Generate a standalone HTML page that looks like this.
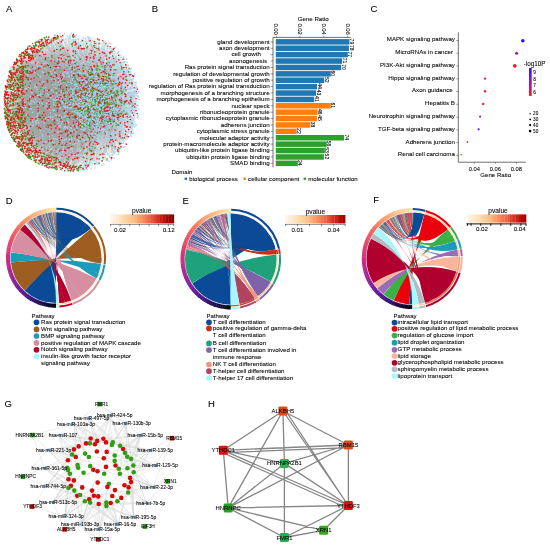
<!DOCTYPE html>
<html><head><meta charset="utf-8"><title>Figure</title>
<style>html,body{margin:0;padding:0;background:#fff}svg{display:block}text{font-family:'Liberation Sans', sans-serif;stroke:#000;stroke-width:0.07px}</style></head>
<body>
<svg width="550" height="548" viewBox="0 0 550 548">
<rect width="550" height="548" fill="#fff"/>
<defs><radialGradient id="ag" cx="0.55" cy="0.5" r="0.5"><stop offset="0" stop-color="#dadcde"/><stop offset="0.8" stop-color="#e0e2e4"/><stop offset="1" stop-color="#e4e6e8" stop-opacity="0"/></radialGradient><filter id="ab" x="-10%" y="-10%" width="120%" height="120%"><feGaussianBlur stdDeviation="0.35"/></filter></defs>
<ellipse cx="71.5" cy="102" rx="66.4" ry="67.9" fill="url(#ag)"/>
<path d="M91.7 104.6L121.9 127.2M92 101.4L122.9 114.6M100.1 100.4L24.1 52.8M73 75.3L17.1 144.2M119.6 105.4L63.3 168.7M98.3 90.5L37.9 61.1M90.5 96.6L19.8 132M84.5 101.2L56.4 55.4M80.8 90.8L65.2 52.6M101.5 97.2L18.3 67.6M113.7 102.7L13.1 72.5M87.2 116.5L24 75.4M111.8 71.6L49.1 63.7M89.4 80.1L93.1 56.5M80.4 110.7L9.5 129.1M115.7 106L45.7 154.7M107.4 104.9L119.2 58.1M101.9 90.1L32.6 138.5M99.7 104.6L46.3 160.2M94.9 99.2L31.5 137M89.3 83.4L52.1 62.4M113.3 84.6L86.9 51.3M90.1 101.6L111.8 119M97 105.5L83.4 169.9M104.9 105.4L62.5 168.3M90.6 103L124.7 99.6M89.5 98.6L32.2 142.9M96.5 100.4L27.1 93.9M92.1 97.2L134.7 93.2M91.6 88.5L9.4 113M99 121.4L109.8 49.9M103.9 78.6L5.4 117.2M105.4 99.8L27 124.1M106.9 94.5L45.7 165.2M75.1 78.4L13.7 109.7M96.7 92.8L124.6 67.4M95 83.2L25.7 64.9M107.8 95.7L57.6 169.1M114.5 84.7L13.6 87.7M96.5 99.6L38.3 55.5M107.7 92.4L93.4 58.8M94.9 108.8L10.4 101.7M114.4 118.9L24.6 123.2M69.5 111.9L17.5 90.8M108.9 99.6L58.3 163.3M84.2 94L12.9 80.2M108.1 108.3L38 156.6M74.7 89.7L17.3 122.6M79.4 97.5L18.4 118.8M64.3 102.3L119.7 53.7M94 114.6L96 62.5M105.1 107.7L45.5 158.4M100.9 70.9L10.3 73.3M120.2 75.1L21.7 118.9M102.3 109.7L46.4 143M86.3 116.9L4.3 109M86.1 113.8L133.9 129.3M103.3 64.3L42.2 154.1M94.1 104.8L44.4 152.7M76.8 89.3L27 128.3M79.5 80.5L33.9 54.7M83.7 101.4L115.4 79.7M105.9 109.5L70.8 170.8M98.4 108.7L18.7 67.2M100.3 108.8L44.3 156.4M87 95.3L112.4 83.8M100.8 85.4L98.1 55.7M75.2 97.2L36.1 156.9M90 80.2L23 151M114.3 107.2L60.3 162.5M108.3 83.9L43.9 161M102.8 109.8L23.5 108.1M90.5 109.4L22.9 141.2M99.7 112.7L39.5 159.5M97.7 98.7L46.1 161M95.1 79L109.7 64.9M77.7 131.4L10 71.1M109 74.4L65.2 38.6M105.1 110.2L103.8 46.1M103 82.7L46.9 45.8M95.4 101.2L30.4 140.1M77.9 91.4L48.4 51.2M118.2 98.5L16.5 101M92.4 94L70.9 146M92.9 118.9L13.7 120.2M86 77.7L43.8 66.6M101 106L52.5 156.5M99.6 98.4L16.5 85.5M91 113.2L28 111.5M101.8 92.6L110.4 85.2M71.7 104.1L25.2 117.5M102.8 128.4L12.6 102.7M101.6 96L7.4 98.4M92.3 89L29.8 105.7M110.1 98.3L57 145.9M88.7 107.4L132.1 102.7M98.5 92.4L56.5 37.3M91.9 110.2L22.5 147.4M100.7 99.8L56.9 167.7M95 108.2L90.5 151M121 90.7L26.1 52M110.3 92L129.5 121M74.3 104.6L61.9 144.5M101.1 95L43.7 144.6M92.6 62.5L13.7 88M88.8 102.8L23.2 116.7M109.2 97.7L53.3 166.3M103.1 103.2L17.8 104.8M83.5 105L34.8 138.7M104.7 102L110.7 142.5M77.2 79.2L38.2 158.7M64.6 108.8L101.4 70.6M115 102.1L15.6 111.7M108 98L101.1 43.2M104.7 96.3L20.2 76.8M79.1 102.4L26.8 67.5M88.2 89.2L43.8 156.8M98.8 101.2L26.1 75.4M97.9 115.4L38.9 146.7M78.4 76.7L76.1 150.4M114.7 93L9.2 82.8M80.3 72.3L14.2 137.1M101.2 77.6L90.1 167.8M85.9 120.3L8.9 121.3M78.3 107.6L103.5 144.9M103.1 132.2L83.4 169.1M116.6 81.9L136.8 101M91 105.3L70.5 59.2M88.5 87.1L24.7 154.4M92.7 109.9L120.1 150.8M98.2 109.8L94.8 52.9M109 102.5L41.2 41.5M97.6 96.1L86 169.7M103.8 93.2L112.7 70.8M90.4 130.4L66.9 163M90.8 107.5L4.8 91M96.5 112.7L121.1 86.9M94.9 111.8L113.6 81.1M101.9 77.9L79.7 44.2M89.6 108.1L17.6 60.4M95.2 88.2L37.5 162.6M74.6 98.2L46.3 159.7M85.1 78.8L48.3 62.2M100.9 88.9L28.2 147.4M98.1 107.3L10 103.4M110.5 97.3L30.1 63.9M106.8 106.8L107.3 44.7M105.5 100.7L9.5 102.4M104.5 87.4L9.5 94.7M100.5 104.8L6.5 98.9M106.5 98.8L91.3 149M101.7 120.2L112.5 119.6M82 108L110.6 127.7M90.5 85.4L30.7 154M72.5 111L40.3 138.7M93.8 89.3L40.2 47.8M72.6 113L93.7 139M77.4 92.1L121.3 133.8M84.4 109.2L40.9 149.6M106.7 107.5L117 92.2M116.8 120.2L29.2 106.7M106.5 92.2L24.7 56.9M107.2 117.3L26.3 133.1M98.7 106.3L6.5 116.9M95.4 118.9L125.9 116.7M95.2 94.4L114.6 142.2M77.6 92.4L17.7 135.1M87.3 86.1L20 119.1M97.7 83.9L8.9 126.6M89.8 100.4L16.4 116.1M113.4 108.4L29.1 98.9M82.3 97.7L114.3 152.3M116.1 97.5L94.9 166.8M62.5 99.7L103.6 157.5M99.3 96L24.5 71.8M91.3 121.6L8.4 120M93.8 113.4L8.2 81.2M96.4 91.7L37.5 61.9M106.5 86.1L104.9 71M113.3 97.2L29.1 65.7M84.1 92.3L28.1 118.8M94.8 93.9L70.2 161M112.2 96.3L55.5 141.5M102.2 99.6L21 125.4M100.5 93.8L5.2 86.6M91.2 102.9L48 161M100.2 115.4L116.1 153.6M95.3 105.4L18.2 92.4M86.7 103.9L9.6 89.4M86.4 86.8L66.6 53.5M98.2 95.8L31.2 129.6M116.1 106.1L5.9 109.6M100.5 114.9L31.2 51.2M100.1 108L16.3 59.2M107 80.2L68.8 48M95.9 104.1L23.3 72.5M92.6 88.1L13.8 127M84.9 96.5L117.5 91.5M96.7 96.4L35 143.8M81.4 83.4L124.5 94.8M105.7 81L15.2 125.9M84.9 93.2L21.2 95.6M96.9 100.4L42.3 39.1M98.7 98.7L30.9 55.6M94.6 93.2L29.6 151.6M106.6 73.2L45.7 38.1M97.6 100.2L93.7 46.6M103.3 81.6L72.8 166.4M98.2 108.9L35.9 157.7M80.6 128.3L106.4 53.7M108.2 100.6L22.8 66.8M86.2 95.9L125.3 137.4M95.3 98.6L8.6 122.4M83 98.4L67.1 169M93.1 106.8L27.5 102.5M91.5 94L51.2 41.7M86.5 89.2L15.9 143M97.2 96.1L22.5 116.1M96.5 112.4L73.2 40M87.7 88.4L7.4 85.1M74.2 106.4L109.9 141.8M102.2 91.7L37.6 148.6M99.3 104.3L26.6 154M91 105.4L65.7 57.5M100.9 96.6L12.3 70M91 93.3L20.6 141.2M100.1 78.7L34.7 60.7M106.1 111.8L22.8 129.7M86.8 102.5L117.5 57.9M87.2 73.8L37.2 58.8M87.9 114.9L22.9 132M88.2 90.8L14.6 128.4M81.4 71.3L10.6 87.6M59.8 100.2L19 109.4M109.6 92.3L17 103.9M76.5 96.6L20 94.8M103.5 95.1L22.6 142M122 124.1L19.6 138.9M77.3 107.6L41.9 154.7M109.8 92.1L20.3 57M110.5 114.3L35.1 60.1M86.4 94.5L35.7 150.3M105 76.3L56.1 157M112.4 115.4L29 50.4M94.7 111.7L35.7 158.7M81.4 99.8L43.5 57.4M118 86.9L25.7 66.2M93.5 96.3L40.7 163.7M97.3 120.4L27.2 65.5M77.4 83.7L121.3 62M99.6 90.7L11.9 90.1M70.1 108.1L67.2 150.1M104.7 109.6L15.3 125.4M78.8 98.2L134.5 104.7M78.6 101.3L99.6 57.1M66.1 114.1L4.9 90.3M79.8 85.5L38.5 162.9M80.1 97L130.3 115M86.7 89.6L34.8 143.9M73 94.4L18.7 130.9M100 88.4L25.7 134.3M92.9 113.3L35.8 48.6M89.5 107.9L18.4 101.8M115.2 103.2L30.4 89.7M94.5 99.4L21.3 89.5M81.3 86.4L52.5 46.6M91.2 89.8L12.1 118.4M101.6 102.9L19.3 89.4M98.8 81.7L32.1 155.8M78.1 105.9L124.8 121.5M101.3 99.6L12.4 71.1M92.9 98.7L23.2 100.9M81.8 100.1L6.5 88.9M96.3 98.1L120.7 150.2M117.3 111.8L55.6 161.6M89.2 73.1L122.2 132.4M91.3 84L69.8 169.6M94.6 96.1L5.8 87.3M87.1 117.5L28.9 46.5M83.5 110.6L19.1 85.4M82.8 112.2L26 128.3M102.1 67.5L26.2 81.3M127.6 111.1L95.2 56.1M66.8 75.9L30.9 71.4M70.5 109.8L21.4 84.6M98.7 88.1L41 157.1M105.9 73.1L31.1 47.1M109 79L115.5 74.9M109.2 106.4L90.3 161.7M103.6 94.1L47.7 52.2M97.7 107.6L85.4 49.1M115.1 110.3L77.6 159.2M116.6 81.7L15.5 110.5M98.2 105.9L15.5 79.1M82.2 107L25.7 140.8M96.8 90.6L40 149.4M98.4 98.4L108.4 59.9M85.8 93.9L11.6 132.8M97.6 74.1L70.4 145M97.5 105.8L36.6 53.5M99 95.5L35.2 129.9M104.7 95.5L28.5 48.4M88.7 86.6L24 81M101.8 100.5L126.9 79.3M89.8 114.6L111.6 134M94.7 104.7L95.2 145.1M107.2 113.3L9.3 72.6M103.2 94L115.7 51.8M104 108.9L9.1 92.9M101.6 84.7L101.6 140.5M114.3 105.2L111.8 154.8M93.6 111.3L28.8 149M83.3 123.6L54 39.8M90.6 90.2L60.6 150M98.7 109.8L136.7 101.2M103.8 104.2L128.5 124M85.3 132.7L20.5 55.5M119.6 98.3L92.4 152.1M102.8 93.2L102 138.7M97.6 77.7L77.3 168M84.6 98.3L18.9 97.2M87.4 93.6L20.1 74.4M117.3 106.1L23.4 117.3M68.9 101.9L22.8 145.2M94 97.3L19.4 120.9M109.9 112.2L105.3 63.1M91.9 85.6L131.6 126.9M109.6 93.7L17.1 91.2M128.7 102.4L55.1 167.7M96.3 95.1L7.8 76.5M81.2 88L58.5 58.7M109.1 82.9L7.2 120.7M89.1 101.9L101.2 65.8M75.7 88.5L27.8 135.6M82.1 95.9L79.9 51.5M95.7 109.7L29.7 52.2M124.3 90.1L16.5 135.3M90.2 97.1L7.2 119.7M117.1 93.7L28.7 53.5M115.2 80.1L16 91.4M92.6 114.1L36 67.4M81.2 96.2L60 151.1M91 92.7L124.4 86.7M93.3 112.5L98.6 139.4M102.4 106L33 160M71.2 90.9L18 76.2M101.2 117.5L16.4 84.5M84 100.2L47.5 163.8M93.3 97L32.2 50.5M84.4 98.6L54.1 162.6M97.6 102.1L31.2 118.3M84.3 107.1L108.8 133.3M115.6 92.6L30.8 146.1M76.1 81.1L11.4 95.1M94.1 76.1L84.6 42.2M100.8 94.5L132.5 103.7M81.9 90.2L23.8 78.3M100.5 72.2L31.9 140.2M74.9 103.4L20.1 140.9M85 118.6L18.8 102.2M99.4 108.1L4.9 104.2M105.1 92.5L107.1 43.2M98.9 111.1L113.8 104.9M81 92L79.6 46.1M110.7 97.8L50.9 53.1M84.1 111.6L10.5 114.4M81.4 107.7L121.1 54.3M81 99.2L121.5 100.8M71.5 93.5L23.2 52.1M110.7 85.8L135.7 98M88.3 101.6L7.7 118M102.6 114.7L30 158M92.5 95.1L24 64M106.1 98.3L20.2 70.5M100 112.4L65.7 161M51.4 89.3L33 126.6M107.1 116.3L72.8 168.1M102.9 81.9L110.4 118.4M96.5 86.6L43.1 140M94.4 103.9L26.9 76.1M82.8 102L4.6 94.1M118.2 87.2L38.7 146.4M63.2 98.9L18 142.8M85.4 122.7L84.2 54.8M100.7 108.9L13 106.6M85.1 106.7L23 149.8M93 107.4L7.3 84.6M93.4 92.5L27.2 53.4M107.1 77.9L24.8 147.5M103.6 95.7L24.5 100.5M88.4 100L67.1 167.8M84.4 91.5L20.3 98M106.2 108.9L63.7 164.2M80.7 110.6L52.1 151.4M102 102.2L45.8 156.8M107.9 108.6L6.5 121M91.5 106.6L13.8 74.8M113.9 85.8L101 66.2M94.5 101.1L44.9 57M78.7 108L72.1 166.5M84 112.7L10.9 69.1M102.5 99.9L29.9 158.4M88.1 115.2L30.3 55.6M94.6 111.9L46.9 137.1M106.4 78.6L7.2 97.2M112.6 112.8L27.2 134.9M93.9 103.5L12.3 133.3M87.4 78.1L33.8 61.9M114 104.7L6.8 118.2M95.3 94.1L88.2 55.4M62.1 88.1L25.2 88.6M106.4 102.5L50.8 167.6M89.8 79.3L43.9 161.2M106.1 93.3L35.9 47.4M83 118.7L74.5 55.6M86.2 82.8L77.9 38.1M103.1 105.1L50.2 166M101.6 117.1L9.7 127.4M96.7 98.8L71.6 57.8M87.5 62.4L114.4 137.7M87.3 101.4L136.5 105.5M83.8 83.6L43.4 61.1M95.2 105.1L36.1 152.4M111.8 73.5L13 68.1M100.2 87.8L20.1 107.9M95.3 101.8L27 54.6M87.2 70.9L17.4 104M101 107.2L124.3 131.8M102.3 110L108 125.6M87.1 101.1L134.5 103.1M109 80L37 155.8M84.6 103.6L21.2 88M100.6 107.4L6.5 106.7M104.9 103.9L135.5 90.1M118.3 71.7L24.8 57.3M113.2 105.2L55 157.3M109.2 93.7L56.1 151.3M97.3 96L7.1 81.1M88.3 87.4L22.9 130.8M83 92.8L20.9 108.3M94.9 103.8L71 157M86.2 94.9L114 139.3M90.5 95.2L33.7 51.9M95.3 91.6L63.7 57.8M101.3 86.6L24.1 67.2M103.9 101.4L50.6 160.4M70.7 110.2L111.3 59.8M117.8 85L21.6 72.4M84.7 76L31.1 136.5M94.3 94.2L117.6 136.1M97.1 92L49.4 57.6M99.9 111.3L32.2 79.5M101.2 98.8L93.8 155M90.1 117.2L19.8 110.2M97.1 97.3L24.3 55.7M87.5 99.2L20.1 143.6M91 94.7L6 101.1M85.6 109.2L32.1 136.2M112.1 98.6L54.5 35.1M90.1 88.9L15.3 118.5M62.9 92.3L126.3 114.2M98.5 71.8L31.8 57M88.1 106L118.5 52.6M90.4 87.9L67.9 46.5M87 88.9L35.2 126.9M89 107.8L21.1 108M95.4 107.5L65.7 163.8M81.5 102.1L56.6 146.6M105.1 102.5L23.7 77.5M79.2 122.7L112.5 125M61.3 79.4L25.4 68.3M108.6 104.2L63.7 150.4M102.7 99.1L13 77.3M100.4 114.8L43.1 63.1M91.6 64.8L127.3 133M103.4 89.6L55.8 160.3M76.2 75.3L31.8 148M78.8 109L30.1 147.6M94.4 112.5L55.3 37.3M93.1 86.5L61.5 163.8M115.1 110.8L13.9 111M85.3 83.3L20.4 72.7M96.9 75.6L16.8 127.8M101.4 95.5L20.8 121.4M69.5 127.8L13.2 64.4M98 101.4L27.8 85.8M106.5 93.4L40.5 39.3M96.7 88.5L13.8 102.4M82 117.4L42 162.3M111.5 111.2L20.1 91.5M110.6 104.2L7.6 92.9M93.9 111.8L23.2 92.5M98.5 114.5L42.3 153.2M92.6 109.4L107.6 71.9M87.8 82L14 70M101.7 124.1L53.3 40.4M107.4 115.2L17.7 57.6M85.6 97.7L71.8 164.3M84.2 122.4L13 121.9M103.5 115.8L11.9 68.5M85.8 110.1L43.5 141.7M121.4 92.5L64.9 148.4M94.5 102.9L14.7 116.8M93.8 99.4L39.1 54.5M76 92L114.7 57.3M85.8 104.7L17.7 144.3M96.3 98L115.1 79.8M85.3 89.9L53.9 159.8M101 70.2L16.7 81.1M84.2 94.6L132 102.4M104.4 85.6L118.7 100.4M80.3 82.4L15.5 76.7M80.2 85.3L7.2 92.5M87.2 91.4L12.2 112.3M80.3 96L13.5 113.1M98.7 89.2L27.3 57.6M107.9 73.7L121.1 116.1M106.8 77.1L61.1 169.9M80.4 116.4L29.5 115.1M59.9 125L20 119.3M101.5 77.1L13.8 83M96 110.5L18.9 144.5M90.9 96.1L12.7 74M96.3 122.6L7 90.9M74.6 108.7L41.4 134.1M83.4 102.4L56.8 153.3M80.8 79L29.6 134.9M107.4 130.4L29.7 146.2M92.6 102.4L30.6 141.6M67 98.6L127.5 111.3M80.9 101.4L24.4 130.5M105.8 89.1L9 97.3M84.8 79.3L18.5 107.6M101.8 104.2L21.7 53.4M95.3 81.2L13.2 82.6M113.8 104.7L63.3 166.9M133.9 99.5L38.9 161.4M105.5 85.2L33.5 123.3M86.2 122.6L102 62.7M96.3 102.1L33.1 141.8M77.8 99.2L28.5 64.2M91 96.5L14.2 112.1M90.4 107.3L56 161.4M100.6 81.5L120.7 80.2M98.2 94.9L20.1 92.6M110.8 105.6L25.2 61.5M90.1 88.3L32.3 58.1M96.6 103.8L15.7 137.7M111.4 87L35.9 153.5M88 113.1L42 46.7M108.5 117L38 129.8M81.4 110.7L11.8 109.9M93.1 84.3L120 145.4M116.2 118.5L123.2 80.9M92 109.6L6.2 103.4M107.5 106.3L25.2 68.6M101.1 101.8L21.4 126.4M104.9 118.6L21.2 61.6M110.3 101.3L14 89.9M87.4 108.1L95.5 142.8M105.9 93.8L110.1 61.8M98.4 102.7L112.7 140.1M88.7 96.5L100.5 151.4M82.6 97.5L15.3 140.9M96.7 124.3L104.5 74.3M109.1 92.8L17.1 75.7M97.8 119.5L39.4 159.6M84.3 96.8L121.1 131.7M96.8 115.4L61 59.3M95.5 115.6L127.3 117.1M86.5 75.7L29.3 62.7M125.8 100.1L16.3 139.3M93 78.5L24.1 150.9M97.2 109.4L133.2 100.9M79.9 99.9L123.6 67.3M89.3 91.5L107.2 48.8M112.3 109.3L7.4 82.6M109.5 71.1L69.5 37.9M100.6 81.6L36.7 53.6M64.2 91.8L45.8 162M96.3 113.1L47.5 45.1M77.3 112.3L44.1 39.7M101.1 86.2L9.6 87.8M74.5 84.1L125.3 103.6M101.3 98.6L20.8 131.1M83.7 101.1L27.9 144.3M93.5 103.4L17.3 79.8M97.3 91.8L132.5 118.6M99.2 107.5L40.2 139.5M108.7 86.6L27.7 137M109.9 93.8L95.2 162.5M103.3 111.6L12 129.8M91.4 102.8L107.8 58.4M73.7 118.9L49.4 63M85 88.1L32.7 148.8M86.5 88.7L42.1 41.6M82.6 98.1L131.2 124.8M88.3 82.8L10.3 70.1M91.8 104.3L107.3 72.3M80.5 89.1L24 137.6M90.8 119.6L23.9 108.6M81 79.1L21.7 149.5M90 78.7L27.3 146.7M100.5 92.6L95.5 147.1M105.3 101.6L56.2 159.4M98.7 108.8L71.1 168.9M69.8 120L19.2 127.3M97 86.9L19.3 68.2M84.6 78.9L15.8 112.5M93.6 120.3L25.1 53.9M104.5 94.2L17 67.6M97.2 92.1L18 93.2M70.7 117L42.8 147.1M99.1 86.7L33.4 48.7M81.4 73.5L27.2 149.4M69.6 97.7L25 76.7M85.7 93.4L86.7 39M106.3 113.8L7 101.8M112.2 85.3L32.5 48M108.8 112.9L33.7 69.1M111.1 105.3L64.7 149.3M95.9 103.7L133 92M82.2 113.6L24.7 49.6M90.1 92.8L4.5 108.8M97.9 92.4L9 92.6M86.7 94.2L87.7 164.8M100.8 83L20.6 63.8M90.8 100.2L62.5 44.9M82.4 107.1L81 166.6M118.5 97.4L38.8 163.2M108.4 104.4L20.5 125.9M83.6 101.3L16.1 140.5M93.6 82.4L53.1 163.6M84.5 64.7L133.9 80.5M91.4 77.6L52.7 158.9M91.8 79.9L27.9 143.8M106.1 97.4L58.3 161M99.8 84.5L71.4 166M55.9 105.1L86.5 48.9M98 91.9L6.7 106.7M95 100.7L55.1 36.4M108.8 96.3L23.7 145.5M98.8 92.1L49 164.4M119.4 99.4L30.1 111.8M107.3 87.7L35.3 144.9M76.5 99.8L24.1 139.9M101.1 104.2L20.8 71.1M91.3 84.5L15.4 73.8M79.3 109.4L75.2 161.2M89.8 84.3L27.2 135.2M80.7 82.1L19.3 55.7M96.8 128L15.8 85.3M103.9 93.1L20.4 79.3M103.1 111.3L42.8 46.2M72.3 89.7L29 61.3M96.6 93L10.4 110.2M116.5 99L19 125.8M98.7 111.3L29.6 142.9M109.8 77.5L28.5 140.1M105.6 112.2L76.4 60M100.7 100.9L25.9 68.7M82.2 101.7L31.8 47.2M92.5 74.9L103.4 48.6M114.3 101.8L12.4 130.1M108.3 126.1L11.6 76.2M88.3 107.4L17.9 89.4M116.7 62.3L64.3 150.3M92.7 99.4L33.2 145.8M112.8 83.2L122.4 142.2M87.9 114.8L6.4 112.5M76.5 94.4L120.1 81.6M112 87.7L111.9 128.1M88.4 125.5L44.8 151.4M101.2 110.5L49.1 43.5M95.2 88.2L52.6 157.2M84.2 84.4L21.9 66.2M93.4 102.5L64 167.2M114.5 94.2L15.2 62.2M90.6 110.6L14.2 123.1M120 114.9L30.6 58M98.8 123.3L47.9 57.7M103.4 98.5L104.1 153.1M78.7 88.1L64.3 162.1M81 110.7L78.7 145.3M120.3 100.4L20.7 76.8M94.9 110.4L108.9 134.2M98 87.8L15.5 63.7M97.5 110.6L20.2 92.2M113.2 104L75.5 144.7M89 100.4L61 58.4M106 108L44.6 165.7M106.2 103.1L123.6 79.6M103.3 102L11.7 76.5M120 92L46.9 155.6M96.3 103.3L15.6 72.3M91.4 106L42.2 137.6M109.8 96.5L12.7 116.1M94 81.9L17.1 118.1M109.4 116.5L67.7 37.3M76.1 118.7L49.3 156.4M102.9 102.5L12.4 133.4M94.9 80.8L22.3 137.6M126.6 100.5L24.8 119.7M54.7 100L84.8 165.2M110.3 147L81.4 169.1M89.2 110L10.8 84.5M107.8 118.8L11.1 97.4M76 90.2L47.5 154.1M99.2 103.7L14.3 69.2M103.9 101.3L10.2 101.9M109.6 85.6L118.3 88.7M107.4 93.3L39.1 39.9M92.4 108.4L108.3 62.2M70.2 93.4L39.6 55.1M102.2 104.5L17.2 68.6M121.8 78.2L16.4 104.7M94.7 107.5L5.6 115.7M94 79.8L41.8 45M109.7 98.9L56.6 44.2M108.9 127.7L77.1 155.3M103.5 95.7L29.4 141.3M101.4 104.6L37.5 162.1M83.7 105.6L13.7 102.5M82.5 114L56.2 169.6M91.5 91.1L29 55.3M85.5 65.5L16.3 63.9M102.7 82.1L112.6 60.1M95.7 100.1L64.1 53.1M96.1 98.5L9.9 78.1M93.1 118.4L115.4 107.5M126.6 84.3L26.7 151M82.1 105.4L82.8 169.9M110.3 107.9L66.5 164.9M93.4 86.2L96.5 164.8M91.1 96.4L18 81.9M98 121L119.5 135M102.4 117L83.7 55M111 108.6L102.1 139M89.6 94.9L74.2 150.8M80.8 105.4L130.7 113.9M97 108.6L50.6 46.7M102.2 92.9L7.2 84.9M98.3 120.1L57.5 35.6M98.1 87.2L17.4 75.6M98.5 100.2L110.5 157.8M105.4 87.9L18 113.6M72.9 93.9L18.1 120.9M97 109.2L57 40.8M85.2 108.2L124.8 78M106.3 106.8L63.9 144.5M123.3 94.6L11.9 127.1M114.7 107L30.8 119.3M90.5 101.6L118.2 117.9M95.8 91L6.7 113.7M105.2 117.6L25.5 151.4M101.4 96.9L41.5 48.9M86.5 91.5L58.7 41.5M100.9 104.2L121.6 142.7M89.8 106.3L33.7 147.4M90.4 105L18 103.8M73.2 80.7L41.5 160.4M99.3 88.7L21.9 143.9M102.2 104L21.5 134.2M111.6 83.8L15.1 66.1M87.9 87.4L109.4 145.1M82.5 118.6L37.6 52.2M94.3 78.5L133.1 121.6M81.3 93.8L31.9 47.3M95 104L45.2 166.3M94.5 89.4L19.6 139.6M105.7 94.8L114.8 67.6M112.1 85.5L26.7 54.8M71.8 111.4L84.8 152.3M73.6 122.8L118.8 150.2M112 101.8L9.8 72.8M71.2 94.4L41.6 140.6M94.2 74.6L21.8 129.6M102.9 94.3L26.4 153.4M80.3 93.6L113.7 156.3M111.7 98L98.3 163.6M74.2 91L28.2 154.3M95.7 100.7L124.8 61.7M109.9 93.7L29.1 84.9M79.1 80.8L7.7 98.4M81.3 105.5L106.9 125.7M83.9 115.4L75.4 150.7M87 97.2L110.7 74.5M77.2 87.4L57.3 42.3M91.5 122.6L134.4 124M89.8 99.9L19.1 57.3M77 102.6L39.3 156.8M95.3 106.7L16.8 138.2M99.8 105.8L53.6 164.5M101 111.6L63.1 170.3M84.8 65.6L24.3 147.6M90.3 85.9L29.3 45.8M107.3 81L10.3 92.7M85 102.5L39.3 48.2M101.9 95.7L8.9 101M110.4 92.4L56.9 160.4M95.9 95.1L12.2 123.9M104.5 90.6L124.7 76.2M83.4 99.7L7.5 96.8M86.2 107.4L41 152.2M105.6 114.8L54.7 160.8M100.6 105.5L42 155.1M121.6 81.2L110.6 80.6M107.4 91.7L28.6 135.6M95.4 80.5L113.2 112.4M96.9 99.9L40.5 68.2M99.3 105L39.8 40.8M71.9 125.8L18 142.5M136.7 91.3L92.7 144.6M102 107.9L123.5 122.6M93.6 94.9L21.4 61M108 86L6.2 107.3M80.2 111.3L20.1 114.3M78.4 107.9L64.5 49.4M126.4 89.9L33.5 67.7M87.7 105.2L87.8 40.7M112.2 62.1L45.7 159.6M93.6 115.8L29.5 48.5M99.8 95.5L73.5 56.1M96.2 81.1L25.7 73.7M100.1 95.7L111.1 132.5M114.9 115.2L19.9 75.6M91.5 93.3L63.2 54.8M89.1 89.3L18 104.4M70 105L5.9 111.8M86.8 88.4L24.7 57.1M116.7 111.2L123.8 113.7M74.7 102L34.4 159.1M97.8 104.5L105.9 135.1M83.2 98L27 66.8M100.1 125.8L132 90.6M84.1 86.3L30 117.7M115.2 85.9L69.9 53.8M71.5 103.5L112.5 80.1M88.3 82.9L58.7 166.3M84.7 98.4L14.3 108M109.2 121.1L4.6 110.5M96.9 104.4L22.1 94.6M90.1 86.7L33.7 58.7M107.6 83.3L22.7 98.8M96.3 132.9L49.8 167.5M105 81.5L132.7 71M86 79.5L10.5 105.4M109.2 88L117.8 105.9M105.6 120.2L45.6 44.6M83.6 96.9L21.2 136.9M117.3 108L119.3 142.7M94.1 105.3L6.1 93.6M92.5 81.7L36.5 42M99 104.2L85.9 57.5M78 97.7L23.2 132.1M99.5 98.4L44.2 160.9M86.1 105.6L81.7 161.2M102.2 85.7L123 74.6M97.1 102.5L31.1 147.3M85.1 103.2L116 82.9M101.3 107.2L11.7 136.4M113.1 115.5L104.1 152.1M109.4 103.5L10.6 73.3M88.3 85.9L127.1 138.8M104.2 98.2L53.3 161.9M106.7 97.5L11.3 84.3M89.8 85.2L18 120M71.4 98.7L14.8 124.2M108.8 112.2L11.6 69.3M114.8 103.8L110.1 135.9M111.2 103.7L36.4 152.7M81.3 113.2L18.2 74.8M109.8 119.8L110.8 137.5M94.5 97L33.7 138.7M83.2 123.9L109.9 57.5M113.3 94.4L28.4 82.7M80.2 96.2L25.1 141.4M96.8 108.3L19.5 100.7M90.7 90.9L61.6 163.9M88.5 76.3L71.9 168.6M82.4 97.1L26.3 133.7M74.1 100.3L13 129.9M81.2 114.8L84.1 149M99.1 79.5L31.3 55.3M94.3 102.6L24 111.7M98.1 89.2L14.9 70.5M93.1 112.9L122.9 61.5M104.4 87.7L55 167.4M117.5 86L23.5 130M90.4 102.6L23 121.8M86.8 92.4L16 144.3M79.8 113.9L8.4 81.4M114.3 100.5L58.8 148M112.5 75.5L8.6 101.8M106.2 100.6L26.7 67.9M101.5 104.3L26.9 130.2M123.4 123.4L31.6 51.6M92.4 100.5L89.6 55.6M97.4 83.4L120.2 119.7M97.5 116L102.6 53.4M77.3 113.2L48.3 167.2M105.5 104.7L18 116.2M58.4 94.3L10.9 117.4M100.7 91.2L39.4 142.8M82.4 86.9L26.6 141.3M83.7 95.7L28.4 51.6M106.9 94.7L11.2 85.5M97.5 120.8L97.1 55.7M94.7 94.9L12.8 83.6M97.6 105.6L54.7 55.5M90.7 92.5L97.8 152M88.6 113.1L8.3 124.4M87.9 116.3L24.6 58.8M86.7 94L29.5 57.5M85.7 108.7L97.4 47.6M109 109.1L22 76.4M105.8 119.9L135.6 108.5M72.2 107L8.9 88.7M103.1 124.6L80.1 168M100.6 103.3L28 65.3M102.9 78.4L20.8 107.6M107.5 113.8L83.5 48.9M105.7 128.7L14 68M90.6 85.7L24.4 143.5M116.5 101.6L108.4 64.8M98 109.6L42.6 56.7M87.6 96.8L17.8 111.8M97 89.6L32.8 154.1M103.7 103.8L20.8 107.8M87 93.7L15.2 108.2M110.9 114L12.2 82.9M80.1 69.5L8.3 118.3M103.6 88.4L54.3 164.3M80.7 103.7L136.6 109M96.1 101.5L20.7 77.6M99.6 120.2L17.2 74.1M87.5 87.9L125.5 126M92.3 91L66.8 57.5M108.9 75.7L41.6 162.8M107.9 105.8L32.9 155.5M100 77.8L46.9 164.2M110.6 110.6L118 100.7M116.3 103L37.4 145.4M81 96.9L13.2 124.3M105.3 89.6L21.3 81.8M86.3 93.6L100.8 67.9M76.8 117.7L128.8 106.9M78.1 79.5L105.7 139.7M90.1 77.6L15.5 91.1M108.9 99.9L5.4 99.3M89.9 88.6L52.3 155.9M97.3 92L132.2 130.3M115.6 101.3L56.3 165.4M89.3 101.4L50.7 167.2M84.7 107.3L10.4 89.3M95.4 87.5L33.3 47.7M95.8 87.6L23.4 112.8M102.7 92.2L34.4 124.1M67.8 107.9L4.6 101.8M100.6 95.1L13.3 74.8M105.3 108.5L61.6 170.1M102.2 102.6L113.4 151.8M86.4 102.9L30.6 55.9M120.6 116L5 99.2M113.4 105.8L62.7 53.2M86.6 98.2L35.6 158.7M92.1 116.4L20.4 57.2M106.6 108.2L61.8 50.7M71.6 112.4L23.4 97.7M80.8 79L128.5 133.8M99.5 107L90.1 153.7M93.7 92.3L115 136.3M83.3 82L19.9 141M87.9 77.9L24.6 135.8M86.7 97.2L131.8 88.2M109.5 97.3L75 163.7M88.3 68L107.4 67.2M98.4 83.6L29.7 138.8M105.8 82L48.5 167.2M106.6 115.1L32.7 55.8M91.7 107.7L29 136.7M94.7 98.3L78 150.4M100.9 98.9L23.2 74.1M95.3 108.7L23.7 152.6M100.1 93.6L130.8 110.1M102.3 79.3L89.2 58.7M85.1 95.5L14.9 104.3M71.2 80.9L25.4 81M106.3 92.5L34.8 142.7M83.3 82.8L80.7 48.7M73.7 103.2L26.2 60.2M100.3 93.8L24.3 117M109.1 97.7L39.7 66.7M102.9 96.6L16 128.3M67.5 115L8.2 101.7M82 98.7L22 100.3M60.7 70.8L24.6 153.2M107.8 102.7L49.8 37.1M104 83.3L122.5 106.1M93.7 116.1L12.4 110.5M90 101.4L89.4 46.3M108.1 109.7L132.2 96.8M120.6 105.6L60.6 167.9M107.7 73.5L8.1 103.7M96.3 80L14 110.2M109.4 89.3L124 111.9M75.2 91.2L32.1 62.6M84.3 86L111.2 88M83.6 122L23.7 63.1M98 88.9L9.5 113.9M67.4 81.3L117.4 87.3M82.2 96.7L24.1 59.8M99.6 67.9L42.8 151M107.9 119.3L4.9 110.4M91.4 104.6L34.4 152.2M111.9 114.2L111.4 153.4M98.9 89.8L89.2 56.6M121.1 98.2L122.7 138.8M97.7 79.8L121 97.2M109.7 72.7L20.4 84.5M85.5 93.7L20.9 109.2M102.4 91.8L50.5 61.1M98.9 76.2L24.4 68.2M98.3 103.2L32.4 44.1M95.1 92.3L113.6 126.9M81.3 75.4L13.8 130.1M96.1 120.9L83.4 46.8M92.9 91.6L37.6 151.3M97.6 109.2L24.1 119.3M108.2 92.7L103.4 63.8M94.7 104.1L76.7 56M58.8 114.4L23.6 146.6M104.8 90.1L21.5 93.3M89 88.6L59 154.8M66.9 103.7L120.4 77.1M101.9 96.4L29.8 50.3M60.9 118.6L19.9 145.7M95.2 83.4L24.6 77.2M97.3 110.4L22.5 103.4M86.7 88.8L23.4 102.3M84.6 104.2L10.5 100.8M95 109.3L7.8 124.8M86.8 94.6L61 163.4M102.3 91.9L19.3 122.5M91.2 97.2L10.8 84.8M116 86.3L5.6 86.4M91.6 98.3L36.4 65.9M86.1 101.2L13.6 129.3M101.1 81.6L26.7 138.5M107.8 130.7L14.6 90M104.5 104.9L28.4 52.2M110.4 81.3L56.3 148.3M91.9 87.5L34.7 153.7M73.6 87.4L21.8 150.5M121.6 99.7L18.7 109.1M91.5 106.2L13 82.4M91.5 98.2L82.2 155.8M105.1 98L76.6 43.2M75.2 105.4L86.7 156.7M77.8 85.9L28.9 156.9M82.8 115.1L100.1 157.6M111.1 112.5L73.6 168.3M91.6 124.8L58.8 163M89.4 82.3L30.1 151.8M97.3 96.3L56.3 142.1M103.4 91.9L68.6 169.7M82.5 91.3L18 112.7M78.9 122.2L21.2 81M91.7 104.1L36.6 73.1M119.2 85.8L15 79M101.1 87.6L47.6 60.5M85.4 88.2L94.6 159.2M105.1 100.7L29.7 47.5M96.4 83.4L43.8 147.8M106.5 94.9L108.4 71.2M65.3 89.2L12.9 66.2M100.8 96.4L63.2 52M89.7 85.7L135.1 120.2M77.5 113.6L90.5 55M92.2 97.2L128.5 133.6M89 85.7L134.7 79.6M112.6 108L37.9 75.1M107.4 91.6L90.9 55.9M124 103.4L52.1 158.1M86.2 83.2L13.1 139.7M91.1 100.2L125.2 144.2M106.4 80.3L14 79.7M104.5 110.3L116.1 151.4M86 102.9L17.3 126.2M107 88.1L118.1 98.7M106.5 99.2L18.7 120.5M92.2 76.3L17.1 73.6M76.4 85.3L31.7 143.1M101.5 97.1L21.9 72.6M78.4 96.3L35.9 53M82.1 90L30.8 81.6M82.9 104.1L10.1 107M83.8 103.6L107.4 125.4M92.7 85.2L7.1 100.6M121.3 100.5L59.5 155.4M93 102L96.6 59.6M94.4 118.1L21 112M97.4 121.1L99.9 65.9M63.6 77L27.7 113.7M114.6 105.8L23.9 58M118.5 79L118.4 136.7M86.3 102.7L66 57M96.6 109.8L47.2 150.9M98.2 90.4L38.9 162M106.1 94.5L112.4 136.9M81.8 85L8.5 107.2M74.4 79.1L69.8 159.6M91.4 120.4L43.8 152.5M99.3 105.3L49.1 164.2M95.8 84.8L21.4 141M106.2 90.2L71.2 170M75.6 94.9L42.2 151.7M82.2 113.5L25.5 94M100.2 108.6L31.5 90.6M91.6 84.6L43.4 154.1M84 94.4L34.2 156.9M100.8 75.8L116.3 61.6M98 100.6L43.7 154.3M83.2 90.9L34.7 140.8M94 123.2L20.7 90.2M93.3 103.7L8.4 89.6M94.2 103.5L127 117.9M90.1 104.8L42.8 39.1M81.9 84.2L99.3 162.1M101.2 103.2L14.5 115.9M91 70.7L132.6 118.9M106.3 99.3L5.4 98.2M88 122.4L118.6 141M98.6 85.2L6.8 85.6M101.7 109.3L23.3 140M75.8 111.3L23.4 69M89.2 95.1L31.1 150.2M111.4 110L90 38.6M92 104.6L53.5 52.7M90.8 104.3L10.6 117.7M88.9 107.7L69.7 36.5M82.9 113.9L7.9 108.4M112.5 82.5L75.9 165.4M118 103.8L18.8 83M81 106.9L40.5 39.9M86.3 81.6L48.1 38.6M96.8 98.6L21 63.9M96 90.5L122 64.9M83.1 106.9L17.9 84.3M71.8 99.9L22.7 125.5M62.5 92L8.1 123M84.2 115.5L23.4 152.5M92.6 94.8L30.1 151.5M120.1 111.4L21.6 82.3M88.7 114.5L10.5 70.7M103.5 106.4L46.2 167M94.3 102.4L52.9 159.6M78.7 91.4L20.1 73.9M80.7 100.6L20 96.6M113.5 80.4L25.9 105.4M92.2 119.1L104 129.9M87.7 107.6L120.9 145M80.1 122.2L38.5 146.1M74.4 85.1L24.1 108.7M100.6 95.6L48 36.4M104.6 94.6L34.5 147.3M123.8 85.3L68.9 165.8M108.4 99.6L70 153.8M86.7 93.3L45.8 64.6M99.4 95.6L44.8 140.3M135 119.4L11.2 118.3M124.2 92.4L63 157.3M115.9 95.5L100.7 56.8M71.4 88.9L31.5 50.7M88.5 94.7L28.2 119.7M80.2 107.2L11.4 74.6M104.1 73.8L90.7 140.3M95.5 80.4L48.2 154.1M96.3 103L109.1 132.8M59.7 112.2L28.4 155.6M78.5 109.6L18.7 57.2M85 87.8L120.6 141M89 87L11.5 96.6M75.5 101.4L29.9 124.2M79 101.7L127.1 100.2M90.6 106.1L68 53.5M77 52.2L7.5 87.4M73.9 128.9L35.8 149.5M74.6 76.1L114.5 102.4M108.5 101.1L7.4 114.9M103.3 87.4L34.6 148.9M85.2 95.4L119.1 103.2M83.4 122.3L119.5 113.5M76.7 83L21 63.8M82.7 104.6L129.5 68.9M93.2 77.9L9.9 83.3M91.9 127.1L121.2 108.3M92.2 102L123.9 64.6M108.5 98.4L20.9 76.3M96.7 91.6L24.5 52.5M99.1 92.8L24.9 131.7M61.6 79.3L132 71.5M113.8 108.7L36.6 143M107.9 103.1L19.3 80.5M88.1 109.5L52.5 38.6M85.8 121.5L24.2 78.1M90.3 95.9L28.5 157.2M90.6 77.4L88 161.5M103.3 81.9L7.7 106.4M110.5 118.9L113.8 82.5M93.6 113.5L33.6 153.8M109.4 88.8L17.3 69.2M94.7 98.3L83.3 57.8M102 104L100.6 134.1M93.6 98.1L17 145.8M94.4 107.7L16.6 137.1M119.6 101L30.3 103.9M97.9 125.8L89 164M100.2 93.8L29.9 84.8M87.4 114.4L30.8 58.5M91.5 101.4L40.5 46.8M100.7 108.6L31.8 59.2M93.9 115L76.7 154M113.8 111.7L65.4 166.1M84.7 86L72.2 54.4M87.3 96.3L62.8 168.3M109.4 85.6L48.7 162.2M100.7 99L35.8 75.1M96.4 88.5L22.1 92.5M107.3 93.7L24.3 109.2M97 82L27.6 49M116.6 94L7.1 105.6M96.8 89L19.4 105.6M89.4 77.9L133.4 101.6M93.3 117.3L121.4 82M93.1 100.3L23.1 91.8M106.8 107.2L57.6 167.3M79 98L65.8 166.9M105.4 96L31 151.2M95.4 96.7L50.6 164.7M69.6 120.3L15.2 103.8M74.8 84.3L5.2 113.4M94.6 85.4L57.8 167.4M87.9 105.7L79.8 150.7M58.6 101L25 65.9M115.2 116.3L29.3 61.7M85.1 99.4L8 121.4M107 86L103.6 147.7M88.9 99.2L21.7 115M111.7 93L31.7 46.2M105.2 109.8L19.4 115.6M108.1 114L48.4 162.7M122.3 87L118.9 124.4M85.5 101.1L109.4 75.7M61 96.7L29.2 115.8M79.9 102.3L90.7 148.3M97 97.8L122.9 137.7M68.7 111.7L31.9 44.2M99.4 100.7L15.6 75.7M89.3 96.6L24.1 119.1M104.6 80.6L71.6 169.7M72.7 72.1L101.5 66.9M100.7 76.7L128.2 100.4M101.7 104.1L20 97.6M96.8 98.1L67.8 150.9M99.2 93.3L117.1 66.6M93.9 97.1L24 59.9M88.6 97.3L6.2 86.9M94.9 121.2L29.2 156.4M86.6 93.3L103.5 60M79.4 104.8L41.1 65.2M85 92.4L61.8 60.3M83.7 97.5L94.8 51.9M87.6 90.2L8.3 118.2M96.4 82.8L44 158.1M120.3 102L43.5 149M91.9 91L22.6 63M102.2 103.5L13.3 104.4M107.7 90.8L61 155.6M108.9 92.2L28 144.2M80.3 97.1L74.9 57.8M114.8 101.9L39.5 55.6M108.9 101.2L36.7 75.5M115 117.9L102.7 155.5M118.2 86.1L87 59.9M71.9 103.4L8.6 75.4M64.8 86.6L103.6 69.6M87.7 94.2L18 90.8M118.3 110L122 80.1M112.7 107.9L32.6 147.1M84.9 100.6L10.3 73.7M76.1 99.9L33.1 153.2M110.4 81.5L14.2 78.1M86.9 84.4L11 78.6M105 84.5L58 48.2M82.7 109L33.9 139M110.9 87.6L33.3 54.2M84.7 83.6L64.6 166M73.9 92.2L70 154.9M91.6 102L49.9 50.5M69.3 90.5L26.2 144.8M84.9 98.2L22 87.5M123.1 78.1L10.5 116.7M108.7 104.9L75.5 50.4M90.1 127.7L11 89.4M82.6 88L111.8 70.1M117.5 99.2L46.7 64.7M119.7 110.8L9.8 126.4M91.9 94.5L68.3 55.9M97.1 63.9L88.2 36.4M91.6 82L91.7 46.1M91 90.9L27.9 68.5M99.3 99.7L30.9 140.1M77 94.2L12 128.4M80.4 95.6L18.7 56.5M101.5 95.2L127.8 118.8M101.1 106L17.2 67.3M82.1 107.1L47.3 37.1M83.5 94.4L128.9 116.9M75.4 120.4L18.5 131.6M91.3 117L14.1 76.9M75.6 90.7L31.6 121.5M100.6 102.7L44.2 164.8M107.1 113.5L71 165.6M88.8 85.7L41.6 56.1M105.4 104.7L29.9 145.3M114.1 109.8L35 140.2M85.1 97.2L24.2 114.3M117 75.8L115.6 109M121.1 94L32.1 64.3M88.5 101.3L64.6 146.9M106.7 85.6L56 157.7M90.9 122.2L9.3 88.8M108.2 105.2L91.1 58.1M99.4 108.2L78 160.6M100.3 99.1L27.5 102.9M64.6 103.2L12.5 107.6M120.9 105.2L43 143.7M106.7 125.9L29.3 143.3M86.8 95.2L17.7 72.4M97.7 98.3L23.1 90.7M86.5 84.7L33.9 54.1M86 99.4L22.2 96.6M89.5 116.9L16.1 64.4M123.7 79.3L37.8 157.6M84.2 75.6L21.7 117M100.4 79.8L101.8 70.6M109.5 99.2L32.4 57.1M96.1 104.9L48.3 53.5M81.4 88.6L16.4 99.3M82 101.2L118 142.1M114.8 88.5L44.4 138.5M108.5 106.9L103 66M94.9 74.4L101.2 64.5M87 111.4L24.5 118M103.7 88.4L48.7 159.5M82.6 112.6L137.5 107M91.1 113.9L83.1 144.5M97.1 105.2L29.5 97.3M92.9 113.4L18.8 128.7M107 108.2L119.6 132.7M87.2 118L120.6 69.9M98.4 105.6L87.6 60.8M85.8 103.3L111.3 59.9M94.2 75.9L11.5 95.2M76.1 94.3L26.6 51.7M117 67.4L49.3 43M96.1 101.3L104.3 155.9M101.7 98.3L27.2 147.2M119.4 92.6L6.1 106.4M91 106.3L17.8 96.8M73.2 87.2L30.6 53.5M96.5 118L10.7 72.2M88.2 118.6L16.7 93.3M88 111L71.3 58.1M84.9 97.4L68.7 149.4M98.2 125.4L36.4 162.7M111.7 90.5L17 114.3M88 125.6L128.6 130.7M103.3 90.7L113.6 50.2M117.4 108.6L22.9 59.2M114.1 84.4L126.2 87.2M93.2 78.7L8.7 120.7M93.3 123L52.1 44.2M78.1 96.9L124.1 104.5M103.7 96.3L114.6 125.3M96.5 95L90.6 39.1M93.7 128.1L17.4 128.2M92.4 92.3L42.7 153.5M95.1 130.7L93.1 159.7M88.4 112.5L8.9 102.9M103 106.3L29.7 84.1M95.9 112.7L22.9 61.2M113 97.1L21.6 132.4M109.7 84.6L6.7 119.5M76.4 84.8L51.2 62.5M84.8 99.4L28.1 135.6M78.2 93.9L61.8 150.6M97.5 103.8L111.2 79.5M77 119.7L138 92.7M93.4 102.6L9.1 119.7M75.6 101.3L67.8 170.6M99.4 102.2L103 71.4M103.4 74.4L52 163.5M98.5 100L83.2 167.6M95.1 94L15.8 90.4M90.6 89.7L86.7 165.8M81.4 83.4L132 126.9M97.9 82.6L10.8 105M84.7 95.8L80.9 143.4M68.9 94.6L85.4 156.2M80.2 89.4L12.5 98.4M106.5 87.4L52.3 60.3M94.4 109.3L25.6 116.9M93.7 85.5L112.6 80.5M72.4 74.2L34.7 146.6M84.6 104.1L62.7 36.6M114.2 86.9L20.5 146.7M90.6 104.8L111.9 147M86.7 103.2L51.4 140.4M106.5 79.5L58.3 149.7M92.6 91.1L39.1 54.3M105.1 101.4L53.9 37.7M125.6 114.3L95 43.8M99.1 106.7L6.6 109.4M108.4 124L56.6 168.6M98.9 104L27.2 62M72.6 91.6L20.3 76.5M98.3 108L11.1 73.1M112.9 102.9L134.4 105.7M104.8 90.6L32.5 46.4M85.8 85.4L29.6 104.7M82.2 94.1L18.7 141.1M94.5 70.9L97.2 63.6M73.6 95.9L36 133.1M112.3 93.7L45.9 140M83 92.3L39.2 47.6M75.3 88.8L4.9 99.2M89.2 77.9L69.9 156.9M97.1 79.5L124.7 136.1M113.1 99.5L118.9 126.3M82.1 75.3L6.7 118.7M119 78.8L49.5 166.4M77.2 107.9L9.1 77.4M77.9 106.4L13.6 137.9M97.3 92L5.1 115.3M110 110.5L11 75.9M80.3 104.2L10.6 106.3M108.1 96.9L72.9 38.4M93.9 85.3L89.5 158.2M103.5 98.9L21.5 151M99.1 94L126.4 83.4M111.6 71.9L33.2 53.8M81.6 79.9L6.2 97.3M63.8 83.8L11.7 83.9M88.4 99.4L41.2 150.5M77.8 118.2L124.5 61.6M91.6 84.2L19.8 105.6M112.8 102.9L28.3 128.6M107.2 97.5L124.7 86.5M87.1 94.6L10.7 107.7M111 89.4L28.6 88.1M90.5 99.2L47.5 160M96.9 97L23.6 74.3M93.3 98.9L24.8 111.8M81.5 119.2L86.5 48.5M70 98.1L47.4 162.2M63.9 107.4L25.5 133.5M112.2 111.3L103.8 160.1M103.2 100.2L116.2 101.1M92.6 120.9L42.6 39.7M85.7 121.5L22.9 87.1M96.4 94.1L80.3 146.6M95.9 119.2L105.6 139.3M122.2 110L6 113.7M103.8 96.8L18.1 100.2M83.9 95.9L112.3 88.2M87.9 98.6L13.2 129.3M79.1 69.2L15.3 62.6M98.9 86.8L44 46.3M112.5 90.2L22.9 62.3M87.4 92.8L12.5 67.6M85.5 94.3L16.8 68.9M81.8 102.2L32 157.5M114.7 99L38.6 163.4M92.8 86.8L97 63M106.8 90.7L23.7 141.5M93.7 102.4L59.5 42.4M74.6 113.5L66.7 167.1M85.8 96.6L113.5 103M121.3 91.7L13.4 88M105 82.3L44 40.6M113 114.1L26.6 136M110.1 103.8L61.4 51.6M78.3 84.9L11.2 81.8M80.2 95.6L65.4 151.4M80.3 109.8L10.4 69.7M82.3 109.1L11.6 128.9M85.2 114.1L15.8 121.4M89 83.5L39.6 70.3M86.7 85.5L118.7 81.9M100.5 90.4L134.1 104.2M81.5 102.8L37.8 137.6M88.5 80.9L37.6 154.9M73 120.6L104.8 137.8M101.7 110.4L6.7 82M101.3 99L32.3 137.7M108.4 96.1L111 146.2M115.1 79.9L8.1 77M92.9 96.1L85.3 52.9M116.1 98.4L33.6 65.4M83.7 118.9L39.6 138.9M108.7 97.7L38.1 145.1M69.9 102.9L27.9 128.4M95.7 77.7L130.4 68.5M82.4 95.5L4.9 115.2M106.1 97.5L121.8 107.1M99.1 79L28.1 105.3M105.8 78.8L13.2 77.5M80.2 98.5L66.2 40.6M83.6 117.4L21.3 86.6M116 89.7L28 144.9M111 101.4L131.7 128.2M54.3 78.2L59.6 40.8M89.3 101.1L115.7 58.1M98.1 113L35.1 144.7M59.8 107.6L135.8 92.2M104.8 118L17.3 99.8M88.9 116.6L22.9 64.4M105.5 97.8L20.7 91.5M66 123.2L13.9 72.5M84.1 104L13.6 139.7M117.9 96.5L40 62M97.4 71.6L9.2 120.4M106.1 83.1L4.8 89.5M84.4 111.3L8 111.3M94.2 85.7L71.3 50M119.5 102.9L18.7 72.3M68 89.5L27.4 131.8M93.5 97L22.6 132.8M98.3 92L53.5 147.9M101 99.4L6.8 114.3M92 110.2L35 150.8M97.3 101.2L64.2 56.9M113.5 103.7L59.6 170M105.3 104.3L123.9 67.8M83.8 84.9L40.6 55M75.2 112.8L28.8 131.1M87.2 109.5L51.6 159.6M100.6 111.7L5.2 103.5M86.7 98.7L50.5 58.1M96.3 109L21.5 61M99.4 111.8L115.7 131.2M103.4 121.6L18.5 120M71.7 95.9L69.7 53M94.9 115.5L7 122.4M73.9 90.5L13.6 125.5M121.2 95.1L11.7 111.8M103.4 79.5L70.5 157.4M78.4 93.4L21.4 54.8M105.2 84.9L67.9 43.5M98.8 95.7L47 166.4M102.4 112.4L30.8 111.4M85.2 96.2L20.2 138.2M105.9 116.1L51.9 142.1M100.3 96.8L73.7 47.2M100.7 93.4L126.6 64.8M103.1 86.7L101.9 58.5M94.9 101.3L38.2 145.4M90 85.1L31.8 137.7M64.3 114.7L19.5 100.2M61.4 114L133.7 78.6M80.8 112L47.5 65.8M86.6 77.6L73.9 168.1M114.8 113.6L17 133.5M74.8 81.9L52.3 140.8M84.9 81L92.2 41.1M78 80.9L74 167.4M84.5 126.7L24.3 118.3M85.9 123.9L10.7 73.2M111.1 83.6L117 115.2M91.2 92.7L41.4 146M106 75.6L18.8 120.8M124.5 95.3L129.5 134.1M101.2 99.8L91.8 161.4M92 90.8L129.7 101.3M118.2 95.4L101.7 41M93.2 92.9L9.6 76M88.1 99.9L121.6 138.7M102 127.6L6.8 91.9M83.6 86.2L93.1 153.1M104.3 82.5L5.4 118.2M114.6 113.5L57.7 154.7M100.1 99.7L74.3 54.8M92.9 102.7L13.3 114.7M121.7 60.1L114.9 114.4M91.8 91.9L112.1 116.7M108.3 97.7L34.2 75.7M88.6 108.7L83.5 42.4M101.1 111.1L94.9 148.6M63.2 69.7L14.4 80.8M98.1 93.1L46.2 159.7M92 84.9L20.1 66.9M94.2 66.3L10.1 79.6M104.3 91.5L12.5 67.7M112 82.9L22.3 124.2M70.9 112L7.1 116.1M94 101.9L33 65M99.8 82.4L115.2 128.5M102.6 99L109.9 146.8M81 111.5L104 41.3M107.8 95.2L75.3 52.7M87.5 112L125.1 141.3M86.6 82.7L26.3 138.4M75.8 105.2L107.9 124.6M102.9 94.9L31.7 129.7M108.7 99.1L111 116.4M88.8 124.1L69.4 154.7M77.3 108.2L22.9 148.7M75.5 107.3L119.3 119.9M86.5 94L6.4 107.6M98.4 94.6L118.6 134.7M82.2 94.3L109.3 67.3M103.1 101.2L20.8 64.9M86.2 105.4L11.4 74M101.3 108.1L117 71.2M96.5 91.9L42.6 156.3M92.5 106L23.1 77.8M90.9 100.5L69.1 163.1M80.9 99L22.3 123.9M58.7 90.2L14.9 142M100.1 92.6L64.7 153.9M84.5 100.3L6.5 83.7M101.1 97L37.1 156.3M99.9 94.6L36.6 66.6M86.3 109.1L80.5 47.8M106.1 103.1L23.7 123.4M92.6 95.1L53.9 59.9M72.8 110.7L14 112.7M85.8 105.6L47.5 36.9M87.6 110.6L33.9 51M102.2 112.6L42.9 47.6M84.2 93.2L126.2 76.1M102.6 83L112.6 152.8M83 83.5L16.7 65M117.3 96.9L104 49.6M70.7 119.5L46.1 53.8M91 98L99.6 50.3M72.1 103L22.6 136.6M84.2 112.1L33.3 126.6M119.6 100L31.8 117.6M95.4 98.3L119.3 117M78.3 100.8L22.9 92M104.1 104L32.4 160.2M98.7 88.2L96 42.8M112.1 100.7L32.1 57.9M73.4 108.9L38.4 147.5M86.8 99.5L101.6 49.6M108.2 98.9L109.4 143.8M88.5 83.3L6.1 115.5M116.3 94.5L95.8 159M80.4 112L14.9 139.3M81.5 103.5L109.9 157M81.6 121.6L42.9 164.1M91.6 77L100.4 135.2M90.4 95.3L8.3 82.3M102.9 80.7L22.9 99.6M113.8 105.6L33.8 59.7M67 106.1L20.5 118.8M95 132.5L38.2 157.5M95.5 122.2L112.6 80.5M108.8 100.3L7.6 82.1M114.6 96.5L19 138.8M95.1 86.7L15.9 110.7M105.6 106.8L23.9 57.2M102.8 90.4L9.4 111.5M85.6 88.1L14.4 80.3M77 89.1L62.6 168.5M117.2 100L12.4 109.6M101.2 100.7L133.7 118.6M61.1 96.3L28.5 130.6M74.6 107L58.9 34.5M94.9 82.4L15.3 104.2M68.3 112.6L19.9 78M108.4 108.1L74.4 164.6M94.4 118.6L4.3 99.6M103.5 84.6L35.6 149.4M97.2 102.5L17.8 93M93.2 85.7L107.1 149.4M89.3 90.4L115.5 155.4M66.9 89.3L84.9 162.4M85.5 89.6L75.3 42M101.7 131.1L10.7 129.3M106.9 97.5L41.9 164.3M96.7 119L16.5 97M94.2 112.8L31.4 137.7M83.9 109.8L25.6 132M107 71.7L10.1 88.3M92.8 89.1L31.8 125.2M96.3 89.8L75.2 48.5M86.6 100.5L15.3 80.1M88.1 105.5L14.8 63.9M100.3 92.6L26.5 68.4M87.8 74.6L13.6 133.3M102.3 90.3L104.8 43.1M103.6 108.5L53.4 147.7M110.9 100.1L83 149.9M89.6 92.1L108.7 62.6M106.6 110.3L7.4 107.6M90.3 69.4L11.3 101.9M85.3 92.6L30.3 90.6M104.9 107.1L15.3 109.4M108.4 86.3L120.6 146.5M110.7 90.6L21 85.2M102.9 110.6L89.4 38.1M63.9 94.4L7.5 111.6M115.6 101.3L27.6 48.3M72.8 95.1L47.9 37M78.8 87.1L113.4 79.6M110.5 102.6L27.9 133.8M90.6 117.5L57.6 167.2M94.6 109L12.2 77.8M107.9 109.8L4.3 109.8M118.1 104.8L112.5 127.6M73 109L50 42.1M111.5 104.2L60 36.4M75.7 124L62.1 164M102.8 93.5L25.9 69.5M82 103.8L21.3 57.5M101.5 98.1L136 84.5M89.2 128L29.4 139.2M90.4 88.4L54.9 168.2M84.8 93.1L31.7 44.1M111.4 99L11.7 107.6M83.1 87L19.1 109.4M99.6 106.1L6.5 83M94.4 99L34.3 48M74.9 83.4L22.8 98.4M84.2 93.3L64.2 42.2M89.2 86.6L42.6 141.7M108.4 107.7L36 157.7M64.5 115.7L21.8 85.8M72.2 91L21.3 98M98.6 106.3L36 156.9M89.2 95.2L16.1 119.7M74.1 107.8L112.8 142.1M93 119.5L50.3 155.4M102.2 104.7L121.3 118.8M77.1 106L120.5 93.9M102.8 102.6L42.7 151.9M103.3 104L26.5 73.9M99 99.9L12.1 95.8M95.4 97.2L23.8 132.8M89 85.5L21.6 95.1M78 94.9L17.8 108.1M85.9 82.9L52.9 154.6M118.6 94.2L56 146.7M83.2 104.9L42.1 158.1M110.3 109.4L87.8 148.4M109.3 101.5L22.4 133.1M91.9 95.6L18.1 116.3M85.5 101.4L10.4 89.3M104 103.3L78.3 49.6M104.8 89.6L11.3 76.3M83.2 107.1L40.8 157.3M113.9 89.5L113.6 58.2M105.5 101.9L30.2 126.6M118.7 108.7L55.2 154.6M100 92.8L78.4 167.8M104.8 68L10.6 118.2M127.9 88.1L117.8 71.3M79.9 74L38.5 153.2M100.1 106.6L17.8 117M80.3 103.7L43.4 162.3M89.8 89.9L54.4 160.2M98.2 89.2L35.6 79M95.9 119.4L17.9 120.9M83.2 95.9L16.2 70M98 73.8L95.5 37.8M125.1 105.7L82 41M109.1 108L14.5 71.6M91.6 121.4L53.2 161.6M104.2 119.5L77.2 43.8M115 96.2L23.3 70.5M92.5 108.8L99.4 39.3M89 83.8L23 81.4M94.8 85.2L11.9 136.6M67.2 98.8L19.8 71.8M86.9 92.4L13 66.9M82.9 96.8L35 64.9M90.6 92L37.4 49.9M98.2 112.3L22.1 58.4M88.3 103.9L8 78.6M84.2 107.4L31.6 137.8M115.5 94.4L32.8 131.5M103.4 110L114.8 136.7M103.2 113.6L11.2 85.3M91.1 101.5L5.8 93.9M123.5 93.7L9.3 111.7M81.1 113.5L19.2 124.4M105.9 107.8L14.5 78.4M88.4 86.1L80.8 143.5M76.8 89.6L17.2 140.8M101.7 73L5.5 106.6M93.3 82.1L127.4 65.7M94.5 104.2L118.6 141M104.2 116.1L24.4 113.2M97 88.9L30.4 138.8M91.4 106.6L41.9 151.8M82.9 109.5L51.4 59.6M123.8 89.2L40.8 159.5M92.9 95.5L22.8 82.7M101.2 74.1L34.9 158.6M118.3 98.4L6.6 121.1M80 80.7L9.1 114M104.8 94.4L22.8 125.4M80.6 110.7L4.9 91M100 91.4L76 169.7M78.3 89L15 115.5M109.1 109.5L42.5 42.7M100.3 111.1L19.6 92.2M109.1 95.7L41.8 143M60.1 96.2L19.1 70.4M93 118.6L51.7 152.9M100.9 98.2L117.2 128.6M93.3 94.9L89.5 167.8M79.2 105L118.6 132.1M94.9 75L52.3 60.1M81.9 106.4L20.2 66.7M94.2 105.7L26.4 58.6M81.9 87.6L119.3 122.5M98.4 115.2L41.1 40.7M113 87.7L19.4 146.4M93.4 88.8L130.7 132.3M96.9 95.8L36.2 153.8M95.4 117.8L14.2 74.8M89.9 86.6L5.8 115.1M94.8 112.9L112.8 100M90.5 92.5L27.4 141.2M120 110.6L54 39.9M79.4 96.7L15.5 120.8M111 96L112.9 149.2M73.2 82.2L11.4 128M77.6 116.2L30 104.8M96.2 84.6L28 136M104.9 65.7L99.8 148.3M95.6 98L62.3 168.8M91.4 94.7L29.4 122.2M107.8 107.4L11 119.5M89.5 97.8L102.7 52.2M107.6 111.3L64 166.9M99.6 107.4L38.3 47.1M99.9 84.7L39.6 158.5M92.9 93.2L106.4 145.6M101.1 111.7L66.3 51.5M108.4 102.8L16.6 83M96.8 79.6L130 84.5M97.5 91.3L21.6 79.6M96.8 86.5L12.6 87.4M92.9 111L32.2 57.3M120.6 108.2L120.3 69M78.5 76.3L42.8 68.8M115.4 101.1L35.3 134M71.7 107L104 137.6M100.6 118.8L34.6 43.7M88.8 101.6L123.1 109.7M92.4 100.5L26.7 129.4M108.1 81.7L11.8 97.6M66.9 77.2L13.5 132M81.8 108.8L74.5 166.5M78.9 73.6L20.8 88.3M87.1 74.4L27.3 86.5M59.5 93.9L119.3 115.2M96.7 122.9L17.2 64.7M101.6 96.8L62 163.6M112.8 106L22.1 87.7M75.8 76.6L128.6 125.2M88.6 103.9L45 57M111.9 106.2L43 164.5M94.8 87.7L60.1 164.5M93.4 79.4L112.6 152.7M109.1 90.5L34.2 161.3M100.6 76.1L22.8 92.8M92.4 90.1L23 67.3M103.9 99.6L117.5 106.1M110.6 105.3L25 65.6M124.7 80L22.7 146.1M105.9 93.5L69.2 163.2M92.2 111.3L93.1 60.8M99.2 105.9L43.4 46.6M98.4 89.1L121.8 103.6M86.9 92L83.9 154.7M91.3 89.6L36.3 128.1M109.9 109.6L43.8 42.1M83.6 78.5L25 69.5M100 106.1L38.7 150M91.7 125.4L91.9 156.7M96.5 102.5L50 168.2M104.2 73.6L109.6 121.4M102.9 88.2L11.6 77.6M98.8 103.2L107.3 77.3M97.6 113.6L9.9 122.5M105 107.1L108.1 146.2M101.3 82.3L22 119.5M83 86.8L111.5 68.5M100.5 103.9L11.4 108M85.8 96.8L25.2 127.9M93.7 71.8L19.6 108.3M101.3 85.9L10.5 124.9M96.7 86.1L56.9 145.1M99.4 76L35.3 71.5M70.4 97.8L21.9 69.4M97.1 101.8L119 107.6M78.7 109.9L116.5 51M93.7 107.7L35.6 142.7M81.5 91.1L41.7 45.9M97.9 107.9L14.3 111.7M93 88.9L12.2 116.1M89.7 103.7L19.2 75.1M85 86.1L13.8 128.1M108.2 96.4L112.9 144M93.7 107.4L19.8 139.7M99.9 92.2L13.6 126.9M87.1 104.2L31.2 54.4M74.7 95.1L67.6 34.3M88.6 106.9L104.6 44M82.7 103.3L85 146.9M100.2 107.7L17 145.5M86.5 111L17.9 121.4M119.3 89.4L113.9 107.8M72.8 86.5L5.9 112.2M79 92.4L107.6 75.9M100.6 88L26.8 148.2M108.3 104.4L17.2 146.1M113.3 119.2L126.4 94.9M114.1 92.3L19.9 59.4M104.6 113.9L72.2 170.5M86.3 96.1L50.4 167.4M97.4 107L43.6 163.9M93.6 111.5L32.4 153.9M93.1 101.9L63.6 168.6M109.4 108.8L13.4 116.8M93.7 75.4L50.7 160.7M87.7 106L22.6 121.4M95.1 107.3L76.2 159.8M108.4 92.3L45.7 166.8M109.4 90.4L117.6 89.2M105.2 96.1L45.5 40.4M105.5 77L40.1 139.7M64.8 95.6L104.5 67M66 96.7L88.5 40.3M76.4 105L19.9 123M104.9 73L30.9 147.7M70.9 90L21.9 122.7M94.6 96.6L15.7 61M79.6 88.8L37.1 160.7M99.9 86.2L26.1 87.2M91.4 117L111.6 78.6M94.7 103.9L29.4 134.8M88.9 94.1L63.8 166.4M87 97.9L8.1 98.5M95.2 95.7L127.5 85.8M98.3 99L92.5 151.7M83.7 82.1L13 82.3M79.3 110L45.9 39.5M101.4 66.1L7.2 82.5M77.9 124.3L21.7 150.7M99.7 98.3L16.6 129.4M86.8 106.5L26.3 123.1M100.4 95.5L24.2 50.6M96.5 103.2L55.8 35.1M114.2 104.3L90.6 142.5M117.8 95.1L57.4 169M107.6 106.1L95.7 66.6M91.9 102L97.3 146.8M113.5 94.4L34 72M81.3 66.4L25.9 50.7M80.8 77L51.9 167.3M55.6 96.3L13.1 135.9M68.2 81.3L15.3 79.9M116.5 71.7L5.7 97.6M96.6 91.7L27.7 129.9M79.6 105.3L16.9 145.6M94.2 118.8L50.6 51.7M87.9 102.5L20.3 137.3M91.3 111L33.8 158.7M101.7 95.9L124.5 106.1M92.9 98.5L10.1 120M105.8 101.8L49.4 159.8M110.2 99.4L119.3 63.7M105 81.7L7.1 124M105.2 91.3L84.9 57.1M92.7 98.1L48.6 38.6M116.9 118.7L101.9 62.1M85.5 100.2L56.5 46.3M85.3 92.3L116.7 107.7M77.7 67.7L73 169.1M78.7 102.5L22.8 56.7M104.1 91.3L47.4 158.1M105.1 113.5L11.7 89.1M110 108.8L119 150.7M78.9 89.9L61 170.3M99.6 112.5L15.1 64.7M75.4 95.1L50.4 165.1M78.2 114L24.8 151.4M128.8 106.4L51.6 148.1M86.3 100.2L117.6 60.6M74.9 112.7L95.6 157.7M112.8 131.6L19.3 136M93.7 102.5L119.7 127.2M105.3 84.4L49.9 163M101.6 93.5L22.7 119M100 109.8L88.8 150.1M64.6 92.8L47 138.2M83.1 96.7L12.3 125.1M93.3 79.7L7 97.6M83.4 115.1L15.8 112.6M94 98.1L93.7 36.6M113.9 90.8L65.6 162.5M85 103.6L17.9 98.3M100.1 105.2L116.8 151.1M111.5 89.9L9.2 106.8M84.6 83.8L81.1 42.7M68.8 90.4L52.8 54.6M108 108.4L52.3 40.7M90.8 105.3L41.5 164.7M90.6 94L16.8 112.6M72.4 106.2L68.1 166M104.4 99.8L27.3 65.3M96.6 82.8L60.5 166M86.7 96.7L115.4 126.5M91.4 91.5L115.5 152.2M102.2 127.2L119.1 91M92.9 93.5L56.3 61.2M99 102.7L25.7 155.2M82.6 94.4L11.6 94.8M108.3 88L22.2 115M104.1 98.7L74.6 166.7M115.1 97.4L87.5 165.1M76.3 115.4L31.9 157.3M93.9 118.9L129.4 95.7M86.4 109.8L15.8 64.6M64.7 84.4L31.5 116.4M88.3 111.3L13.4 132.7M116.6 78.8L4.5 101.4M90.3 113.4L14.6 104.9M88.6 92.6L131.4 75.1M83.3 87.4L13.9 119.6M83.5 109.9L21.5 71.7M86 106L21.2 120.1M87.2 105.4L105.7 68.3M85.6 85.1L44.2 55.9M107.3 98.8L25.4 52.1M84.6 82.2L27.3 65M80.7 98.9L6.3 83.6M98.4 101.2L78.5 149.7M111 97.8L21.7 146.9M118.6 124.7L42.8 137.6M122 93.8L36.7 54.2M82.1 103.1L20.9 103.5M99.4 124.6L29.1 63.5M84.1 92.4L44.5 163.6M85.1 120.1L7.6 120.2M91.9 89.7L103.2 160.5M92.8 103.4L50.7 165.8M107.4 95.7L13.2 65.4M102.9 89.6L10.6 74.6M90.3 108.9L21 59.9M94.7 94.6L26.7 61.6M98.1 106.2L112.7 95.4M98.6 90.1L19.7 100M101 89.1L5.7 118.2M93.1 91.6L59.3 165.8M86.3 125.2L63.4 46.8M87.9 88.7L21.2 86.1M71.1 106.7L65.9 37.3M93.3 102.8L19 117.4M114.4 86.5L20.4 64.7M64.9 109.5L10.1 71.9M108.2 115.9L51.8 143.7M72.1 85.2L53.4 164.6M91.6 103.6L12.4 119.5M59.1 77.8L22.7 90.1M100.9 117.1L86.2 154.7M87.8 101.8L15.9 141.6M93.6 78.1L26.4 139.3M121.2 100.5L28 54.2M87.6 68.2L106.8 153.2M87.9 101.3L110.6 85.5M89.9 82.6L24.3 109.6M98.7 93L59.9 144.2M107.5 120L43.5 46.7M113 104.2L16.6 63M101 138.7L89 55.9M115.8 97.6L84.6 166.4M58.6 83.5L71 40.8M107.1 119.3L107.5 127.9M102.3 103.4L78 41.7M74.2 120.5L45.8 164.6M92.8 73.4L46 154.5M88.5 113.1L108.7 156.2M103.6 77.2L29.2 63.3M86.7 102.2L55.1 152.1M97.3 86.7L35.9 77.9M68.9 96.3L106.7 53.3M98.7 97.9L36.6 152.4M112.8 99.9L43.1 157.6M99.6 118L12.9 105.2M126.8 86.2L51.6 164.8M105.7 70.6L120.5 130.3M106.1 109.7L46.2 52.8M111.4 123.2L29.1 105.2M89.1 86.2L18.6 145.6M85.8 85.3L13.6 66.3M93.1 114.5L29.9 54.7M81.1 115.3L70.3 147.3M77.3 80.1L97.4 42.6M86.8 92.8L31.6 49.8M92.7 97.3L17.7 59.6M102.8 97.3L15.6 67.5M94.5 92.1L62.3 59.6M105.1 94.2L16.4 93.2M90.7 96L28.1 95.5M86.6 97.9L10.7 72.8M87 131.2L94.3 156.4M95.1 103.1L106.6 132.4M80.2 67.5L12.5 66M97.6 98.3L107 78.1M97.4 101.3L34.5 146.2M109.6 109.2L7.4 87M105.2 97.3L34.9 42.5M88.8 96L48.3 48.5M76.9 113.9L22.3 108.4M96.8 88.5L4.6 99.6M109.3 97.3L62.5 162.4M105.7 110.9L77.9 44.5M90.8 117L84.2 148.8M80.1 107.3L30.1 74.7M93.9 90.7L13.2 103.3M98.4 106.3L25.9 134.3M107.5 90.5L122.3 122.8M103.2 100.9L29.9 135M91.5 108.5L25 142.8M109.1 86.8L14 131M88.2 100.2L19.4 57.5M81.3 83.9L40.8 57.4M91.9 96L34.6 140.9M81.8 100.9L100 62.2M89.6 88.5L28.5 63.9M69 100.3L26.8 132.7M106.5 88.4L122.1 92.3M92.6 104.6L89.4 48.3M91.8 73.5L117.8 140.3M105.2 87.3L7.6 89.1M77.5 60.7L6 84.1M100.9 107.4L106.6 141.6M79.2 83L96.3 60.9M78.5 91.5L28.6 71.3M96.4 117.2L47 46.8M104.6 95.4L99.1 48.4M110.5 98.1L86.8 152.7M109.2 96.4L18.4 63.9M68.3 105.6L23.8 136.8M93.7 102L118.9 116.3M114.1 69.2L59 166.6M109.8 116.3L15.9 110.6M106.3 108.1L117.5 107M117.2 108.8L74.7 167.9M102 111.3L36.1 75.4M102.9 100.4L111.9 71.5M112.6 103.5L24.7 66M101.3 86.9L130.6 106.8M59.8 110.7L13.9 120M79.5 88.8L48.5 159.4M110.8 88.8L41.2 66.4M94.4 115.2L18.6 132M89.3 107.8L13.9 139.1M96.5 97.3L33.1 158.4M94.3 100.9L25.2 147.4M88 85.9L50.3 55.1M101.4 115.8L115.3 115.8M89.9 100.4L31.8 133.3M95.1 76.7L45.1 163.5M95.7 105.6L19.8 116.9M116.5 103.5L67.3 144.1M99.4 92.6L38.4 146.6M116.8 85.2L29.4 109.6M95.7 105.1L65.3 170.6M87.8 122.5L5.6 119.2M92.7 81.9L6.7 103.7M114.9 101.9L89.4 141.7M85 93L30.4 45.9M88.5 78.3L123.3 86.1M92.4 94.4L34.2 153.7M110 111.1L39.8 164.4M83.8 118.8L38.3 135.7M95 71.8L22.6 132.4M102.1 121.1L91.6 37.1M87.1 80.3L41.3 152.7M86.3 92L5.1 94.8M82.9 80.6L13.6 84.3M100.5 109.2L13.2 68.1M85.9 86.4L123.9 108.6M105.7 79L5.3 117.6M103.2 102.6L89.1 149M76.2 90.9L53.1 150.3M118 99.9L35.4 155M101.8 107.3L53.6 166.5M115.6 114.4L13.5 139.6M91 111.4L68.6 154M110 87.2L45.2 44.5M84.6 108.6L42.5 163.9M109.7 69.6L24.2 60.3M104.7 124.8L18.1 67.2M80.1 95.8L15.9 111.3M92.7 105.1L23.5 102.3M99.1 95.1L131.8 95.4M107.2 94.3L46.5 43M90 74.4L28.5 65.8M86.9 114.2L75.2 41.5M99.6 104L15.7 89.3M101.2 103.8L23 108M95.7 103.4L15.2 65.6M93.5 91.3L47.6 165M112.8 76.9L30 134.6M93.8 85.7L76.8 51.1M89.5 98.9L25 62.7M76.5 106.8L41.2 159.5M67.7 98.7L22.3 123.5M89.5 94L14.1 98.4M103.5 130.9L80.2 153.3M116.5 102.6L17.3 61.9M112 101.9L6.7 116.6M80 104.3L57 168.4M120.6 87.3L4.3 104.7M94.8 116.8L48.9 37.9M101.8 95.8L11.8 125.6M67.4 82.2L27.4 47.7M95 107.3L33.8 148.2M102 100L116.5 56.3M103.8 115.9L20 86M103.1 85.8L132.9 79.3M84.2 83.6L12.8 82M99.9 100.9L29.1 123.7M105.2 94.6L25.6 104.9M116.9 97.1L51.4 165.8M121.2 81.4L60.6 169.9M93.7 94L33.7 151.8M114.9 104L56.4 153M94.4 86.9L118.4 100.9M87.8 99.4L18 145.3M89.2 57.9L95.1 54.5M91.8 92.5L57.4 166.7M82.3 86.1L36.6 50.2M88.6 62.1L18.3 68M95.5 101.9L50.4 43M97.7 89.7L28.5 48.8M70.6 89L6.4 83.5M98.8 94.7L77.9 162.6M87 92.7L43.1 163.2M84.8 95.1L22.8 82.9M86.6 103.7L113.9 71.1M93.8 86.4L58.3 143.4M111.3 98.4L59.7 154M84.6 104.7L4.6 111.2M102.4 91.2L83.4 161.1M80.8 107.5L24.8 114.3M84.6 103.2L54.3 163.2M89.2 101L62.7 148.8M125.5 96L92.5 45.2M92.8 104.5L93.9 160.7M87.4 92.9L124.3 90.9M109 95.3L24.7 122.4M62.2 93.3L17.1 145.3M94.2 94.7L13.4 134M115.2 98.6L114.7 154.5M115.2 75.2L14 84.3M108.3 111.1L24.5 153.3M103.2 77.5L14.4 116.1M111.5 126.7L22.5 112.3M106 98.6L23.3 73.2M91.8 104L111 126.3M78.2 95.6L56.1 165.9M75.7 100.2L18.9 57.8M89.6 107.8L19.4 134.7M98.2 99.9L20.3 92.2M103.4 80.7L134.1 85.6M106.1 105L5.1 96M107.8 105L26 133.1M81.6 83L31.3 126.2M97.6 95.3L12.4 94.7M77.3 89L14.3 72.6M112.7 115.6L92.7 49.7M105.1 106.4L55.7 35.8M104.8 96.5L27.2 136.6M94.5 98.7L15.1 131.3M92.8 96.3L112.1 89.7M106.3 98.4L7.3 110.5M99.3 110.1L92.6 165.8M95.1 87.3L38.2 153.8" stroke="#9c9ea1" stroke-width="0.33" stroke-opacity="0.55" fill="none"/>
<path d="M129 82.9h0M125.7 99.5h0M101.8 70.1h0M72.5 131.4h0M47.5 43.5h0M102 90.5h0M131 108.3h0M131.9 102.2h0M112.2 57.4h0M127.3 137h0M88.3 41h0M36.8 101.8h0M36.1 122.4h0M96.6 131h0M52.9 109.8h0M42.8 164h0M78 118.2h0M110.7 75.4h0M71.2 33.4h0M92.4 133.2h0M55.2 61.9h0M94.3 102.4h0M113.2 81.6h0M60.1 33.7h0M55.1 76.1h0M99 141.3h0M118.1 52.4h0M39.3 81.9h0M123.4 89.7h0M90.8 143.4h0M76 44.8h0M108.1 81.1h0M103.8 89.6h0M130.9 121.9h0M107.5 108.7h0M34.5 102.6h0M113.6 139.7h0M55.9 97.9h0M132.8 109.2h0M107.4 91.2h0M58.7 78.4h0M80.3 154.8h0M73 121.8h0M67.5 127.9h0M120 55.4h0M114 89.7h0M112 108.2h0M131.8 76.4h0M68.9 39.9h0M51.1 49.3h0M84.7 121h0M73.6 94.2h0M71.2 138.6h0M77 43h0M96.4 88.8h0M62.8 76.1h0M115.6 63.2h0M115.2 62.7h0M60.2 164.1h0M68.9 155.6h0M70.4 167.7h0M106.4 83.1h0M122.7 135.7h0M127.4 112h0M72.2 116.1h0M112 130.5h0M79.1 79.6h0M95.9 82.1h0M44.9 106.3h0M85.6 38.7h0M66.2 139.1h0M93 48.1h0M85.8 165.1h0M128.4 107.8h0M119.6 144.8h0M103.4 120.9h0M47.7 108.4h0M108.2 123.5h0M129.1 126.3h0M33.8 136.9h0M110.7 139.2h0M115.3 101.1h0M73.6 101.1h0M121.2 127h0M99.6 81.4h0M102.6 128.5h0M58 67.5h0M123.4 89.1h0M96.8 103.9h0M88.1 110.1h0M59.3 94h0M57.2 132.2h0M77.5 139.4h0M107 108.3h0M81 139.9h0M75.7 37.6h0M138.7 109.1h0M123.5 132.5h0M50.3 113.1h0M107.2 114.5h0M86 84.4h0M114.2 146.9h0M98.7 46.8h0M61.9 92.6h0M130.9 109.6h0M103.5 101.8h0M100.7 60.5h0M52.7 168.3h0M130 97.6h0M107.2 55.6h0M94.5 59.4h0M70.2 48.3h0M102.4 120.6h0M85.1 144.7h0M99.4 130.5h0M77.2 128.8h0M54.3 34.7h0M130.2 77.7h0M7.7 120.6h0M134.3 90.7h0M43.8 87.9h0M91.1 112.1h0M101.4 48.4h0M49.7 129.5h0M112.2 138.4h0M94.3 161h0M85.3 135.8h0M127.5 76.5h0M84.3 128.5h0M103.2 73h0M37.2 66.4h0M32.5 117.7h0M103.5 118h0M125.9 78.7h0M108 51.9h0M69.6 114.6h0M30.4 81.4h0M103.2 106.5h0M73.9 125.7h0M121.8 115.6h0M99.4 139.3h0M36.8 87.4h0M94.8 133.7h0M85.2 73.6h0M46.4 148.5h0M124.7 123.5h0M111.8 117.3h0M124.8 103h0M73.5 155.7h0M116.5 98.7h0M120.5 143.7h0M63.1 149.2h0M96.3 109.1h0M96.1 106.6h0M130.6 119.4h0M134.2 124.2h0M43 141.7h0M52.8 53.7h0M74.5 52.1h0M42.5 104.2h0M103.4 135.9h0M104.9 75.8h0M131.4 88.6h0M112.8 56.5h0M112.2 132.7h0M92.6 94.4h0M102.3 97h0M28.1 136.5h0M60.5 63.8h0M77.5 54.2h0M116.8 71.5h0M73.7 141.8h0M68.8 39.1h0M132.7 97h0M120.1 87.2h0M83.6 96.8h0M62.2 54.2h0M100.6 60h0M123 74h0M71.7 149.1h0M132.6 133.8h0M111.5 134h0M126.2 102.7h0M69.6 65.4h0M79.8 115.2h0M8.5 78h0M48.2 119.9h0M125 83.2h0M121.6 93.3h0M130.8 126h0M103.6 87h0M39.4 82h0M127.5 85.6h0M86.3 167.6h0M70.2 44.4h0M62.6 79.2h0M132.8 109.6h0M87.1 116.3h0M131.5 94.1h0M51.8 45.9h0M133.4 124.7h0M75.3 40.5h0M47.9 126.5h0M79.6 112.3h0M22.9 107.5h0M98.1 66.2h0M114.1 143.4h0M11.1 102.4h0M111.9 71.5h0M123.2 109.4h0M125.1 103.4h0M43.9 157.1h0M102.5 82.6h0M56.3 115.4h0M22.1 131h0M111.1 134.8h0M98.2 107.5h0M122.2 62.4h0M126.2 103.4h0M91.3 168.2h0M80.4 47.6h0M50.7 98.5h0M85.8 48.4h0M109.2 43.2h0M109.7 116.1h0M131 125.9h0M49.4 136.7h0M58.6 123.2h0M110 82.2h0M120.2 65.6h0M60 160.8h0M112.9 117.4h0M59.6 81.2h0M79.3 141h0M96.7 79.6h0M96.5 111.5h0M105 70.1h0M89.6 142h0M71 88.7h0M35.5 99.7h0M121.8 114h0M114.6 115h0M120 143.6h0M125.4 72.9h0M114.2 67.8h0M79.4 148.7h0M94.1 161h0M118.7 119.2h0M91.4 77.1h0M24.5 111.7h0M130.9 80h0M111.8 62.3h0M107 131.6h0M80.6 140.1h0M91.4 135.3h0M82.2 156.8h0M107.8 160.2h0M38.4 62.2h0M95.9 164h0M60.9 80h0M107.8 114.6h0M92.3 114h0M99.2 60.3h0M56.9 120h0M76.8 148.6h0M98.4 70.8h0M85.6 117.7h0M112.8 82.4h0M96 129.2h0M72.1 91.1h0M135.8 105h0M51.5 148.8h0M59.7 121.5h0M109.2 116.5h0M136 93.5h0M80.2 126.1h0M64.5 113h0M92.3 67.5h0M47.4 167.8h0M88.1 62.5h0M63.5 74.2h0M132.8 122.1h0M115.3 81.3h0M110.6 88.6h0M131.2 80.2h0M63.6 67h0M117.3 105.5h0M73.9 65.5h0M114.1 157.9h0M122.9 69.3h0M105.3 45.6h0M135.9 85.7h0M118.3 138h0M78.2 54.2h0M79.1 161.2h0M121.4 110.3h0M107.8 139.1h0M106 75.2h0M105.2 152.8h0M99.4 47.9h0M94.8 70.8h0M54.9 106.1h0M70.2 105.5h0M61.8 146.2h0M121.1 57.4h0M92.2 138.9h0M109 144.6h0M96.8 42.5h0M101.8 102.6h0M111.3 159.7h0M119.5 141.8h0M81.5 40.1h0M106.2 126.7h0M134.8 95.5h0M60.3 125.7h0M45.1 106.7h0M136.8 105.4h0M55.3 35.4h0M13.4 101.4h0M92.8 108.2h0M76 134.1h0M85.7 41.4h0M86.3 46.9h0M92.6 126.1h0M115 88.9h0M64.2 75.8h0M104.1 121h0M110.7 43.6h0M109.7 89.2h0M57.9 82.5h0M134.6 93.2h0M37.5 95.6h0M92 59.7h0M53.6 138.5h0M55.3 102.4h0M88.2 37.2h0M113.2 116.2h0M104.1 107.6h0M67.2 106.9h0M97.9 96.8h0M78.5 99.6h0M134.5 96.7h0M130.9 104.1h0M50.7 43.2h0M79.6 45.1h0M74.6 85h0M31 103.8h0M106.9 92.2h0M52.6 161.1h0M75.6 51.1h0M67.8 112.8h0M41.8 155.3h0M42.1 148.7h0M99.6 42.5h0M122.8 104.9h0M45.7 46.8h0M25.6 107.7h0M61.9 104h0M110.2 57.1h0M35.6 46.5h0M86.6 167.4h0M123.7 58.3h0M101.1 64.5h0M120.5 101.1h0M99.3 75.5h0M33.3 101.3h0M48.5 74.3h0M127.4 89.5h0M108 64.1h0M41.7 103h0M113.2 50.9h0M63.7 40h0M60.2 154h0M42.6 135.1h0M124.5 81.7h0M115.1 138h0M102.9 50.1h0M112.2 132.6h0M96.4 54.6h0M54.1 100.1h0M44.9 46.1h0M126.6 59.1h0M76.2 70h0M122 122.1h0M117.5 87.4h0M11.7 67.4h0M85.9 150.2h0M81.2 155.1h0M111.7 132.8h0M121.6 76.4h0M88.3 134.1h0M68.3 118.4h0M107.6 48.4h0M103.7 110.2h0M54.6 106.5h0M39.5 97.9h0M105.9 119.6h0M111.9 95.4h0M103 132.6h0M72.7 151h0M102.9 69.5h0M21.6 97.5h0M121.9 120.4h0M116.5 148.9h0M103.8 163.9h0M101.4 81.9h0M80.4 170.1h0M75.6 95.6h0M113.3 94.8h0M76.5 137h0M113.6 82h0M47.6 161h0M85 68.6h0M121 110h0M126 70.3h0M70.5 67.1h0M80.2 121.6h0M123.1 143.4h0M90.6 145.5h0M95.6 81.8h0M91.8 110.2h0M81.1 129.3h0M68.7 122.6h0M61.4 60.9h0M79.2 168h0M99.5 88.3h0M98.5 162.8h0M67.1 108h0M99.3 129h0M31.8 92.6h0M78.7 86.1h0M74.9 144h0M51.5 73.7h0M124.4 59.6h0M115.6 126.4h0M132.3 86.3h0M126 64.8h0M102.8 112.9h0M54.4 143h0M53.1 69.6h0M117.1 53.3h0M86.4 163.3h0M85.7 96.5h0M75.9 58.7h0M128.9 108.2h0M76.4 91.5h0M73.7 39.5h0M102 136.2h0M33 68.3h0M78.5 166.2h0M78.6 42.7h0M97.7 150.3h0M102.7 72.7h0M128.6 113.3h0M62.3 41h0M138.8 109h0M36.6 119.1h0M100.2 154.2h0M81.6 73.5h0M87.1 169.4h0M65.6 65.2h0M51.2 165.5h0M88.4 39h0M23.3 119.1h0M120.3 128.2h0M118.4 112.7h0M130.2 89.3h0M116.2 88.9h0M80.1 119.8h0M73.6 155.8h0M42.9 48.6h0M25.6 88.8h0M70.9 141.2h0M64.9 143h0M52.5 155.4h0M110 157.2h0M111.1 62.1h0M70.5 152.2h0M112.9 138.1h0M63.8 82.4h0M94.2 72.8h0M32.2 150.3h0M78.4 140.8h0M42.8 136.2h0M82.2 126.8h0M76.9 118h0M70.2 37.3h0M83.6 59.1h0M109 104.5h0M42.9 54.6h0M54.7 62.3h0M67.7 50.4h0M111.3 74.1h0M67.7 120.9h0M134.3 91.9h0M116.6 111.8h0M46.4 166.8h0M98.2 129.8h0M83.7 130.4h0M65.8 39.1h0M80.4 78.4h0M108.7 83.1h0M107.4 132.9h0M61.7 90.7h0M75.4 45.8h0M106.7 80.5h0M81.5 123.1h0M99.6 142.8h0M101.1 51.9h0M102.1 109.6h0M120.7 100.3h0M66.2 135.3h0M70.2 143.5h0M78.6 39.1h0M108.2 84.5h0M121.8 72.1h0M39.8 112.1h0M40.2 55.2h0M128 78h0M106.4 122.3h0M90.1 99h0M85.9 104.1h0M64.1 70.7h0M84.1 98.8h0M95.7 43.8h0M124.1 91.7h0M124.3 71.7h0M90.8 140.1h0M90.1 89.1h0M124.8 146.6h0M121.3 78.9h0M42.8 94.8h0M118.4 77.1h0M29.8 88.3h0M74.2 37.5h0M103.5 147.2h0M49.4 56h0M77.3 170.9h0M51.2 39h0M136.4 87.4h0M40.5 95h0M101.6 165.4h0M127.3 62.3h0M59.9 151.8h0M95.5 107.2h0M136.3 108h0M104 143.3h0M45 63.4h0M23.2 101.9h0M101.3 55.6h0M86.1 89.7h0M42.2 71.9h0M108.4 115.9h0M106.8 119.2h0M112.7 136.3h0M125.1 102.7h0M100.5 68.8h0M133.5 92.4h0M127 97.6h0M109.3 95.3h0M66.3 59.1h0M91.9 147.3h0M124 70.9h0M98.3 58h0M33 122h0M89.2 51.3h0M134.8 110.6h0M79.4 72.4h0M114.5 51h0M123.5 74.3h0M78.2 47.8h0M91.4 50.3h0M111.2 136.8h0M124.6 80.7h0M26.6 114.6h0M131.3 93.5h0M111.9 149.7h0M117.7 108.8h0M116 100.9h0M42.8 149.2h0M59.4 158.1h0M79.9 99.9h0M133.1 103.8h0M95.2 58.8h0M89.1 138.5h0M77.5 109.9h0M124.3 61.7h0M28.2 75h0M111.7 140.9h0M80 85.7h0M78.5 80h0M128.2 80h0M115.1 135.4h0M103.9 80.7h0M62 157.9h0M97.4 66h0M62.7 151.9h0M48.3 51.8h0M134.3 75.5h0M79.3 74.3h0M46.7 103.4h0M98.2 100.8h0M71.8 139.7h0M123.8 106h0M131 84.8h0M65.5 126.7h0M53.6 66.7h0M125.3 135.7h0M97.1 162.5h0M68 72.9h0M103.9 100.6h0M122.2 118.3h0M115.9 96.2h0M123.9 80.8h0M118.4 154.6h0M66.5 85.2h0M77.9 124.3h0M128.3 70.3h0M98 117.3h0M37 89.8h0M56.9 43.8h0M75.1 73.5h0M41.4 139.4h0M81.7 169.5h0M97.1 135.2h0M34.6 70.7h0M93.5 109.8h0M133.5 104.3h0M97.9 133.2h0M26.2 132h0M107.2 132.8h0M109 138.5h0M127.3 127.1h0M111.9 101.4h0M37.6 120.2h0M128.8 121.3h0M35.1 68h0M38.3 122.4h0M59.5 50.2h0M100.5 87.6h0M111.9 49.8h0M69.9 35.2h0M112.3 155h0M117 123.9h0M75.2 46.4h0M18.9 84.7h0M54 102.3h0M83.4 158.3h0M116.3 65.6h0M94.9 51.8h0M106.9 54h0M92.3 114.3h0M118.9 151.4h0M93.1 111.7h0M34.1 63.6h0M111.8 75.3h0M123.8 128.3h0M97.5 115.5h0M115.4 94.2h0M136.2 124.7h0M80.1 167.9h0M138.5 91.9h0M107.9 125.1h0M32.1 120.2h0M70.1 104.9h0M118.5 68.7h0M113.3 122.4h0M129.4 113.9h0M22.1 145.6h0M94.4 68.5h0M130.4 73h0M68.1 76.8h0M62.2 140.3h0M125.7 97.2h0M65.2 169.1h0M86.8 67.9h0M99.8 71.5h0M101.8 69.5h0M66.7 73.3h0M108.2 136h0M113.3 99.2h0M131.3 68.7h0M58.7 132h0M100.3 122.7h0M75.7 101.6h0M83.9 53.3h0M49.8 146.4h0M55.7 80h0M117.5 87.7h0M118.8 92h0M126.8 94.4h0M86.8 47h0M83.3 102.8h0M132.1 94.6h0M103.5 128.7h0M80.2 44.5h0M72.2 164.2h0M59.9 139.3h0M126.4 125.3h0M116.4 99.8h0M135.6 125.3h0M57.5 59.6h0M126.3 115.7h0M75.9 56.1h0M125.9 110.4h0M96.4 54.7h0M124.2 67.9h0M123.2 140h0M67.8 89h0M32.6 112.4h0M67.3 55.3h0M107.3 134.5h0M31.9 46.1h0M92 163h0M36.3 94.5h0M13.8 141h0M127.2 94h0M92.2 121h0M86.4 55.9h0M41 58.5h0M71.8 83.7h0M89.7 98.2h0M68.6 58.5h0M46.5 141.8h0M99.3 108.7h0M55.9 165.1h0M81.7 98.3h0M104.3 49.3h0M132.6 96.2h0M27.8 70.4h0M56.7 152.2h0M68.1 168.8h0M95.2 84.9h0M103.5 129.2h0M87 91.2h0M130.3 134h0M84.7 81.8h0M82.4 58.4h0M121.8 98.2h0M133.1 95.7h0M113.6 135.7h0M88 116h0M63.3 77.5h0M121 131.3h0M91.8 133h0M114.4 153.6h0M102.1 124.6h0M112.1 50.6h0M18.5 144.8h0M98.2 164.1h0M123.9 147.5h0M45.7 155.9h0M72.5 43.3h0M40.8 93.2h0M128.1 93h0M45.9 87.8h0M48.8 101.5h0M69.1 163.4h0M69.6 126.2h0M127.4 75h0M113 102.2h0M103.2 99.4h0M137.4 89h0M138.7 91.9h0M80.7 45.2h0M126.5 72.1h0M76.9 159.1h0M96.3 104.4h0M132.9 99h0M122.1 124.8h0M132.9 125.4h0M85.3 45h0M87.3 53.2h0M112.9 49.7h0M63.9 106.4h0M116.1 92h0M59.8 108.8h0M26.8 142.3h0M113.4 109.6h0M112.9 71.2h0M110.8 98.2h0M53.3 99.6h0M126.8 82.8h0M110.2 95.3h0M38.8 95.8h0M130 69.4h0M44.5 93.2h0M108.4 45h0M54.8 80.9h0M82.7 123.9h0M113.7 152.3h0M43.5 46.1h0M71.7 170.7h0M95.3 143.5h0M50.3 116.9h0M121.4 124.5h0M113 143h0M119.9 132.4h0M52.7 142.3h0M91.9 145.8h0M43.1 50.1h0M8.5 82h0M104.5 134.4h0M63.9 128.4h0M132.7 88.3h0M83.7 73.7h0M100 67h0M61.4 92.3h0M97 93.6h0M28.8 139.4h0M51.5 117.3h0M120.6 100h0M118.1 71.3h0M130.5 111.7h0M134.3 112.2h0M110.9 126h0M24 153.1h0M18 109.9h0M112.9 102h0M19.8 84.7h0M131.3 131h0M72.7 89.8h0M94.1 107.5h0M38.6 160.4h0M8.8 83.4h0M134.7 82.7h0M98.9 111.7h0M19.3 106.9h0M59.3 148.3h0M135.8 101.9h0M73.2 168.6h0M59.1 126h0M74.4 65.4h0M82.2 62.9h0M114.4 110.6h0M135.7 125.4h0M70.7 102.7h0M85.1 150.9h0M121 117.9h0M123.3 133.8h0M79.9 60.8h0M104.5 88.1h0M86.6 152.9h0M99.2 116.3h0M131.9 98.3h0M9.4 115.5h0M120.9 86.1h0M60.3 131.8h0M85.5 140.6h0M114.7 122.6h0M46.2 106h0M104.1 93h0M123.2 72.2h0M96.3 107.6h0M130.3 103h0M78.4 150.2h0M104.9 148.2h0M138.1 116.4h0M22.7 89h0M52.6 95.1h0M99.3 163.8h0M87.8 165.3h0M76 84.2h0M56.2 51.6h0M106 109.5h0M131 87.6h0M77.5 42.9h0M123.8 57h0M127 99.5h0M103.9 43.3h0M18.8 123.9h0M70.9 95h0M132.8 129.7h0M61.4 92.9h0M53.9 92h0M100.5 61.4h0M123 142.7h0M119.5 113.2h0M114.9 86.1h0M89.2 92.1h0M64.6 126.9h0M63.5 151.3h0M125.9 91.7h0M88 138.9h0M51.5 90.3h0M122.2 106.7h0M55.6 138.7h0M90.6 74h0M132.4 84.8h0M37.1 116.6h0M52 129.8h0M112.6 53.7h0M134.2 126.7h0M126.5 111.5h0M40.4 76.4h0M92.8 41.1h0M134.4 92.9h0M100.3 97.3h0M76.9 67.5h0M113.1 84.8h0M87.8 138.1h0M119.6 96.3h0M81.3 111.1h0M29.5 56.7h0M121.8 120.9h0M74.5 63h0M49.7 42.3h0M93.7 46h0M44.9 158.4h0M115.8 124h0M97.8 137.9h0M57.1 60.9h0M40.2 49.3h0M84.6 116.9h0M98.1 142.1h0M111.9 113.2h0M19.2 70.4h0M107.1 124.3h0M127.3 117h0M123 73.8h0M95.2 98.4h0M127.3 70.5h0M91.9 72.7h0M65 116h0M84.1 165.6h0M81.4 112.7h0M13.4 96.8h0M115 108.6h0M94.7 85.8h0M71.9 136.9h0M100.9 150.4h0M49.6 66.3h0M135.8 85h0M56.1 88.4h0M82.1 162.6h0M69.8 37.8h0M80.2 112.1h0M102.7 110.2h0M124.1 109.9h0M112.6 107.7h0M90.9 92.3h0M70.9 66.1h0M122.5 120.6h0M87 161.7h0M9.9 76.4h0M131.9 81.7h0M99.7 48.1h0M125.5 143.8h0M84.2 132.3h0M103.6 82.5h0M109.5 132.7h0M116.5 132h0M28.5 156.6h0M20.3 139.5h0M66.6 58h0M110.9 134.6h0M131.5 133.2h0M79.9 135.4h0M99.4 98.1h0M124.4 62.6h0M29.4 69h0M74.6 138.5h0M55.9 153.7h0M118.4 64.8h0M66 100.7h0M78.5 86.5h0M74.2 108.1h0M120.5 129.1h0M76.1 40h0M129 108.7h0M78.1 123.7h0M63.3 100.9h0M122.3 78.5h0M34.9 67.9h0M76.5 127.1h0M130.8 87.7h0M107 138.4h0M73 80.6h0M59.5 115.5h0M128.3 110.2h0M114.1 134.9h0M72.9 42.1h0M82.1 91.1h0M32.7 125.7h0M134.5 117.3h0M71 88.5h0M60.7 83.4h0M126.2 133.5h0M29.7 104h0M120.9 108.2h0M19.4 93.6h0M113.1 73.1h0M55.3 84.1h0M107.8 146.4h0M116 113.8h0M109.6 73.6h0M123.5 79.8h0M105 87.3h0M8.6 114.2h0M121.7 79.9h0M92.1 73.6h0M52.9 117h0M135 110.5h0M107.4 64.2h0M98 133.2h0M126.6 110h0M72.7 50.1h0M34.8 155.1h0M88.5 145.6h0M67.8 164h0M58.5 82.2h0M132.3 129h0M64.3 139.9h0M77.3 113h0M10.9 119.4h0M122.1 107.6h0M80.9 122.6h0M109.8 156h0M88.7 105.6h0M29.9 85.8h0M106.8 43h0M63.8 56h0M90.1 44.7h0M80.5 108.6h0M133.6 97.8h0M132.4 94.3h0M43.3 42.9h0M98.1 61.5h0M65.2 105.5h0M113.7 114.5h0M87.1 62h0M116.8 58.7h0M106.7 110.8h0M105.6 157.8h0M11.1 93.4h0M64.1 72.2h0M33.9 151.1h0M37.6 62.4h0M101.3 140.9h0M124.3 73.1h0M89.5 38.4h0M44.5 47.1h0M48.3 117.4h0M110.8 69.9h0M29.8 55h0M112.1 86h0M45.7 118.2h0M132.4 127.2h0M84.3 77.7h0M137 93.6h0M51.9 152.4h0M70.6 148.9h0M117.3 61.4h0M103.2 145.6h0M95.6 163.4h0M71.4 107.7h0M109.1 64.6h0M38.6 93.5h0M98.6 59.2h0M136.9 93.9h0M123 103.7h0M128.3 97.4h0M102.7 53.6h0M130.8 122.8h0M131.2 136.2h0M131.4 117.2h0M130.1 98.8h0M79 113.6h0M95 168h0M107.4 120.7h0M105.2 77.7h0M116.4 138.5h0M108.7 63.7h0M125.4 139.2h0M89.6 163.5h0M83.3 37.9h0M39.9 44.6h0M94.8 137.1h0M81.3 41.8h0M129.6 114.8h0M127 138.9h0M130.1 121.9h0M53.7 104.3h0M111 109.4h0M131.9 99.2h0M117.7 127.9h0M115.5 131h0M112.5 125.2h0M99 129.1h0M96.3 81.7h0M126.7 114.7h0M84.8 55.2h0M60.8 66.1h0M120.9 129.9h0M103.8 70.4h0M60.1 137.2h0M56.8 41.6h0M84.2 90h0M7.8 95.1h0M60 42h0M88.5 122.8h0M131.1 69h0M105.4 129.3h0M24.8 102.8h0M11 134.1h0M101 115.7h0M137.5 117.6h0M109.5 122.9h0M26.1 88.4h0M77.4 88.8h0M130.4 128.3h0M109.9 128.9h0M132.7 112.6h0M122.6 132.3h0M74.1 69.8h0M111.5 134.2h0M98.9 83.6h0M95.7 108.9h0M51.7 149.1h0M112.9 147h0M115.8 70.1h0M112.1 124.4h0M112.7 154.9h0M131 82h0M35.5 121.3h0M74.2 129.9h0M48.6 95h0M83 70.2h0M63.1 37h0M32 48.4h0M77.3 99.4h0M11.8 77.4h0M121.1 132.9h0M103.1 86h0M72.1 39.9h0M103.5 117.7h0M98.8 72.3h0M85.2 98.3h0M88.3 69h0M67.7 92.8h0M80.9 52.7h0M137.1 95.7h0M139.2 99.6h0M70.4 98.2h0M3.9 104.7h0M77.2 153.1h0M86.4 149h0M123.5 102.9h0M61.4 168.5h0M106.6 160.5h0M134.5 74h0M32.7 106.6h0M127.8 129.2h0M74.1 155.4h0M35.7 58.9h0M10.5 68.6h0M80.2 103.2h0M133.5 91.9h0M107.9 126.7h0M61.9 170.4h0M98.2 94.9h0M104.8 112h0M94.5 59.2h0M64.3 33.5h0M112.9 141.3h0M33.1 154.4h0M8.7 104.4h0M123.9 124.8h0M124.5 86.4h0M103.7 147.5h0M104.4 96.3h0M96.7 150.7h0M124.1 70.3h0M96.4 129.4h0M69.2 139.6h0M121.4 91.7h0M102 143.1h0M109.3 102.3h0M93.2 88.7h0M43.6 72.7h0M28.4 87.2h0M108.8 59.9h0M114.3 100.2h0M37.8 106.9h0M94.7 128.1h0M74.5 71.1h0M138 96.4h0M101.3 130.1h0M49.8 139.6h0M120.1 62.5h0M34.8 72.1h0M124.6 129.8h0M67.3 118.4h0M40.4 95.2h0M102.4 81.7h0M46.4 165.5h0M115.9 47.3h0M27.1 55.1h0M119 152.9h0M121.3 119.8h0M61.3 54.2h0M123.2 119.2h0M85 151.2h0M106.3 99.9h0M20.6 116.8h0M63.4 148.1h0M104.8 72.8h0M111.9 144.7h0M138.2 97.2h0M124.3 124.1h0M104.4 86h0M28.6 56.5h0M74.7 50.8h0M44.4 67.9h0M39.2 42h0M133.7 110.4h0M108.5 101.6h0M27.5 74.9h0M57.2 151.3h0M61.1 94.4h0M58.2 149.6h0M39.3 102.9h0M91.1 69.2h0M85.5 109h0M102.4 129h0M124.3 135.8h0M110.9 122.7h0M70.2 136.1h0M76.1 98.7h0M112.6 59.2h0M105.1 131.3h0M80.4 72.8h0M27 49.5h0M77.8 167h0M131.1 79.2h0M77.1 98.1h0M47.2 93.7h0M115.2 74.5h0M102.6 104.6h0M121.4 64.2h0M125.9 114.3h0M65.6 117.2h0M107.7 141.3h0M56.3 100h0M120.7 110.4h0M96.2 73.2h0M69 164.6h0M33.1 53.6h0M21.7 150.7h0M76.3 35.3h0M80.2 52.4h0M116.9 103.8h0M95.7 110.9h0M79.5 125.6h0M102.7 158h0M133.4 132.8h0M57.9 50.8h0M46.4 57.6h0M41.8 50.1h0M44.4 123.3h0M120.2 133.6h0M80.1 50.5h0M121.4 72.3h0M51.2 79.3h0M99.1 101.4h0M10.7 91.4h0M53 150.5h0M52.7 84.3h0M71.5 72.1h0M99.7 116.7h0M117.7 102.9h0M109.9 92.8h0M105.1 151.6h0M71.8 146.9h0M43.5 82h0M89.7 71.1h0M96.9 124.2h0M57 139.2h0M102.4 92.6h0M128.8 131.4h0M18 88.5h0M85.8 60.6h0M134.5 126.7h0M100.4 62.6h0M93.4 68.4h0M121.6 102.6h0M99.2 85.8h0M93.9 160.3h0M86 56.7h0M125 74.7h0M128.9 92.3h0M15 138.3h0M45.2 141.9h0M123.6 105.8h0M123 95.9h0M130.5 122.3h0M84.6 90.9h0M83.8 125.2h0M96.6 141.2h0M40.6 130.5h0M134.1 101.4h0M111.2 89.5h0M60.5 127.3h0M107.3 143.4h0M102.4 158.7h0M38.1 75.1h0M95.9 79.4h0M132.9 103.8h0M94 57.3h0M38.5 163.1h0M110.5 119.5h0M117 68h0M84.6 163.6h0M89.7 41.1h0M128.3 122.9h0M37.9 113.9h0M109.8 48.8h0M81.1 155.5h0M120.7 88.1h0M110 84.5h0M110.3 51.9h0M118.5 51.6h0M43.4 57.8h0M97.3 67.2h0M60.7 117.4h0M118.3 84.3h0M106.2 122.8h0M116.7 99.1h0M57.4 96.2h0M80.1 80.3h0M85.3 166.3h0M75.9 131.2h0M88.4 52.9h0M113.1 78h0M74.7 35.9h0M96.8 71.9h0M12.8 78.4h0M94.3 126h0M10.4 99.3h0M132.9 104.5h0M109.6 61.2h0M76.8 158.4h0M121.3 99.7h0M54.9 72.6h0M90.8 116.3h0M109.8 123.5h0M82.9 139.9h0M67.5 36.4h0M83.4 65h0M70.8 131.3h0M75.3 94h0M128.1 132.4h0M81.4 147.8h0M35.1 86.9h0M101.6 89.9h0M117.6 66.6h0M29.8 61.5h0M52.6 135.8h0M115 147.9h0M61.8 139h0M113 137.7h0M125.6 102.4h0M122 92h0M76.9 143.7h0M68 132.1h0M116.8 118.9h0M43.3 154.6h0M70.3 36.8h0M127.1 83.5h0M105.7 147.7h0M115.4 102.3h0M93.7 105.4h0M77.3 134.8h0M54.8 68.3h0M34.8 46.9h0M57.8 120.5h0M53.6 52.8h0M104.4 42.2h0M122.8 92.3h0M136.1 82.9h0M74.9 57.2h0M90.1 133.1h0M75 153.9h0M111.5 140.1h0M119.1 98.1h0M89.9 37.9h0M115.6 56.9h0M137.8 105.2h0M85.3 128.5h0M74.8 56.8h0M125.7 119.7h0M95.9 133.5h0M62.1 142.1h0M130.5 135.7h0M110.2 66.8h0M115.2 126.1h0M31.6 101.1h0M133.3 106.6h0M59.7 104.8h0M65.1 42.4h0M107.4 153.9h0M88.8 164.2h0M85.8 112.8h0M109.4 161.5h0M104.5 51.5h0M35.1 86.1h0M112.6 77.1h0M51.7 96.8h0M125.3 123.2h0M102.7 129.7h0M101.4 67.8h0M115.4 148.1h0M76.3 66.7h0M131.1 116.7h0M113.8 133.3h0M97.3 91h0M110.6 66.1h0M113.3 116.5h0M109.5 127.1h0M103.9 79.7h0M71.5 90.7h0M95.5 150.2h0M31.9 96.6h0M5.2 117.4h0M96.8 61h0M111.5 48.5h0M132.8 78.8h0M93.3 82.6h0M117.4 110.7h0M126.9 104.3h0M67.4 129h0M77.9 39.5h0M31.3 108.7h0M108.4 116h0M85.6 166h0M135 96.1h0M131.5 93.4h0M67.7 116.5h0M52.7 119.6h0M43.3 63.7h0M69.2 108.1h0M16.9 137.4h0M92.1 50.7h0M132 107.7h0M117.9 132.1h0M116.1 101.9h0M74.8 51.7h0M21.6 75.6h0M91 158.4h0M42.8 81.8h0M59.3 119.1h0M86.6 146.4h0M118.8 51.8h0M99.1 49.5h0M71.4 128.5h0M26.5 130.8h0M127.1 89.6h0M132.3 122.2h0M96.4 75.6h0M30.5 96.9h0M120.3 70.8h0M78 134.4h0M121.7 110.7h0M89.8 117.2h0M127.7 89.4h0M97.3 119.6h0M78.9 155.6h0M114.1 152.3h0M38.6 91.2h0M114.4 125.2h0M131.8 120.2h0M61.7 117.7h0M116.6 102.7h0M119.4 109.3h0M137.6 115.2h0M133.6 120.3h0M75.1 59.7h0M116.1 120.3h0M40.5 66.9h0M127.2 113.3h0M126.9 108.9h0M29.1 128.4h0M134.3 112.8h0M61.2 49.9h0M48.8 99.8h0M98.5 80.6h0M82.1 129.8h0M59.6 64.2h0M122.7 110.3h0M112.4 135.4h0M123.4 92.7h0M63 163.1h0M128.3 65.6h0M126.4 74h0M48.6 53h0M107.2 101h0M15.2 114.6h0M91.1 67.2h0M124.9 97.3h0M127.3 134.5h0M88.2 79.3h0M98.1 120.7h0M67.7 102.2h0M80.3 106.7h0M74.8 88.3h0M86 113h0M95.1 79.8h0M86.3 98.6h0M93.9 126.4h0M112.7 84.1h0M82.1 118.9h0M101.3 99.7h0M90.8 99.9h0M78.2 93.9h0M104.4 99.5h0M56.8 93.6h0M94.9 115.7h0M67 73.9h0M72.1 78.5h0M87.3 109h0M111.1 78.1h0M114.4 119.5h0M121.6 115.2h0M80.9 64.2h0M84 106h0M98.6 96.4h0M79.8 97.7h0M104.6 105.6h0M103.2 97.7h0M109.9 91.5h0M90.7 81h0M119.7 102.2h0M99.4 101.7h0M118 129.5h0M86.9 119.9h0M84.7 111.3h0M97.3 99.4h0M98.5 84.3h0M101.4 95.4h0M115 70.4h0M106.6 79.8h0M122.9 109h0M99.8 86.1h0M95.6 93.6h0M94.4 97.6h0M109.6 111.7h0M122.6 76.9h0M94.5 92.3h0M105.9 93.5h0M81.9 80.8h0M83.8 112.7h0M96 85.5h0M129.4 76.3h0M89.6 119.3h0M109.2 81.3h0M117.5 106.2h0M112.1 124.6h0M107.7 116.5h0M88.3 123.4h0M123.9 91.8h0M81.7 115.1h0M87.1 86.9h0M73.6 97.5h0M112.5 119.7h0M106.5 121.5h0M115.9 86.6h0M112.6 82h0M77.7 109.1h0M107.5 68.6h0M71.4 93.9h0M91.9 108.7h0M85.5 95.8h0M92.6 104.8h0M85.6 90.9h0M97.7 101h0M69.9 129.9h0M74.5 104h0M83.4 102.1h0M113.4 76h0M76.7 112.7h0M110.1 77.3h0M96.6 99.8h0M109.3 102.3h0M117 90.2h0M105.1 119.2h0M71.5 77.7h0M94.4 70.7h0M92.8 111h0M104.1 109.1h0M86.6 114.7h0M107 121.7h0M102.9 76.9h0M83.8 103.1h0M97.9 87.9h0M98.8 113.6h0M101.9 76.9h0M97.3 104.4h0M126.7 65.7h0M121.7 79.9h0M61.6 92h0M96.2 104.2h0M77 84.9h0M97.5 77.4h0M92.1 133.7h0M88.3 84h0M102.4 120.1h0M82.4 108.8h0M60.4 97.9h0M85.5 93.6h0M101.8 81.7h0M103.1 103.5h0M94.3 100h0M109.5 86.6h0M122.1 109.8h0M96 92.3h0M85.2 121.2h0M74.3 98.3h0M92.7 91.3h0M81.1 113.7h0M86.3 99.5h0M103.5 87.3h0M101.4 75h0M81.6 103.8h0M107.6 81.5h0M125.2 94.9h0M82.9 127h0M112.5 71.7h0M81.7 112.4h0M94.6 126.5h0M116.1 119.4h0M96 103h0M83.4 93.1h0M63.4 76.8h0M122.7 84.7h0M57.8 99.3h0M89.2 120.3h0M99.4 135.5h0M72.1 67.5h0M111.5 108.7h0M97.5 87.3h0M114.5 108.4h0M91.8 90.8h0M109.2 125.1h0M84 110.4h0M101.6 113.6h0M82.9 100.3h0M88.5 77.7h0M87.5 74.9h0M97.8 92.7h0M116.9 74.1h0M82.6 103.3h0M123.9 117.2h0M121.6 85.4h0M87 99.6h0M124.9 91.2h0M104.2 100.8h0M107 87.8h0M89.2 103.7h0M110.4 104.4h0M122.7 88.4h0M80.4 107.3h0M102 88.1h0M77.1 122.7h0M70.7 83.5h0M92.7 118.5h0M77.2 105.6h0M93.8 129.8h0M111.3 113.7h0M90.1 105.9h0M69.2 69.1h0M81.8 82.9h0M88.6 110.4h0M110.6 126h0M86.8 88.1h0M80 79.3h0M125.1 99.6h0M91.7 91.3h0M92.3 137.2h0M76.2 116.3h0M72.9 93.4h0M129.1 100.5h0M70.6 108.1h0M81.1 89.3h0M94.2 98.9h0M93 103.8h0M78.4 99.9h0M95.5 121.8h0M94.6 97.5h0M118.4 100.7h0M98.1 122.2h0M90.7 96.1h0M104.8 96.3h0M84.3 82.1h0M94.4 71.1h0M88.2 78.8h0M100.9 105.2h0M87.5 87.3h0M73.5 98.5h0M102.5 88.2h0M119.7 88.8h0" stroke="#a3d4f5" stroke-width="1.6" stroke-linecap="round" fill="none"/>
<path d="M127.7 85.6h0M72.7 35.9h0M83.5 70.6h0M88.5 94.8h0M97.5 93.7h0M76.8 80.2h0M41.8 40.9h0M87.5 92.7h0M24.5 94h0M71.9 98.5h0M39.3 42.9h0M39.9 97.8h0M18.8 106.3h0M8 81.8h0M24.7 132.8h0M134.3 87.7h0M67.9 148h0M17.1 83.7h0M83.6 108.8h0M110 75.2h0M41.5 44.5h0M22.3 88.7h0M20.4 118.9h0M84 132.6h0M75 91.4h0M28.8 58h0M26.7 151.3h0M7.6 86.2h0M113.8 81.3h0M11.8 137.4h0M53.2 40.8h0M107.4 121.6h0M93.5 108.2h0M55.8 37.9h0M5.2 98.3h0M27.6 70.9h0M86.6 94.9h0M71.8 154.4h0M25.3 51h0M42.6 100.4h0M8 103.3h0M33.9 45.8h0M30.9 143.2h0M25.4 51.4h0M80.1 59.2h0M22.8 76.2h0M65.4 131.4h0M12.5 78h0M121.3 83.7h0M16.8 111.8h0M137.2 113.5h0M43.9 153.4h0M19.5 145.3h0M91.6 151h0M18.7 94.2h0M122.9 115.7h0M76.7 130h0M43.4 45.6h0M17 137.6h0M99.6 91.7h0M14.8 126.8h0M92.7 87.8h0M80.5 108.1h0M97.7 39h0M69.4 117.7h0M94.6 109.7h0M11.8 74.8h0M109 89.4h0M7.4 102.9h0M64.5 102h0M11.5 122.2h0M52.4 167.1h0M100.5 70.3h0M70.9 104.6h0M18 90.7h0M115.4 135h0M23.3 99h0M27.8 145.2h0M74 75.2h0M13.9 95.8h0M58.8 63h0M95 109.3h0M33 71h0M10.6 95.9h0M12.7 78.1h0M83.3 157.3h0M24 53.2h0M98.1 78.7h0M109.6 118.7h0M60 133h0M130.8 74.7h0M37.3 52.4h0M12.5 75.5h0M73.9 36.2h0M31.1 79.1h0M86.1 57.1h0M18.2 123.3h0M97.8 120.4h0M106.3 83.2h0M41.2 158.3h0M15.6 112h0M81.8 81.9h0M11.4 92.2h0M41.3 156.2h0M99.2 109.9h0M85.8 100h0M15.2 73.1h0M18.4 70.1h0M49.5 106.7h0M129.3 74.8h0M44.5 90h0M97.6 109.2h0M22.5 85.8h0M94.7 103.7h0M20.4 119.2h0M22.7 52.7h0M19.7 60.4h0M5.9 112.3h0M21.7 140.1h0M98.7 76.4h0M20.1 97.6h0M80.2 139.6h0M93.2 105.4h0M60.5 162.4h0M63.6 48h0M74.2 142h0M82 144.4h0M13.5 124.1h0M13.4 105.3h0M36.8 45.8h0M7 103.7h0M20.7 85.1h0M87.9 114.2h0M15.9 90.7h0M29.8 143.3h0M94.6 41.8h0M35.5 62.9h0M11.5 118.4h0M98.1 48.6h0M47.6 108.6h0M11.9 94.5h0M44.6 45.9h0M65.7 97h0M43.6 43.8h0M84.8 122.7h0M42.3 85.8h0M18.6 85.1h0M109.8 52.5h0M13.8 69.5h0M103.6 71.2h0M118 151.4h0M19.5 145h0M27.9 115h0M17.2 88.1h0M54.5 121.2h0M71.1 99.6h0M91.3 154.5h0M98.9 78.3h0M73.2 106.5h0M44.8 90.2h0M27.7 100.8h0M25.2 139.2h0M83.8 88.1h0M80.2 165.7h0M32.9 137.5h0M87.2 153h0M12 72.4h0M64.3 70.4h0M6.3 93.6h0M53.3 144.9h0M17.7 103.8h0M107.7 102h0M18.9 88.9h0M24.6 125.9h0M13.9 126.9h0M103.1 80.5h0M118.4 147.7h0M20.6 126.7h0M30.1 61h0M4.6 94.8h0M125.2 114.2h0M15.3 85.6h0M39 96.5h0M10.9 77.6h0M60.8 119.9h0M23.6 52.3h0M103 81.5h0M108 96.1h0M94.1 117.5h0M91.2 53.2h0M21.9 111h0M19.7 77.9h0M88.4 77.9h0M86.4 101.4h0M104 79.1h0M66.7 105.3h0M6 88.1h0M108.1 65.3h0M31.9 49h0M95.1 54.9h0M97.4 65.9h0M120.9 146.9h0M96.5 80.5h0M83.9 95.5h0M38.7 46.9h0M21.5 112.5h0M62.2 40.1h0M25.9 133.2h0M18.5 141.6h0M19.2 138.8h0M82.6 40.6h0M27.7 157h0M109.7 89.2h0M102.8 40.7h0M75.7 93.2h0M51.1 60.9h0M60.7 74.3h0M13.7 73.1h0M15.1 139.1h0M78.5 125.6h0M119.6 110.3h0M109.2 57.9h0M62 165.2h0M21.9 72h0M118.4 114.9h0M78.6 121.9h0M15.4 72.3h0M68.3 88.4h0M74.4 107h0M51.2 41.3h0M95.7 100.1h0M84.3 132.5h0M24.1 121.9h0M7.2 114.3h0M36.1 159.9h0M88.3 71.6h0M51.1 76.5h0M36.4 51h0M68.3 163.1h0M46.8 44.9h0M76.3 87.4h0M6.3 92.3h0M25.6 67.2h0M120.9 143.5h0M125.7 131.2h0M89.1 91.5h0M32.4 57.7h0M95 141.9h0M9.8 84.8h0M115.2 116.3h0M8.4 115.3h0M15.2 122.8h0M87.9 97.1h0M21.9 79.6h0M108.2 124h0M60 141.8h0M24.3 136.2h0M108.6 74.4h0M74.9 71h0M102.8 83.9h0M115.7 140.3h0M32.6 72.7h0M115.9 83.6h0M128.7 102.7h0M62.6 91.8h0M61 36.7h0M5.2 113.2h0M21.6 93h0M51.2 125.6h0M19.2 111.3h0M87.2 58h0M85 117.5h0M15.5 131.9h0M16.7 112.4h0M33.5 50.9h0M110.2 101.9h0M13.2 116h0M40.7 46.5h0M21.5 58.9h0M98.7 90.9h0M50.3 95.8h0M45.5 59.3h0M62 54.6h0M26.8 152.3h0M25.2 121.7h0M120.1 109.1h0M90.3 92.3h0M18.2 87.8h0M92.7 74.2h0M23 80.8h0M101.3 118.2h0M10 80.5h0M18.2 116h0M39.5 51.6h0M47.2 158.3h0M131.2 101.5h0M96.5 92h0M29.9 46.1h0M102.4 154h0M89.3 125.9h0M22 131h0M29.3 86.1h0M75.3 41.7h0M13.6 93.1h0M86.5 92.9h0M111.3 67.3h0M94.2 82.6h0M61.2 150h0M99.9 91.6h0M74.9 91.5h0M53.2 167.8h0M101.7 121h0M51.2 76.5h0M99.9 100.4h0M11.4 86.1h0M125.5 87.6h0M97.9 83.2h0M90.5 93.6h0M76.9 105.2h0M16.2 95.4h0M79.6 111.4h0M62.3 168.3h0M86.8 101.4h0M103.4 62.5h0M41 48.8h0M35.3 156.1h0M35.4 149.3h0M21.9 109.3h0M14.5 125.7h0M103.2 126.7h0M66.5 162h0M101.5 63.9h0M56.1 166.1h0M92.3 89h0M26.6 77.8h0M87.3 98.5h0M90.6 135.7h0M105.4 90h0M117 92.5h0M18.1 108.9h0M86 165.2h0M20 128.3h0M101.2 72.5h0M35.8 150.8h0M84 81.2h0M69.3 168.1h0M21.8 92.6h0M82.3 48.7h0M123.2 79h0M56.1 153.8h0M16.5 136.2h0M41.6 161.7h0M45.4 54.3h0M19.8 54.7h0M87.1 80.8h0M105 72.9h0M19 95.1h0M116.2 61.7h0M45.2 120.9h0M82.3 110.3h0M32.1 142.6h0M26.8 144.9h0M91.8 50.9h0M20.3 126.3h0M46.4 43h0M12 130.3h0M81.3 48.8h0M69.3 94.6h0M29.2 138.8h0M20.4 107.9h0M100.5 83.5h0M41.5 161.9h0M69.3 147.7h0M106.9 110.9h0M99.9 103.1h0M76.2 43.9h0M100.7 148.8h0M7.6 119.6h0M39 50.7h0M82.1 78.3h0M116.5 95.9h0M128.8 129.6h0M64.6 150.2h0M59.8 82.6h0M93.1 95.6h0M22.7 76.4h0M69.9 98.6h0M45.6 57.9h0M20.7 149.4h0M94.2 65.6h0M26.4 90.7h0M94.9 43.6h0M70.8 63h0M60.9 76.8h0M40.3 160.6h0M5.2 91.4h0M74.4 169.2h0M115.2 146.7h0M5.2 94.8h0M27.7 48h0M20.5 117.4h0M104.7 67.5h0M35.7 45.6h0M83.4 81.3h0M75.8 117.1h0M15.3 95.4h0M119.8 99.5h0M110.5 107.9h0" stroke="#e41212" stroke-width="1.6" stroke-linecap="round" fill="none"/>
<path d="M16.1 108.4h0M90.9 72.5h0M92.2 100.5h0M44.9 149h0M104 53.3h0M96.8 70.3h0M115.6 95.7h0M42.2 165.1h0M101.2 92.8h0M112.3 145.4h0M35.2 42.7h0M115.3 106.2h0M79.9 87.9h0M20.4 121.7h0M16.3 72.9h0M36.6 75.4h0M96.4 48.5h0M81.6 124.4h0M15 130.8h0M106.4 83.7h0M94.3 85.7h0M67.5 169h0M45.7 98.2h0M111.1 91.6h0M102.6 81.8h0M49 155.6h0M81.1 84.2h0M38.5 128.5h0M121.6 105.5h0M11.4 118.2h0M117.1 101.4h0M110.9 93h0M29.5 54.7h0M65.2 118.3h0M99.7 98.9h0M93.9 154.1h0M85.3 104.6h0M94.7 122.8h0M8.9 116.4h0M110.7 51.2h0M104.9 108.1h0M82.8 68.1h0M84.3 107.7h0M125.9 90.1h0M39.1 41.7h0M99.5 95.5h0M99.2 93.3h0M60.1 50.8h0M71.1 132.2h0M88 110.2h0M40.9 159.9h0M98.7 76.9h0M76.4 93.5h0M98.8 93.6h0M22.8 72.4h0M35.6 162.2h0M88.9 95.3h0M118.8 77.2h0M78.3 99.6h0M87.5 102.6h0M16 137.1h0M89.4 124.6h0M78.5 117.9h0M72.3 46.1h0M20.9 150.3h0M46.3 164.1h0M87.3 103h0M12.7 138.2h0M22.9 136.6h0M83.1 105.9h0M21.2 115.3h0M10.9 70.5h0M36.2 45h0M10.7 80.7h0M71 105.7h0M121 87.3h0M98.2 102.8h0M95.7 122.9h0M18.6 69.8h0M86.7 90.5h0M109.2 62.5h0M46.1 163.5h0M76.2 99.5h0M38.9 152h0M44 156.8h0M77.1 134.8h0M105.8 118.5h0M72.5 43.5h0M8.8 109.7h0M89 137.5h0M89.7 123.1h0M83.9 157.8h0M16.4 114.3h0M56.8 169.6h0M79.9 97.5h0M25.8 49.7h0M21.7 96.3h0M117.8 119.3h0M78.9 99.5h0M84.9 111.3h0M23.5 114.2h0M13.6 82.7h0M108.1 104.8h0M97.4 102.2h0M23.6 58.1h0M32.3 48.7h0M25.8 138.6h0M127.1 100.7h0M89.6 149.3h0M48 57.5h0M97.2 109.1h0M9.4 86.8h0M114.6 119h0M28.9 89.1h0M102.2 101h0M105.7 105.8h0M81.4 91.1h0M87.3 96.6h0M18.2 112.9h0M32.5 143.2h0M99.8 111.4h0M108.7 100.7h0M27.6 109.1h0M92.5 101.5h0M40.9 50h0M108.8 94.5h0M11.4 130.6h0M96.2 98.3h0M7.4 124.1h0M7.9 122.2h0M16.3 77.1h0M98.3 97.3h0M106.8 98.1h0M98.3 127.3h0M24.6 120.5h0M22.2 90.7h0M40.8 162.2h0M125.4 77h0M22.3 137.3h0M49 160.5h0M95.6 104.6h0M66.1 96.3h0M64.2 102h0M110.8 80.4h0M87.5 107.2h0M38 42.6h0M26.9 63.1h0M37.6 157.5h0M20.5 149.1h0M6.6 98.7h0M102.7 98h0M16.6 137.9h0M104.7 71.6h0M84.8 96.3h0M8.9 88.3h0M95.1 101.2h0M77.8 108.6h0M60.3 55.1h0M49.7 125.3h0M23.1 126h0M86.3 85.2h0M29.4 54.1h0M42.9 156.4h0M83.7 126.3h0M92.1 146.7h0M35.3 56.1h0M125.1 96.7h0M25.6 117.9h0M47.9 72.6h0M98.2 96.8h0M51.4 167.7h0M110.1 94.5h0M22 61.6h0M52.3 167.3h0M93.1 112.2h0M22.2 147.9h0M118.3 91.5h0M12 79.9h0M22.5 113.7h0M119.8 148.8h0M10.7 82.2h0M71.2 90.9h0M56.7 39.1h0M93.5 90.3h0M85.5 97.5h0M49 89.9h0M8.9 126.7h0M20.6 55h0M94.9 104.6h0M12.2 117.6h0M9 125.4h0M41.4 152.8h0M96.2 90.8h0M30.4 59.2h0M42 39.5h0M108.3 121.9h0M64 132.3h0M26.8 53.1h0M22.7 86.1h0M25.4 67h0M29.3 147.8h0M86.2 85.9h0M113.6 115.2h0M104.6 132.2h0M76.9 62.1h0M17.5 88h0M90.1 93.8h0M55.4 168.9h0M54 165h0M108.9 78.4h0M80.6 84h0M100.7 102.2h0M117.8 108.6h0M89.5 90.8h0M74.3 97.7h0M95.9 82.5h0M101.4 108.9h0M35.6 43.9h0M83.3 125.1h0M12.8 103.5h0M88.6 109.4h0M17.1 60.7h0M81.7 81.4h0M30.4 157.5h0M72.3 99.4h0M35 160.6h0M105.9 101.4h0M119.6 114h0M97.4 84.1h0M62.3 81.3h0M5 112.4h0M85 153.3h0M102.2 76.5h0M25.5 54.7h0M106.5 90.4h0M20.1 117.9h0M22.1 148.1h0M105.2 76.8h0M87.7 109.2h0M74 95.4h0M21.2 118.5h0M112.4 99.5h0M111 104.6h0M8.3 84.5h0M85.7 93.6h0M11 125.6h0M32.6 43.5h0M90.7 89.9h0M52.3 164.4h0M98 80h0" stroke="#38a816" stroke-width="1.6" stroke-linecap="round" fill="none"/>
<path d="M59.9 162h0M15.8 142h0M73.2 170.9h0M63.4 166.3h0M100.4 128.7h0M35.9 118.9h0M22.8 143.2h0M28.4 55.4h0M35.3 70.9h0M80.2 95.4h0M74 60.3h0M5 105.3h0M32.7 52.9h0M75.9 91.4h0M21.6 115h0M93.4 80.1h0M109.9 91.3h0M5 95.8h0M80.8 104.6h0M22.1 109.1h0M5.1 95.1h0M104.3 116.2h0M17 145.8h0M6.8 92.3h0M6 86.4h0M43.9 112.6h0M107.5 112h0M47.4 41h0M16.3 63.6h0M39.8 42.1h0M23.2 93h0M9.6 131.4h0M15 125.6h0M65.6 131h0M38.2 41.4h0M41.1 139.9h0M23.2 74.1h0M117.4 117.7h0M7.6 98.6h0M132.1 83.8h0M47.1 167.3h0M70.8 133.5h0M5.8 116.3h0M83.6 65.2h0M131.3 132h0M82.4 76.5h0M67.6 113.5h0M99.5 59.8h0M108.9 75.5h0M116.5 105.8h0M28 155.3h0M106 118.1h0M26.4 155.6h0M78.3 123.8h0M25.6 119.2h0M104.4 109.1h0M119.7 143.2h0M19.2 146.7h0M75 45h0M31.8 90.3h0M43.9 143.2h0M56.9 98.5h0M101.5 122.3h0M18.1 84.7h0M102.7 95.1h0M54.4 37.4h0M57.6 111.8h0M60.3 165.1h0M83 99.8h0M69 86.6h0M29.3 130.6h0M37 152.3h0M39.9 55.8h0M31.4 151h0M13.6 83.3h0M36.1 148.2h0M19.9 124.9h0M29.7 57.8h0M108.3 146.1h0M98.5 79.3h0M40.6 162.7h0M76.7 136.6h0M108.1 101.4h0M8.5 129.7h0M110 53.8h0M46.4 165.8h0M50.7 95.5h0M34.3 48.4h0M11 89.5h0M103.9 105.9h0M79.9 78.8h0M49.6 160.7h0M28.3 148h0M60.1 103.1h0M15.3 80.9h0M73.1 170h0M73.1 120.8h0M65.2 166.2h0M123 59.3h0M71.5 146.5h0M86.4 59.7h0M21.5 56.5h0M77 120h0M30.2 150.1h0M82.2 82.1h0M60.7 104h0M49.4 105.7h0M32.1 51.1h0M67 104.9h0M69.3 103.3h0M32.3 118.3h0M7.7 126.3h0M28.8 143.8h0M75.2 106.5h0M119.7 144h0M78.7 153h0M69.7 99.2h0M79 124.5h0M111.3 90.7h0M77.6 94.4h0M28.1 65.7h0M18.1 138.3h0M89.2 83.2h0M59 162.4h0M28 77.7h0M123.2 117.1h0M62 156.3h0M100.8 110.8h0M77.9 169.2h0M68.1 92.6h0M120.3 116.2h0M89.1 54.4h0M93 61.7h0M91 132h0M134.7 107h0M8.2 109.4h0M27.1 52.5h0M17.6 118.4h0M5.7 104.8h0M40.7 128.5h0M92 96h0M41.7 147.5h0M56.3 159.9h0M100.6 61.7h0M67.8 164.2h0M17.8 116.1h0M11.4 78.1h0M31 153.2h0M93 94.3h0M60.7 164.1h0M20.9 67.2h0M23.4 142.3h0M90.2 142.1h0M23.1 106h0M78.8 167.6h0M18.1 80h0M63.7 93.8h0M8 79.8h0M60.7 85.9h0M95.4 105.8h0M5.3 92.1h0M84.2 76.4h0M92.8 120.6h0M55.3 162.5h0M37.4 154.2h0M39.5 161h0M80.8 87h0M121.7 111.9h0M47.6 82h0M10.1 109.8h0M104.4 87.4h0M67.4 166h0M19.1 136.9h0M4.9 102.7h0M9.6 106h0M86.9 146.9h0M19.1 112.6h0M14.4 120.1h0M27.7 48.7h0M20.2 145.5h0M58.1 101.5h0M127.3 116.8h0M14.2 114.1h0M79.4 135.3h0M19 105.5h0M90.5 57.7h0M96.9 111.6h0M80.8 118.4h0M110.8 136.6h0M25.3 154.3h0M93.1 113.1h0M118.7 55.2h0M78.4 86.1h0M21.7 55.2h0M64.5 110.6h0M53.7 37.9h0M48.4 140.9h0M17.2 138h0M96.4 101h0M10.5 117.4h0M27.5 131.6h0M61.3 41.9h0M112.9 64.9h0M29.8 99.1h0M94.4 82.8h0M102.4 119.7h0M115.2 129.8h0M110.9 139.9h0M76.5 117.2h0M83.3 70.9h0M73.1 166.5h0M125.8 96.8h0M8.1 100.3h0M17.8 65.6h0M47.9 150.5h0M21.4 145h0M62.5 48.3h0M78 74.5h0M69.1 83.9h0M113.7 58.5h0M76.3 89.6h0M35.5 95h0M14.6 79.6h0M31.1 73h0M21.3 122.8h0M103.9 147.2h0M30.3 139.9h0M13 95.1h0M14.8 121.8h0M22 118.9h0M67.3 135.9h0M124.2 137.9h0M110.6 69.9h0M38.7 152.5h0M21 82.5h0M80.5 45.7h0M100.8 123.2h0M109.5 108.5h0M105 113.8h0M77.8 157.2h0M136.3 91.6h0M58.2 107h0M6.1 106.7h0M54.8 157.5h0M4.2 99h0M4.6 100.8h0M45.3 161.9h0M8.8 94.9h0M72.9 159.8h0M120.1 136h0M90 75.3h0M92.5 109.2h0M86.2 168h0M9.3 85.6h0M49.4 102.5h0M31 153.3h0M29.3 106.9h0M102.5 97.2h0M102.6 52.5h0M19.5 126.9h0M77.2 96h0M108.5 102.5h0M80.8 107.7h0M110.7 82.4h0M58.1 80h0M80.3 97.3h0M21.1 149.9h0M14 69h0M82.9 168.6h0M66.3 143.2h0M5.7 97.6h0M36.6 51.8h0M115.5 100.3h0M96.3 73.3h0M112.6 111.2h0M88.3 165.2h0M10.9 73.5h0M72.8 87.7h0M22.2 139.4h0M62.6 77.1h0M55.2 102.1h0M42.3 159.6h0M74.9 107.1h0M75.1 116.3h0M126.4 144.2h0M76 81h0M30.6 126.3h0M89.9 143.7h0M105.2 65.8h0M57.6 109.9h0M102.1 160.9h0M93 109.3h0M13.7 77.3h0M106.1 116.2h0M106.8 107.3h0M116.3 125.6h0M54.7 124.3h0M10.7 98.3h0M83.2 87h0M68.8 156.9h0M20.1 79.4h0M114 48.4h0M75.9 91.5h0M110 52.7h0M109.1 116.2h0M27.6 72.7h0M22.7 94.2h0M10.2 86.7h0M80.2 100.8h0M23.5 61.3h0M17.2 134h0M9.6 132.2h0M80.3 127.1h0M90.9 66.9h0M50.1 160.8h0M37.3 157.3h0M96.3 89.4h0M59.9 66.7h0M58.1 42.9h0M84.2 48.5h0M28.9 58.3h0M90.2 100.5h0M101.3 107.6h0M121 88.7h0M29.1 141.1h0M58.8 57.9h0M13.5 104.9h0M53.2 38.9h0M92.5 154.5h0M102.4 99.7h0M19 56.3h0M70.9 167.9h0M105.1 83.4h0M15.1 64.4h0M10.1 71h0M110 65.8h0M11.2 120.3h0M12 80.1h0M30.8 149.5h0M31 55.4h0M95 110h0M91.4 109.1h0M95 51.8h0M24.1 112h0M42.5 52.1h0M9.7 123.6h0M12.5 122.4h0M38.7 68.2h0M70.1 114.7h0M8.4 110.4h0M76.9 121.6h0M18.7 112.3h0M66.4 87.4h0M108.4 146.6h0M22.4 136.8h0M10.5 72.8h0M27.3 71.2h0M97.2 98.9h0M25.2 66.7h0M30.3 49.1h0M22.1 135.6h0M31.9 143.7h0M81 98.5h0M38 103.3h0M94.7 163.8h0M88.6 91h0M24.3 56.4h0M104.5 111.1h0M23.6 67.2h0M15.2 130.4h0M49.3 157.8h0M100.2 154.6h0M104.7 94.5h0M72.2 67.4h0M39.1 160.4h0M74.5 100h0M48.8 157h0M110.4 121.5h0M93.9 121.4h0M90.5 78.9h0M118.6 117.4h0M23.7 76h0M90.9 95.4h0M47 155.3h0M48.9 72.9h0M121.2 113.2h0M22.2 115.5h0M91.6 138h0M93.8 111.3h0M11.9 126.1h0M90.3 75.2h0M47.4 159.5h0M6.6 94.8h0M85.6 122.3h0M44.3 93h0M70.4 165.6h0M57.5 63.4h0M7 87.4h0M89 87.1h0M84.3 99.2h0M88.3 81.7h0M48.3 164.1h0M22 70.7h0M78.7 76.1h0M90.6 159.6h0M21.7 59.9h0M62 145.2h0M107.6 110.9h0M67.9 56.6h0M12.8 100.7h0M87 47.8h0M31.8 59.8h0M34.6 152.6h0M36.7 85h0M18.4 90.9h0M125.4 134.3h0M94.8 47.2h0M79.8 86.8h0M78.5 66.3h0M9.9 110.5h0M48 134.1h0M36 152.1h0M94 99.5h0M87.5 134.8h0M20.2 87.1h0M22.6 122.4h0M13.7 64.7h0M110.9 123.7h0M72.2 69.3h0M19.4 142.2h0M14 119.1h0M44.9 159h0M29.1 152.6h0" stroke="#e41212" stroke-width="1.6" stroke-linecap="round" fill="none"/>
<path d="M7.1 94.4h0M10.7 119.5h0M94.9 84.1h0M120.8 85.9h0M51 152.2h0M76.5 115.6h0M78.5 99.2h0M110 120.6h0M21.8 110.7h0M21.3 144.6h0M106 91.1h0M19.5 82.7h0M36.9 49.3h0M17.3 146.2h0M112.8 93.4h0M89.8 103.4h0M19.4 77.8h0M115 103.5h0M34 158.2h0M95.6 108h0M30.3 83.4h0M117.1 91.4h0M87.5 120.4h0M98.3 105.1h0M39.7 51.4h0M74 106h0M86.3 80.7h0M104.6 120.8h0M57 162.8h0M97.2 113.3h0M30.2 158.6h0M21.4 109.5h0M6.4 112.8h0M24.3 130.3h0M33 106.2h0M112.4 115.1h0M107.5 93.5h0M97.8 111.3h0M87.6 91.1h0M19.7 136.7h0M113.4 101.9h0M26.3 49.7h0M16.6 58.7h0M81.6 94.4h0M32.8 132.4h0M103.8 85h0M129.9 103.9h0M81.4 147.1h0M9.1 79.2h0M102.2 66.5h0M22.1 148.4h0M86.6 43.5h0M83.2 95.5h0M87.7 97.5h0M7.6 121.7h0M9.6 131.5h0M78.6 170.7h0M11 130.7h0M16.1 125.4h0M16.7 111.9h0M107.1 98.9h0M17 79.2h0M101.6 94.8h0M106.3 112.9h0M18.6 80.8h0M6.7 107.5h0M25.2 53.4h0M22.2 85.2h0M13 77h0M112.4 51.8h0M95.2 112.6h0M49.8 98.8h0M87.9 117.9h0M33.1 57.4h0M48.7 74.4h0M69.7 106.3h0M93.7 88.6h0M16.8 93.1h0M8.3 127.7h0M22.4 66.8h0M70.8 100.4h0M99.1 75.6h0M49.6 164.5h0M58.7 86.8h0M78.2 96h0M60.6 96.7h0M18.6 147.5h0M111.1 102.6h0M89.9 128.5h0M126.7 113.4h0M108.4 112.9h0M87.5 109.9h0M10.9 124.2h0M26.8 126.1h0M74.9 67.7h0M105.2 88.5h0M112.2 120h0M121.4 113.9h0M92.1 70h0M129.1 68.3h0M75.1 99.6h0M89.2 86.2h0M55 39.7h0M107 117.6h0M112.2 84.7h0M74.1 103.4h0M38.3 156.3h0M18.1 106.6h0M45.5 66.1h0M19.7 119.6h0M79.4 97.1h0M20.6 146h0M34.8 145.5h0M21.1 101.9h0M18.4 75h0M19.6 80.7h0M6.3 89.2h0M95.3 100.3h0M29.9 134.7h0M18.1 95.8h0M100.2 97.7h0M20.1 142.9h0M86 130.6h0M76.2 158.1h0M106.4 101.7h0M107.5 85.7h0M12.9 75.6h0M82.6 100.2h0M18.5 88.1h0M97.3 95.7h0M54 66.6h0M108.4 82.9h0M14.1 108.8h0M99.2 163.2h0M22.3 80.9h0M50.2 163.8h0M56.2 90.4h0M76.7 88.9h0M16.9 97.7h0M88.8 99.3h0M25.3 119.2h0M18.6 80.9h0M19 114.3h0M69.9 56.5h0M69.9 81h0M91.2 77.9h0M6.7 114.4h0M107.5 112h0M112.4 96.9h0M77.7 86.7h0M16.3 112.4h0M77.8 69.9h0M23 103h0M17.9 62.1h0M99.2 122h0M86.7 124.5h0M89.7 96.5h0M48.5 43.8h0M87.7 46.4h0M45 157.1h0M82.1 87.3h0M85.3 107.1h0M118.6 125.3h0M113.2 88.4h0M105.7 43.8h0M106.4 113.4h0M73 146.4h0M52.3 156.7h0M57.6 116.9h0M68.9 170.2h0M104.8 88.1h0M20.2 87.1h0M112.7 56.1h0M88.3 115.7h0M77.7 82.2h0M17.4 127.9h0M28.6 138.8h0M70.1 127.4h0M66.7 158.5h0M88.8 73.6h0M79 108.6h0M8.1 87.8h0M101.5 63.9h0M12.3 133.7h0M18.3 87.1h0M81.3 102.8h0M93.5 91.8h0M22.8 67.5h0M8.5 122.6h0M94.1 135.2h0M17.4 88.9h0M102.1 92h0M68.2 170.9h0M105.7 102.8h0M111.6 108.8h0M100.1 91.6h0M117.2 101.2h0M20.4 120.4h0M68.9 166.5h0M25 118.5h0M95.1 101.7h0M110.5 83.5h0M22.4 148.6h0M87 94.7h0M56 161.2h0M26.8 70.4h0M94.6 108h0M13.2 103.6h0M35.9 162.3h0M116.3 102.9h0M108.3 82.1h0M78.9 111.6h0M93.8 84.4h0M28.1 46.8h0M52.7 163.6h0M97.2 114.6h0M23.1 114.1h0M117.7 112.8h0M67.4 101.3h0M16.1 99.4h0M99.5 88.5h0M99 98.6h0M91.5 106.1h0M73.8 123.3h0M106.9 145.9h0" stroke="#38a816" stroke-width="1.6" stroke-linecap="round" fill="none"/>
<path d="M7.7 126.6h0M29.1 150.6h0M16.2 125.6h0M131.4 111h0M97.7 105h0M75.4 42.4h0M16.3 131.2h0M14.2 67.6h0M29.8 138.2h0M109.5 93.3h0M123.4 78.2h0M12.1 109.2h0M14.9 94.1h0M125.5 82.8h0M21.4 91.2h0M38.5 68.7h0M37.5 52.2h0M5.4 118.4h0M33.3 151.1h0M38.7 46.2h0M39.1 127.4h0M36.7 151h0M104.7 98.7h0M27.8 48.7h0M77.3 108.8h0M123.9 89.3h0M35.5 160.8h0M20.3 67.4h0M8.7 75.8h0M31.6 47.5h0M64.1 95.8h0M133.7 115.3h0M58.3 36.5h0M28.3 150.2h0M7.1 115.1h0M30.9 48.9h0M34.3 160.4h0M21.3 82.4h0M55 70.1h0M11.4 76.3h0M16 113.8h0M118.8 59.9h0M75.6 111.7h0M103 117.4h0M32.4 67.3h0M28.5 106.4h0M49.8 167h0M23.5 67.8h0M104.7 102.4h0M30.8 120.7h0M17.9 96.2h0M13.6 129.6h0M117.8 114.8h0M125.8 101.5h0M38.1 50.1h0M44.8 163.3h0M43.8 117.6h0M106.7 59.3h0M112.8 104.2h0M25.8 76.2h0M51.9 55.7h0M88.5 94.1h0M80.1 76.2h0M13.6 132.6h0M48.8 90.4h0M16.6 69.3h0M29.3 158h0M51.1 141.1h0M61.3 58.2h0M81.1 165.2h0M21.5 62.9h0M12.8 95.9h0M69.4 65.5h0M87.8 166.5h0M102.4 91.4h0M20.6 56.5h0M34.4 52.2h0M108.4 91.9h0M100.7 113.3h0M23.2 102.5h0M62.2 61.2h0M123.9 67.6h0M17.2 72.2h0M108.9 110h0M26.4 151.1h0M64 61.9h0M4.3 108.7h0M6.3 106.3h0M126.4 100.7h0M51.1 42.6h0M31.7 144.1h0M36.3 152.1h0M8.5 123.7h0M6.4 87.5h0M32.4 51.7h0M59.2 143.6h0M96.9 115h0M26.2 144.2h0M100.5 118.1h0M35.8 160.3h0M50.6 124.7h0M20.6 79.2h0M14.5 63.1h0M91.3 91.1h0M16.1 83.8h0M67.1 132h0M85.6 101.6h0M7.6 94.5h0M107.8 106.7h0M110.3 119.2h0M66.3 166.1h0M28.7 139.6h0M28.5 60.5h0M19.4 110.1h0M10.9 73.6h0M78.7 98.8h0M45.9 160.5h0M120.1 62.8h0M86.9 81.1h0M30.7 156.5h0M28.3 133.8h0M112.6 107.9h0M23.4 124.5h0M34.3 137.6h0M14.6 139.3h0M100.2 69.7h0M74.2 75.2h0M105.6 112.2h0M18.5 118.8h0M47.5 164.3h0M93.3 144h0M80.3 90.3h0M74 167.6h0M43.9 163.3h0M56.6 167.1h0M50.5 67.6h0M17.5 77.6h0M89.4 112.9h0M73.5 51.8h0M51.2 129.1h0M56.8 49.5h0M136 98.8h0M51.7 158.8h0M104.6 53.4h0M64.1 111.2h0M35.1 94h0M104.9 98h0M85.6 161.4h0M37.8 52.3h0M6.1 118.2h0M24.6 118.4h0M22.4 103.5h0M27.3 149.6h0M70.9 60.6h0M13.5 139.3h0M94.8 88.1h0M48.7 162.7h0M17 59.6h0M9.5 71.8h0M64 81.3h0M17.5 132.6h0M89 138.1h0M10.8 73.9h0M126.8 136.4h0M15.5 99.8h0M78 121.3h0M28.7 57h0M40 68h0M64 101.3h0M93.1 93.5h0M104.6 99.8h0M54.4 120.2h0M31 118.6h0M48.7 65.8h0M21 63.5h0M11 99h0M25 142.5h0M19.4 90.9h0M21 73.5h0M50.8 157.1h0M36.7 143.9h0M34.1 78h0M17.7 117.4h0M7.3 122.2h0M28 54.6h0M116.4 104.9h0M74.9 116.5h0M36.2 42.1h0M26.6 155.2h0M62.1 97.6h0M84.4 78.4h0M94.5 123h0M48.2 127.2h0M118.6 106.1h0M17.8 103.6h0M137.4 89.3h0M107.8 107.7h0M110.2 46.8h0M83.5 120.4h0M20.9 61.2h0M72.3 114.4h0M114.3 121.3h0M19.7 71.2h0M5 101.2h0M68.7 60.9h0M76.3 97h0M8.4 127.5h0M127.6 121.6h0M89.9 98h0M31.8 97.3h0M104.9 69.7h0M18.2 142.8h0M33.1 146.1h0M123.9 74.4h0M41.9 39.3h0M87.2 79.4h0M45 73.7h0M77.3 107.9h0M89.1 78.4h0M78.4 48.4h0M20.2 61.6h0M100.6 97.8h0M13.8 118.4h0M104.9 126.1h0M27.9 133h0M103.1 72h0M29.1 73.7h0M34.6 47.8h0M29.5 56.4h0M22.3 99.9h0M106.5 73.7h0M32.3 151.9h0M12.9 66.7h0M24.2 143.5h0M64.7 170.7h0M88 102.3h0M109.4 108.5h0M19.4 144h0M85.4 94.9h0M18.1 129.7h0M25.2 104.1h0M96 103.7h0M21.8 139h0M125.7 94.9h0M58.4 61.3h0M10.5 119.4h0M122.4 91.9h0M75.2 154.3h0M17.6 89.7h0M91.2 98h0M21 58.2h0M99 60.4h0M75.2 117.9h0M112.6 97.4h0M89.2 86.8h0M96.9 93.9h0M64.3 123h0M58.1 90.9h0M118.5 83.9h0M85.7 88.8h0M75.2 167.1h0M100.4 86h0M122.5 82.7h0M10.5 88h0M111.4 52.3h0M25.3 146.7h0M107.6 81h0M108.6 113.7h0M22.7 78.5h0M102.2 92.7h0M42 159.7h0M22.4 105.2h0M86.4 123h0M19.1 144h0M40.6 153.1h0M21.3 134.5h0M10.3 125.4h0M56.7 66.5h0M25.2 57.7h0M48.2 125.8h0M101.6 78.7h0M130.1 127.2h0M65.1 97.2h0M63.2 165.8h0M29.1 154.7h0M9.7 122.5h0M31.1 142.3h0M69.7 166.5h0M35 49h0M53.2 94.2h0M102.3 93.3h0M110.6 79.8h0M125.7 64.9h0M25.1 54.9h0M107.1 116h0M18.1 79.7h0M99.7 86h0M13.7 100.2h0M113.4 49.3h0M82.1 100.7h0M16.9 111.5h0M100.5 57.8h0M53.8 157.6h0M4.8 112.9h0M23.1 120.7h0M8.2 112.1h0M56.2 74.9h0M7.1 117.8h0M21 76.4h0M18 108.9h0M92.1 158.8h0M44.8 166h0M66.8 89.7h0M99.2 120.5h0M75.3 110.6h0M21.9 128.8h0M103.4 94.8h0M37 126.3h0M38.2 110.9h0M31.3 137.7h0M16.6 70.9h0M14.7 73.9h0M15.6 74.9h0M76.4 166.5h0M79.2 69.2h0M119.8 134.1h0M41.6 64.2h0M86 79.5h0M99.1 102.9h0M74.2 81h0M92.3 137.6h0M42.3 119.7h0M18.4 146h0M7.2 108.8h0M85.8 133.3h0M78.8 94.1h0M44.4 159.2h0M5.2 103.4h0M98.2 75.3h0M60.1 117.6h0M119.8 136.3h0M59.5 129.2h0M13.4 112h0M27.2 127.3h0M109.8 142.2h0M17.7 88.6h0M17.8 143.7h0M65.8 155h0M6.6 94.9h0M123.1 115.7h0M89.4 145.2h0M11 105.3h0M49.4 42.9h0M48.5 160.7h0M68 114.4h0M48.8 37.1h0M109.7 66.2h0M8.9 122.2h0M78.1 103.4h0M13.3 99.6h0M121.2 98.4h0M17.1 61.8h0M55.6 162.7h0M15.6 116.6h0M25.2 66.1h0M14.7 63.6h0M26.9 128.5h0M77.3 158.4h0M106.6 63.6h0M110.8 135.7h0M107 80.5h0M16.2 63h0M20.3 87.5h0M106.3 56h0M23.4 53.5h0M112.5 139.7h0M46 40.6h0M86.7 154.1h0M91.8 68.5h0M109.5 78.6h0M23.2 138.1h0M33.9 50.8h0M16.2 63.6h0M111.7 129.7h0M35.5 157.2h0M84.2 90.2h0M76.4 122.3h0M19.2 106h0M85.9 113.2h0M26.3 125.5h0M99.1 39.9h0M17.2 97.4h0M127.3 126.7h0M98.1 73.7h0M65.4 145.1h0M22.4 63.1h0M60.7 49.2h0M23.2 66.5h0M90.1 40.8h0M115.9 112.9h0M23.9 74.4h0M34.1 147.7h0M29.4 156.2h0M73.8 131.7h0M14.7 97.7h0M93.3 77.7h0M81 167.5h0M22.5 149.6h0M96.1 119.5h0M33.1 48.3h0M65.5 150.8h0M28.2 79.6h0M119.5 82.5h0M59.2 102h0M90.7 116.1h0M15.1 63.5h0M124.8 102.6h0" stroke="#e41212" stroke-width="1.6" stroke-linecap="round" fill="none"/>
<path d="M79.6 97h0M13.6 101.8h0M80.4 102.1h0M69.4 60.6h0M104.6 100.9h0M74.5 109.8h0M12.8 113h0M17.3 103.1h0M82.8 98h0M26.1 72.2h0M123.1 91.4h0M88 113.1h0M8.7 107h0M103.1 99.2h0M74.3 75.7h0M35.9 160.8h0M7.2 105.9h0M7.7 103.9h0M13.6 89.4h0M28.7 154.2h0M29.8 148.4h0M100.2 81.8h0M96.3 104.7h0M10.1 102.3h0M67.1 117.4h0M44.7 160.9h0M96.7 114.9h0M86.9 101.8h0M87.2 111.1h0M84 75.4h0M77.6 105.9h0M74.9 77.8h0M108.6 91.4h0M75.6 167.1h0M20.7 122.5h0M79.6 99.3h0M97.6 119.6h0M23.5 68.7h0M56.4 75.7h0M94.6 97.9h0M106.1 105.2h0M92.9 119.8h0M97.7 108.2h0M39.5 115.2h0M5.1 110.9h0M93.5 109.6h0M94.2 79.7h0M129.3 117.2h0M73.8 79.2h0M74.9 84h0M57.4 37.2h0M76.4 69.9h0M101.2 95.4h0M102.2 106.3h0M47.5 124.8h0M96.4 120h0M23.6 152.4h0M71.1 93.5h0M95.6 111.6h0M25.4 84.5h0M10.1 124h0M5 96.2h0M16.9 145.2h0M83.9 101.1h0M7.8 115.8h0M61.4 105.7h0M55.1 144.3h0M12.8 90.1h0M74.2 167.1h0M58.3 37h0M9.8 77h0M107.3 103.4h0M6.7 123.5h0M100.8 95.2h0M10.8 85.1h0M113.8 108.9h0M34.2 46.8h0M91.6 108.7h0M121 102.1h0M64 91.4h0M117.1 90.4h0M124.3 101.5h0M73.7 42.1h0M88.8 108.8h0M53.1 122.6h0M54.5 51h0M78.9 109.6h0M27.2 73.1h0M121.1 91.1h0M35 154.3h0M18.3 89.2h0M31.4 159.4h0M19.6 108.4h0M41.2 46.2h0M83.9 169.8h0M117.1 114.7h0M59.8 69.7h0M15.4 121.1h0M24.6 136.4h0M75.2 57.5h0M127.2 114.3h0M83.2 95.4h0M87.6 87.5h0M102.5 81.6h0M89.4 117.6h0M96.3 111.8h0M94.9 100.9h0M8.2 119.7h0M56.6 159.7h0M20.1 97h0M28.5 156.9h0M97.9 117.6h0M114.2 92.6h0M23.7 79.7h0M110.1 101.4h0M65.9 167.3h0M39.4 93.1h0M35.5 151h0M91.8 107.4h0M84.2 99h0M34.9 153h0M33.3 135h0M10.6 81.1h0M85.1 76.4h0M60 167.6h0M60.8 163.3h0M119.6 100.9h0M78.2 76.2h0M24 114.5h0M25.2 70.8h0M46.5 36.9h0M71.4 98.4h0M99.2 158.9h0M47.7 164.9h0M10.8 135.3h0M21.5 145.9h0M15.1 138.3h0M116 111.6h0M54.7 90.9h0M37 69.8h0M5.1 115.3h0M93.2 86.2h0M90.7 110.3h0M9.2 115.6h0M82.7 92h0M12 133.5h0M96.8 83.2h0M39.1 90.5h0M14.2 80.9h0M129.6 82.9h0M44.7 37.6h0M97.8 66.8h0M31.3 153.7h0M21.3 141.2h0M21.7 76.6h0M51.3 40.1h0M60 46.2h0M69.8 84.4h0M14.3 118.2h0M100.1 101.7h0M7.8 81.3h0M66.2 167.8h0M114.4 64.8h0M40.1 39.8h0M45.1 165.5h0M84.3 93.3h0M10.4 112.5h0M89.3 75.3h0M32.7 57.6h0M86.7 158.6h0M52 151.1h0M95.1 148.1h0M12.4 105.6h0M123.3 114.9h0M91.5 101.4h0M19.4 97.5h0M13.5 98.5h0M36.4 52.7h0M92.1 79.3h0M88.5 111.2h0M20.1 77.1h0M15 114.5h0M81.8 90.8h0M73.9 75h0M82.2 90.4h0M106.3 99.2h0M107.8 72.5h0M6.7 89.5h0M89.7 103.6h0M90.1 74.2h0M47.6 163.6h0M97.1 90.6h0M51.6 156.6h0M24.3 148.6h0M113 75.4h0M96.6 108.2h0M10.3 128.9h0M27.5 155.5h0M96.7 103.6h0M77 93.7h0M88 82.1h0M67.1 124.2h0M75.7 79.9h0M104.4 87.4h0M24.2 135.1h0M66.8 124.8h0M92.7 85.9h0M102.6 98h0M31.6 58.5h0M121.9 93.4h0M84.5 96.1h0M99.6 112.6h0M77.2 107.8h0M11.1 130.9h0M98.5 143.6h0M25.8 142.5h0M98 88.1h0M22 68.5h0M97 108h0M95.5 103.2h0M113.2 115.4h0M114.6 95.9h0M13.4 97h0M22.9 137.6h0M89.1 69.5h0M11.9 135.1h0M114.1 69.7h0M72.2 105.1h0M40.5 150.7h0M21.3 64.1h0M17 121.2h0M101.2 96h0M93.1 95.1h0M18.3 93.2h0M61 94h0M37.3 146.4h0M23.4 76.7h0M79.5 166.7h0M117.1 93.1h0M116.1 104.7h0" stroke="#38a816" stroke-width="1.6" stroke-linecap="round" fill="none"/>
<path d="M97.1 113.2h0M92.3 99.4h0M31 72.8h0M91.7 73.9h0M80.5 123.6h0M26.9 143.6h0M74.6 158.6h0M109.3 98.5h0M83.1 48.8h0M54.8 132.6h0M102.7 117.3h0M126.3 126.9h0M42.6 163.6h0M10.8 126.9h0M12.6 126.8h0M62.7 35.5h0M78.7 74.6h0M60.9 169.2h0M42.2 43.3h0M102.7 96.4h0M98.2 94.2h0M73.4 122.8h0M81.9 93.6h0M70.2 170.8h0M89.7 117.2h0M28.3 132.7h0M14.7 91.3h0M29.9 60.5h0M26.7 52.5h0M115.8 69.7h0M71.4 98.1h0M61.8 133.5h0M48.2 118.5h0M10.6 123.4h0M124.8 122.8h0M24.7 146.5h0M42.3 115.3h0M104.6 103.6h0M10.4 87.1h0M54.2 80.8h0M126.8 80.4h0M12.6 133.4h0M131.9 82.9h0M71.9 44.2h0M55.9 128.1h0M5.6 86.9h0M77.1 153h0M31.6 138.1h0M24.2 58.1h0M57.4 104.2h0M82 113.4h0M32.3 96.1h0M27.2 148.9h0M76.8 66.7h0M136 110.6h0M8.7 122.2h0M113 115.6h0M15.3 63.2h0M105.4 108.2h0M84.1 89.2h0M71.2 169.2h0M107.5 93h0M16.5 114.9h0M126.2 76.3h0M72.6 83.3h0M11.8 93.1h0M91.2 82.1h0M14.3 62.3h0M9.3 76.9h0M94 58.5h0M66.4 105.8h0M19.7 72.7h0M6.9 124.6h0M94.6 94.5h0M121.9 67.7h0M97.8 75.4h0M89 86.7h0M54.2 38.4h0M81.7 85.8h0M16.9 95.5h0M45.3 39.3h0M24.9 148.4h0M62.9 89.6h0M132.4 113h0M9 130.4h0M114.1 115.2h0M5.5 85.9h0M82.7 137.5h0M128.6 136.7h0M39 117.4h0M23.2 145.3h0M23.3 71.9h0M36.8 151.6h0M14.9 133.6h0M36.3 150.8h0M60.4 87.7h0M103.5 76.5h0M84.8 103.7h0M21.9 136.2h0M97.4 73.8h0M46.3 127.3h0M67.8 135h0M94.5 125.7h0M54.8 61.7h0M18.1 87.8h0M67.6 166h0M39.1 156h0M59.6 139.5h0M22.4 82h0M7.9 103h0M22.8 125.6h0M8 109.3h0M13.4 86.3h0M22 73.3h0M12.2 113.5h0M90.2 150.8h0M70.7 170.8h0M130.2 116.5h0M90.7 81.8h0M12.4 84.5h0M70.2 141.4h0M31.7 136h0M85.5 68.3h0M80.2 81.9h0M69.2 117.2h0M79.5 82.4h0M63.7 163.5h0M55.4 66.8h0M39.8 150.5h0M90.5 100.4h0M73.5 75.2h0M83.9 148.6h0M26 136.6h0M33.4 96.6h0M93.9 97.4h0M108.7 81.7h0M98.9 77.5h0M54.6 167.6h0M74.9 127h0M6.1 117.4h0M114.1 73.5h0M4.3 96.8h0M90.6 100.3h0M29.7 150.5h0M50.9 95.9h0M118.3 78.9h0M23.4 151h0M16.2 63h0M94.1 66.7h0M7.7 115h0M23.2 69.4h0M66.5 122.5h0M31.3 58.6h0M87 56.5h0M117.9 85.8h0M88.2 108.4h0M47.2 80.2h0M17.1 83.5h0M24.7 54.7h0M29.9 71.5h0M43.3 42.9h0M84.8 68.6h0M96.9 142.6h0M89.5 83.7h0M5 93.8h0M43.8 54.5h0M100.6 113.6h0M119.4 82.3h0M109 102.8h0M85.6 85.4h0M93.8 153.6h0M133.6 76.5h0M105.5 95.3h0M117.8 149.9h0M101.6 102.7h0M78.1 135.3h0M130.3 119.5h0M6.8 121.6h0M99.9 98.8h0M51.4 140.4h0M47.3 40.1h0M23.3 104.3h0M9.9 85h0M40.3 117.4h0M38.8 141.1h0M21.8 66.5h0M39.8 81.7h0M13.6 137.3h0M73.4 34.4h0M88 117.9h0M64.3 165.4h0M74.1 126.1h0M41.4 44.5h0M17.1 71.1h0M116 130h0M105.3 134.1h0M29.2 157.6h0M23.1 127.5h0M102.7 99.2h0M123.8 71.8h0M50 107.7h0M22 110.7h0M97.1 158.7h0M78.6 109h0M119.8 131.7h0M59.8 151.1h0M86.2 123h0M65.8 59.8h0M90.4 74.9h0M15.5 127.9h0M13 74h0M17.9 136.7h0M120.4 122.9h0M5.5 118.8h0M47.2 42.5h0M113.3 141.6h0M75.6 53.7h0M14.9 141.4h0M8.3 122.5h0M47.5 160.4h0M9.6 71.4h0M6.8 106.9h0M121 76.8h0M22.4 139.7h0M114.1 116.7h0M23.8 112.7h0M10 72.8h0M61.5 138.6h0M101 98.1h0M39.9 45h0M77.2 138h0M68.9 112.5h0M57.2 158.2h0M20.9 77.6h0M102.7 52.3h0M54.1 51.1h0M32.3 140.4h0M11.1 117.6h0M33.3 58.8h0M89.6 139.6h0M18.7 125.7h0M59.8 98.6h0M10.3 105h0M18.5 117.8h0M36 151h0M72.4 167.2h0M104.4 92.4h0M121.1 100.6h0M73.4 50.9h0M35 150.2h0M76.3 106.6h0M22.6 76.5h0M92.3 69.9h0M43.6 106h0M70.9 132.8h0M11.4 134.8h0M79.2 117.1h0M27.1 49.7h0M44 66.7h0M7.2 98.1h0M68.4 62.7h0M135 103.9h0M14.3 140.9h0M49.7 163h0M22.9 101.2h0M130.7 99.8h0M26.9 55.4h0M11.7 119.3h0M103 157.6h0M119.3 84.5h0M21.8 53h0M6.4 106.6h0M121.8 66.9h0M57.2 106.4h0M78.5 47h0M99.7 101.6h0M70.4 126.2h0M21.7 117.6h0M93.8 45.8h0M27 52.5h0M23.3 143.8h0M81.9 95.6h0M73.7 106.5h0M20.4 128.4h0M98.1 101.6h0M65.1 164.1h0M75 63.5h0M71.6 82.4h0M61.6 78.9h0M7.6 92h0M19.8 125.4h0M43.1 95.6h0M26.2 61.8h0M76.9 168.9h0M18.1 130.5h0M7.2 80.9h0M79.9 95.1h0M112.7 113.4h0M43.6 84h0M59.3 136.6h0M110.7 69.7h0M83 88.7h0M32.2 56.3h0M49 107.4h0M99 43.7h0M57.1 126h0M111.7 157.6h0M59.7 161.9h0M48.9 167.9h0M73 55.7h0M28 144.1h0M121.7 103h0M39.3 150.3h0M71.5 168.2h0M13.1 125.5h0M22.5 146.2h0M7.1 110.2h0M85.9 141.6h0M66.6 129.4h0M10.6 128.3h0M98.4 107.2h0M36.8 50h0M103.2 79.2h0M111.5 158.2h0M42.1 158.3h0M26.9 53.1h0M62.4 99.8h0M51 160.9h0M14.2 135.8h0M93.7 56.7h0M126.3 67.8h0M10.4 120.4h0M97.6 133h0M27 51.9h0M64.7 95h0M131.7 103h0M97.6 101.2h0M83.6 76.2h0M48.2 39.5h0M9.1 129.4h0M27.4 134.7h0M21.2 70h0M8.4 116.2h0M78 92.3h0M48.2 98.8h0M59.1 93.1h0M80.5 104.5h0M111.3 96.3h0M31.3 145.3h0M126.1 79.5h0M8.5 95.4h0M22.3 115.5h0M16.7 59.9h0M32.6 155.9h0M56.5 75.9h0M15.7 116.3h0M57.5 35.7h0M20 109.5h0M56.3 158.1h0M18.7 124.5h0M124.8 93.7h0M17.8 60.9h0M38 108.4h0M92.9 95.4h0M67.9 130.5h0M20.7 75.9h0M11.3 74.9h0M76 93.1h0M8.3 97.8h0M54 80.3h0M125 125.2h0M124.9 101.8h0M7.8 118.9h0M21.8 60.4h0M34 156.9h0M109.4 104.8h0M67.6 50.5h0M30.9 57.5h0M47.5 64.9h0M93.2 129.3h0M86.7 89.1h0M19 123.9h0M22.7 133.2h0M28.8 154.6h0M79.9 83.8h0M8.5 124.7h0M55.2 166.7h0M53.7 77.7h0M131 97.2h0M106.2 110.9h0M14.1 118.7h0M7.8 127.7h0M23.8 56.3h0M45.6 41.8h0M60.4 96.4h0M132.7 75.7h0M16.4 63h0M97.5 144.3h0M5.6 104h0M122.8 74.6h0M86.5 117.7h0M111.6 98h0M32.7 55.2h0M5 101.8h0M113.5 121.8h0M12.1 128.8h0M85.1 93.8h0M12.2 99.5h0M75.7 51.4h0M88.4 83.4h0M120.6 137.8h0M99 50h0M23.1 88.9h0M132.9 105.5h0M22.1 151.2h0M115.2 94.3h0M42.2 45.6h0M65.6 167.3h0M23.5 85.7h0M22.4 90.5h0M10 111.7h0M130 101h0" stroke="#e41212" stroke-width="1.6" stroke-linecap="round" fill="none"/>
<path d="M25.2 132.3h0M128.6 71.9h0M13.1 74.7h0M77.9 97h0M13.3 68.8h0M39.2 164h0M84.5 98.2h0M36.7 144.8h0M23 88.2h0M65.3 80.8h0M121.4 93.5h0M12.9 99.7h0M88.2 106.9h0M80.9 110.2h0M78.2 101.5h0M15.5 137.5h0M36.6 94.5h0M20.4 132h0M70.1 137h0M106.7 119.8h0M99.7 91.7h0M84.7 81.6h0M11.9 117.1h0M11.8 120.1h0M116.1 123.2h0M14.2 87.8h0M25.8 151.7h0M23.2 83.2h0M13.6 88.9h0M107 77h0M132 123.4h0M7.6 101.6h0M11.2 135.6h0M19.4 66.5h0M121.9 112.8h0M16.6 83.2h0M105.9 102.4h0M9.8 86.3h0M10.8 101.1h0M55.6 38.7h0M88.1 136.9h0M94.3 92h0M77.2 80.2h0M10.5 117.6h0M109.2 129.7h0M87.4 84.9h0M132.3 106.4h0M93.8 118.9h0M63.8 55.5h0M21.4 85.1h0M90.8 50.2h0M99.8 53.5h0M37.2 140.5h0M83.7 93.3h0M118.3 91.3h0M5.9 118.5h0M20.2 126.5h0M44.7 154.1h0M29 53.9h0M22.9 123.1h0M28 151.7h0M102.8 99.6h0M5.8 112.1h0M55.2 168.3h0M35.3 154.1h0M27.3 91.8h0M31.7 147.1h0M91.3 129.5h0M102.7 112.1h0M72.8 117.2h0M98.3 97.8h0M107.4 103.6h0M44.2 38h0M90.9 93.4h0M104.4 100.7h0M73.4 165.6h0M7.9 126.8h0M82.8 98.2h0M91.5 92.1h0M29.5 100.8h0M84.9 112.2h0M24.8 54.7h0M9.4 85.3h0M54.6 163.5h0M21.4 56.6h0M89.7 102.3h0M98.2 105.9h0M96.9 68.9h0M13.6 121.6h0M11 94h0M89 78.4h0M20.9 114.6h0M72.2 101.4h0M40.7 45.7h0M92.7 97.8h0M55.1 168.1h0M28.9 116.6h0M81.6 107.1h0M104.1 67.6h0M10.3 79.3h0M54.5 106.7h0M91.3 150.5h0M29.3 46.1h0M10 132.3h0M90 97h0M4.9 109.4h0M55.6 159.6h0M19.2 68.5h0M104.5 99.2h0M9.5 122.5h0M89.5 82h0M85.2 98.2h0M91.4 94.8h0M99.2 93h0M21.5 53.5h0M29.1 157.9h0M4.7 108.4h0M71.8 114.6h0M45.3 115.4h0M116.6 111.9h0M88.8 116.2h0M38.2 76.7h0M12.8 86h0M26.3 151.3h0M26 65.5h0M19 103.5h0M107.5 102.1h0M45.7 39.7h0M20.9 136.8h0M72.2 77.7h0M89.9 126.1h0M30.8 156.4h0M96.7 89.9h0M53.8 160.5h0M105 79.9h0M14.8 97.4h0M105.3 99.4h0M46.1 159.8h0M45.9 157.9h0M91.4 74.1h0M124 110.9h0M38.8 105.4h0M104.6 92.5h0M22.8 66h0M20.9 118.6h0M84.6 68.3h0M21.6 124.1h0M106.4 88.1h0M19 66.1h0M88.8 126.4h0M48.6 103.3h0M52 57.4h0M107 159.1h0M95.5 112.9h0M15.9 97.3h0M96 102.7h0M91.3 104.3h0M112.8 83.7h0M10.2 113.6h0M104.5 95.9h0M25.6 66h0M101.7 116.1h0M72.5 136.4h0M5.1 100.5h0M103.4 109.8h0M106.8 79h0M25.5 135.5h0M95.8 105.3h0M101 114.1h0M33.2 155.9h0M8.8 114.9h0M92.5 96h0M8.8 127.7h0M72.6 84h0M118.8 119.9h0M92.8 91.8h0M99.5 131.8h0M6 106.4h0M107.7 46.2h0M5.1 116.7h0M77.5 170h0M19.1 127.4h0M101.6 121.1h0M94.1 114.4h0M121.8 69.1h0M57.8 38.2h0M42.6 48h0M117.8 124.9h0M73.2 37.3h0M83.3 115.3h0M80.4 103.2h0M19.8 137.8h0M55.9 148.6h0M30.6 83.3h0M33 151.3h0M103.9 154.2h0M56.6 101.8h0M91.3 90.3h0M64.9 93.6h0M122.6 137.9h0M93.7 96.1h0M93.5 102.7h0M118.4 94.9h0M101 108.5h0M94.4 102h0M38.2 163.3h0M88.9 99.2h0M124.1 104h0M86.1 99.7h0M78.5 168.9h0M13.4 89.5h0M27.9 138.1h0M51.5 83.3h0M47.5 161.2h0M40.6 88.5h0M82 106.4h0M24.9 67.1h0M102 113.2h0M42.1 119h0M89.6 111.8h0M29.4 156.8h0M112.5 84.6h0M9.2 97.8h0M19.9 139.5h0M73.6 170.9h0M112.5 126.2h0M98 85.9h0M56.9 168.8h0M9.8 101.4h0M68.2 159.2h0M15.7 104h0M58.6 159.9h0M23.6 133.5h0M22.8 83.9h0M18 68.6h0" stroke="#38a816" stroke-width="1.6" stroke-linecap="round" fill="none"/>
<path d="M120.7 95.3h0M134.2 112.7h0M110.2 115.9h0M84.1 105.2h0M116.4 89.3h0M122.2 96.3h0M111.2 114h0M89.2 78.5h0M116.3 129.7h0M105.9 131.6h0M83.1 112.8h0M101.7 113h0M94.1 136.2h0M90.7 101.6h0M116.8 82.2h0M76.1 89.1h0M101.8 98.6h0M104.4 129.6h0M89 76.9h0M120.9 137.7h0M95.3 129.6h0M93.4 99.3h0M73.5 103.8h0M78.7 88.1h0M133.5 107.6h0M126.6 78.7h0M101.3 69.4h0M81.4 101.5h0M89.1 101.8h0M101.3 84.8h0M93.4 119.7h0M81.3 73.8h0M118.4 81.9h0M60.3 82.3h0M67.3 60.6h0M87.6 98.3h0M56 99.9h0M90.6 77.8h0M88.4 95.5h0M108 94.9h0M83.4 106.6h0M99.9 98.4h0M76.9 94.8h0M104.5 98.6h0M95 92.5h0M89.1 81.2h0M68.5 90.2h0M86.1 125.6h0M97.8 118.8h0M77.8 94h0M63.6 93.2h0M86.6 95.4h0M106.4 112.5h0M75.3 83.4h0M119.4 119.2h0M109.4 89h0M91.9 109.9h0M92.9 96h0M125.9 136.5h0M63.2 102.8h0M112.8 94.2h0M96.2 91.4h0M60.9 101.1h0M114.3 72h0M74.6 81.3h0M70.7 127.6h0M87.6 94.1h0M85.4 98.3h0M98.1 100.8h0M87.1 97.5h0M89.5 114.3h0M118.6 123.5h0M67 105.6h0M80.8 99.1h0M74.3 111.3h0M89.8 62.8h0M84 140.3h0M96.1 97.8h0M83.9 100.3h0M87.4 100.6h0M97.3 107.1h0M65.8 103.2h0M86.3 122.9h0M94.4 86.1h0M54.4 110.3h0M105.1 114.5h0M87.8 99h0M108.8 97.3h0M62.8 73.5h0M125.6 98.1h0M54.3 78.8h0M94.3 87.3h0M129.6 105.6h0M78.4 114.2h0M99.4 122.6h0M53.1 90.3h0M88.5 139.4h0M103.3 131.1h0M97.7 140.7h0M93.5 85.9h0M107.7 57.9h0M94.7 78.5h0M98.2 110h0M78.8 93.8h0M102.7 125.3h0M99.9 105.8h0M99.8 92.9h0M98 112.3h0M99.1 81.7h0M82.8 85.7h0M85.2 130.1h0M110 105.5h0M120.9 104.3h0M91 138.3h0M86.6 68.3h0M72.7 104.3h0M92.3 97h0M102.8 92.5h0M70.8 104.4h0M82.9 91h0M72.9 120h0M65.3 98.7h0M85.8 67.7h0M72.3 83.2h0M111.1 79.4h0M66.6 127.6h0M77.6 119.1h0M113.8 123.5h0M114.5 108.8h0M62.4 97.2h0M97.1 78.7h0M114.9 77h0M87.8 119h0M77.8 62h0M82 95.8h0M98.3 115h0M89.1 54.6h0M88 101.9h0M90.1 103.4h0M99.9 86.2h0M96.7 126.7h0M72.3 111.2h0M96.7 99.9h0M60.2 95.5h0M69.4 126.8h0M82.9 113.1h0M91.9 85.7h0M47 56.9h0M95.7 71.5h0M123.9 89.2h0M89.7 95.1h0M77.1 78.4h0M101.9 93.7h0M98.7 88.3h0M105.2 64.3h0M93.5 100.9h0M117 101.7h0M107.3 117.6h0M124.2 95.7h0M122.9 81.9h0M97 105.2h0M79.6 116.2h0M108.4 90.4h0M78.5 112.1h0M99.9 93.4h0M76.2 86.4h0M85.9 105.3h0M72.4 105.9h0M115.7 118.4h0M78 99.8h0M82.7 120.8h0M101.1 122.8h0M89.2 99.8h0M94.8 104.1h0M105.8 105.5h0M105.9 118.9h0M93.2 115.2h0M94.8 95.2h0M95.3 108.5h0M94.2 106.5h0M77.2 123.4h0M103.1 98.4h0M83.2 96.8h0M74 99.7h0M96 115.4h0M94.2 96.3h0M100.7 120.1h0M111.5 108.9h0M103.5 96.4h0M88.9 120.7h0M86.3 118.4h0M115.2 114.4h0M53.5 110.7h0M101.3 89.3h0M102.6 103.1h0M98.5 82.3h0M96.7 104h0M79 117.2h0M110.4 95.3h0M112.2 52.2h0M85.9 104.6h0M108.3 100.8h0M100 121.5h0M81.7 123.6h0M73 87.9h0M85.6 82.1h0M91.3 92.5h0M75.9 103.5h0M65.7 106.7h0M90.5 94h0M62.7 97.3h0M108.4 89.7h0M109 89.9h0M109.1 65.8h0M97.4 123.5h0M66.3 97.1h0M105.1 94h0M98.9 97.5h0M117.5 100.6h0M101.7 112.5h0M72.8 96.6h0M93.7 107h0M113.2 77.2h0M115.6 62h0M109.2 82.3h0M131.7 111.8h0M80.8 119.5h0M105.2 112.7h0M85.9 80.5h0M108.2 109h0M54.9 114.7h0M119.1 72.6h0M138.1 98.9h0M93.5 93.3h0M55.2 102.1h0M75.3 110.2h0M81.8 144.9h0M89.7 107.8h0M96.9 73.8h0M107.5 75.7h0M76.9 125.9h0M73.5 93h0M87 113.1h0M124.8 98.8h0M91.1 80.4h0M97.1 107.9h0M114 112.6h0M75.8 87.2h0M100.7 80.4h0M80 99.3h0M91.6 98.4h0M120.2 77.8h0M69 86.3h0M109.4 93.5h0M105.4 93.7h0M75.5 81h0M123.4 112.6h0M102.6 104.6h0M94.4 124.4h0M118.9 90.8h0M112.9 104.9h0M94 91.9h0M80.7 83.1h0M83.8 84.5h0M87.3 92.4h0M101.8 102.4h0M62.3 121.8h0M107.9 96.8h0M89.1 129.4h0M135.9 91.9h0M78.7 99.4h0M104.4 86.5h0M95.4 107.3h0M94.5 103.5h0M36.7 120.5h0M79 93.9h0M94.8 84.6h0M98 124.5h0M106.4 97h0M131.8 105.6h0M107 82h0M92.6 102.1h0M84.4 97.1h0M90.1 104.3h0M122.9 90.9h0M92.6 76h0M100.3 77.9h0M77 121.3h0M102 94.7h0M69.4 104.2h0M94.1 94h0M76.9 76.4h0M81.6 106.4h0M95.2 76.5h0M95.5 121.3h0M109 108.5h0M97.1 84.9h0M95 120.2h0M46 128.1h0M111.8 75.7h0M86.1 82.2h0M86 122.5h0M92.5 108.1h0M102.2 86.1h0M119.9 93.3h0M107.8 118.3h0M102.7 84.9h0M115.8 92h0M82.8 98.8h0M112.5 110.8h0M114.5 88.3h0M73.1 93.7h0M114.6 77.6h0M83.1 95.9h0M126.8 111.4h0M81.2 81.8h0M70.5 80.3h0M104.5 117.1h0M97.1 60.9h0M73.4 73.3h0M69.4 76.9h0M76.5 50.3h0M61.6 123.8h0M70.8 99.7h0M98.6 78.1h0M78.5 105.5h0M85.2 124.2h0M110.4 116h0M99.4 109.1h0M77.2 86.6h0M102 105.4h0M94.7 72h0M88.9 83.2h0M81.5 89.3h0M82 106.1h0M117.9 134.5h0M113 108.6h0M105.7 138.6h0M137 87.4h0M92.6 119.5h0M68.7 75.4h0M87.2 81.2h0M80.4 87.6h0M108.3 60.9h0M83 92.7h0M62.3 102.8h0M112.8 86.8h0M90.5 88.7h0M115.1 60.1h0M111.3 105.7h0M81.5 100.5h0M98.5 92.6h0M110.4 82.7h0M93.6 102.8h0M60.5 108h0M92.9 117.7h0M108.5 70.4h0M99.4 88.2h0M133.1 92.8h0M96.2 87.9h0M128.9 101.7h0M96.6 103.7h0M114.2 113.6h0M93.7 94.3h0M95.2 85.5h0M107 87.3h0M65.5 71.7h0M81.5 89.3h0M118.1 108.5h0M109.3 91.1h0M86.1 86.6h0M90.3 76.4h0M97.5 86.1h0M84.7 98.5h0M90.6 95.7h0M96.1 105.1h0M98.6 81.6h0M89.6 99.9h0M110.9 137h0M105.7 124.3h0M93.5 83h0M82.3 80.2h0M104.3 96h0M85.2 116.9h0M91.9 85.8h0M65.5 107.4h0M96.8 102.4h0M107.1 115.3h0M50.3 107.3h0M115.8 103.2h0M105.8 105.4h0M98.8 120.9h0M56.4 92.7h0M96 124h0M87.5 75h0M97 83.9h0M99 106.9h0M105.7 115.9h0M83.2 91.9h0M105.1 88.8h0M117.1 79h0M74.2 84.3h0M120.2 109.5h0M98.5 99.3h0M115.1 89.3h0M108.8 99.4h0M82.4 103.6h0M83.1 114.1h0M82.2 108h0M118.3 101.6h0M78.9 86.3h0M87.9 37.1h0M73.3 92.7h0M74.7 69.9h0M105.5 81.4h0M112.3 105.5h0M100.5 105h0M101.2 105.6h0M75.2 84.2h0M104.9 81.4h0M125.4 104.5h0M78.5 101.1h0M104.6 91.1h0M128 113h0M130.2 88.3h0M108.6 101.9h0M72.4 79.2h0M77.3 79.8h0M101.9 57.9h0M74.1 91.1h0M75.3 98h0M88.3 88.4h0M138.1 105.7h0M61.2 98.4h0M99.7 87.9h0M106.7 84.8h0M74.5 100h0M64 117.2h0M98.4 119.3h0M80.6 101.5h0M121.7 112h0M95.2 91.3h0M73.4 98.9h0M90.3 87.8h0M120.3 86.1h0M65.6 93.1h0M88.5 79.7h0M90.4 98.8h0M107.5 74.2h0M117.4 109.4h0M94.3 86.4h0M111.8 76.3h0M84.2 117.7h0M93.4 63.6h0M102.5 85.1h0M54.2 87.3h0M95.9 86.8h0M122.4 129.8h0M104.6 98.8h0M119.4 103.2h0M109.1 101.2h0M107.3 91.9h0M79.6 103.6h0M95.5 94.1h0M89.8 100.6h0M135.6 88.6h0M108.7 83.9h0M123.2 86.7h0M104 114.6h0M84.8 97.8h0M73.4 78.4h0M116.4 109.3h0M96 61h0M107.2 72.5h0M115.9 114.7h0M84.1 84.8h0M101.7 113.9h0M116.8 112.5h0M45.7 90.3h0M93 113.9h0M116 132.4h0M64.8 107.4h0M131.5 103.4h0M104.5 78.6h0M95.6 121.9h0M106.5 96.8h0M46.8 96.1h0M94.9 94.7h0M108.9 112.1h0M91.6 111.5h0M67.9 88.8h0M71.7 74.8h0M100.5 109.1h0M116.9 109.9h0M106.1 94.3h0M86.1 117.6h0M111 129.8h0M97.8 126.4h0M79.4 110.6h0M75.7 110.7h0M90.5 119.5h0M86.8 94.4h0M65.6 116.5h0M75.3 112.3h0M120.3 98.3h0M110.2 105.6h0M114 90.7h0M91.9 128.9h0M77.4 104.5h0M96.3 112.2h0M110.1 113.4h0M76.6 108.3h0M77.3 114.8h0M91.5 108.6h0M79.7 95.5h0M117.9 102.8h0M78.2 103.8h0M113.1 129.5h0M104.5 95.1h0M104.9 59h0M107.7 129.1h0M90.6 77.9h0M82.1 86.7h0M77.3 118.4h0M105.3 86.8h0M105.8 116h0M89.4 86.5h0M100.2 101h0M88.5 124h0M71.5 63h0M98.6 107.5h0M83 76.4h0M93.9 102h0M74.1 91.3h0M79.8 99.6h0M73.1 89.5h0M89.2 90.5h0M62.2 101.2h0M113.7 118.4h0M101.5 96.9h0M99.6 127.9h0M73.5 92.3h0M101.4 83.9h0M57 85h0M112.1 94.9h0M86.4 99.4h0M67.7 92.2h0M114.9 117.4h0M77.5 79.7h0M86.4 103h0M103.7 68h0M85.4 72.1h0M119.7 126.8h0M76.1 51.9h0M130.1 115.2h0M91.5 101h0M94 72.6h0M110.3 101.8h0M50.4 98.1h0M94 102.1h0M105.7 96.7h0M97.3 91.9h0M70.1 96.9h0M50.7 71.8h0M94 112.8h0M84.4 94.3h0M89.1 70.7h0M83.8 107h0M85.5 117.1h0M89.2 100.1h0M107.6 126.6h0M105.6 94.6h0M76.4 104.2h0M77.8 113.6h0M118.9 97.4h0M84.1 80.3h0M102.5 132.9h0M97.2 101.9h0M123.8 88.6h0M124.6 109.4h0M84.4 123.4h0M117.9 126.8h0M73.6 106.1h0M89.1 96.8h0M72.9 100.1h0M115.9 112h0M62.2 102.7h0M98 120.8h0M86.6 108.3h0M107.7 112.5h0M103.1 107.5h0M101.7 68.4h0M121.3 79.8h0M89.2 100.8h0M119.7 109.4h0M128.3 89.3h0M73.3 125.7h0M99.1 72.8h0M102.8 87.8h0M77.4 72.4h0M62.4 94.7h0M89.9 85.4h0M79.3 73h0M86 87.2h0M113.5 105h0M93.1 67.9h0M124.2 82h0M79.4 99.2h0M58.4 91.1h0M91.7 109.4h0M128.5 70.2h0M87.7 49.2h0M103.7 74.9h0M84.3 78h0M105 88h0M100.6 70.7h0M91.7 100.1h0M128 114.8h0M85.1 64.5h0M79.6 93.6h0M79 106.2h0M95.6 113.9h0M86 103.3h0M119.6 128h0M98.5 94.2h0M94.1 119.5h0M66 111.5h0M79.5 98.3h0M71.5 82.2h0M89.3 92.2h0M112.9 96.4h0M101.7 113.7h0M103.9 106.2h0M105.2 92.9h0M122.1 80.7h0M98.4 137.1h0M112.2 105.8h0M110.4 96.7h0M108.2 79.6h0M72.2 62.6h0M100.2 85.7h0M87.2 82.3h0M71.6 76h0M93.6 111.3h0M101 106.1h0M129.4 95.4h0M99.9 105h0M116.2 112.6h0M96.8 76.3h0M93.3 112.2h0M96.8 120.5h0M130.2 107.6h0M97.1 80.1h0M128.6 80.4h0M90.3 96.1h0M80.6 91.9h0M101.5 75.5h0M98.1 85.4h0M94.8 111.1h0M80.9 115.3h0M49.7 109.8h0M79.6 78h0M88.5 126.9h0M119.1 102.3h0M103.7 97.2h0M104.5 87.3h0M85.5 113.1h0M67.1 128.9h0M78.6 103h0M132.4 117.2h0M39.2 94.8h0M97.5 113.9h0M59.5 85.1h0M112.4 68.9h0M113.9 106.6h0M65.8 96.3h0M104.3 114.3h0M94.2 95.8h0M76.2 104h0M94.4 73.6h0M115.6 78.6h0M113.7 108.7h0M105.8 101.6h0M97.7 56.9h0M116 116.2h0M93.4 52h0M79.6 73.1h0M58.9 67.6h0M111.4 107h0M65.9 139.8h0M109.2 92.2h0M105.7 118.6h0M95 146.5h0M84.8 68.4h0M82.6 116.6h0M69.2 84.3h0M76.5 96.9h0M100.1 110h0M95.9 71.7h0M68.3 71.9h0M116.7 126.2h0M83.5 111.2h0M111.5 94.3h0M93.4 142.7h0M93 77.7h0M89.9 91.2h0M89.3 119.3h0M102.4 58.4h0M129.7 88.4h0M111.2 76.5h0M88.6 91.9h0M76.2 69h0M87.9 103.7h0M106.3 134.4h0M105 87.1h0M108.3 123.6h0M82.9 106.2h0M103.2 92.1h0M62.8 65.1h0M114.3 112.6h0M116.6 110.4h0M115.3 108.6h0M68.5 82.5h0M87.5 104h0M115.6 82.3h0M84.3 79.7h0M115.1 88.1h0M96.5 118.3h0M91 78.1h0M80.7 104.3h0M92 114.9h0M79.1 120.7h0M93.2 96.9h0M94.7 98.3h0M91.9 84.3h0M110.4 76.9h0M78.5 70.8h0M70.2 82.1h0M96.4 91.3h0M80.1 66.7h0M94.1 115.6h0M122.3 66.8h0M96.7 119.1h0M71.4 99.8h0M100.1 114.9h0M103.1 87.5h0M124.9 61.5h0M129.9 116.7h0M94.1 107.1h0M29.7 109.1h0" stroke="#a3d4f5" stroke-width="1.5" stroke-linecap="round" fill="none"/>
<g id="panelB">
<rect x="275.8" y="39.1" width="73.6" height="5.5" fill="#1f77b4"/>
<text x="269.6" y="43.6" font-size="6.2" text-anchor="end">gland development</text>
<path d="M270.6 41.9h2.4" stroke="#333" stroke-width="0.5"/>
<text transform="translate(350 41.4) rotate(90)" font-size="5" text-anchor="middle" fill="#000">79</text>
<rect x="275.8" y="45.5" width="73.1" height="5.5" fill="#1f77b4"/>
<text x="269.6" y="50" font-size="6.2" text-anchor="end">axon development</text>
<path d="M270.6 48.3h2.4" stroke="#333" stroke-width="0.5"/>
<text transform="translate(349.5 47.8) rotate(90)" font-size="5" text-anchor="middle" fill="#000">78</text>
<rect x="275.8" y="51.9" width="72" height="5.5" fill="#1f77b4"/>
<text x="261" y="56.4" font-size="6.2" text-anchor="end">cell growth</text>
<path d="M270.6 54.7h2.4" stroke="#333" stroke-width="0.5"/>
<text transform="translate(348.4 54.2) rotate(90)" font-size="5" text-anchor="middle" fill="#000">77</text>
<rect x="275.8" y="58.3" width="66.3" height="5.5" fill="#1f77b4"/>
<text x="267.2" y="62.8" font-size="6.2" text-anchor="end">axonogenesis</text>
<path d="M270.6 61.1h2.4" stroke="#333" stroke-width="0.5"/>
<text transform="translate(342.7 60.6) rotate(90)" font-size="5" text-anchor="middle" fill="#000">71</text>
<rect x="275.8" y="64.7" width="65.4" height="5.5" fill="#1f77b4"/>
<text x="269.6" y="69.2" font-size="6.2" text-anchor="end">Ras protein signal transduction</text>
<path d="M270.6 67.5h2.4" stroke="#333" stroke-width="0.5"/>
<text transform="translate(341.8 67) rotate(90)" font-size="5" text-anchor="middle" fill="#000">70</text>
<rect x="275.8" y="71.1" width="55" height="5.5" fill="#1f77b4"/>
<text x="269.6" y="75.6" font-size="6.2" text-anchor="end">regulation of developmental growth</text>
<path d="M270.6 73.8h2.4" stroke="#333" stroke-width="0.5"/>
<text transform="translate(331.4 73.3) rotate(90)" font-size="5" text-anchor="middle" fill="#000">60</text>
<rect x="275.8" y="77.5" width="48.4" height="5.5" fill="#1f77b4"/>
<text x="269.6" y="82" font-size="6.2" text-anchor="end">positive regulation of growth</text>
<path d="M270.6 80.2h2.4" stroke="#333" stroke-width="0.5"/>
<text transform="translate(324.8 79.7) rotate(90)" font-size="5" text-anchor="middle" fill="#000">52</text>
<rect x="275.8" y="83.9" width="41.3" height="5.5" fill="#1f77b4"/>
<text x="269.6" y="88.4" font-size="6.2" text-anchor="end">regulation of Ras protein signal transduction</text>
<path d="M270.6 86.6h2.4" stroke="#333" stroke-width="0.5"/>
<text transform="translate(317.7 86.1) rotate(90)" font-size="5" text-anchor="middle" fill="#000">44</text>
<rect x="275.8" y="90.3" width="40.2" height="5.5" fill="#1f77b4"/>
<text x="269.6" y="94.8" font-size="6.2" text-anchor="end">morphogenesis of a branching structure</text>
<path d="M270.6 93h2.4" stroke="#333" stroke-width="0.5"/>
<text transform="translate(316.6 92.5) rotate(90)" font-size="5" text-anchor="middle" fill="#000">43</text>
<rect x="275.8" y="96.7" width="38.4" height="5.5" fill="#1f77b4"/>
<text x="269.6" y="101.2" font-size="6.2" text-anchor="end">morphogenesis of a branching epithelium</text>
<path d="M270.6 99.4h2.4" stroke="#333" stroke-width="0.5"/>
<text transform="translate(314.8 98.9) rotate(90)" font-size="5" text-anchor="middle" fill="#000">41</text>
<rect x="275.8" y="103" width="55" height="5.5" fill="#ff7f0e"/>
<text x="269.6" y="107.5" font-size="6.2" text-anchor="end">nuclear speck</text>
<path d="M270.6 105.8h2.4" stroke="#333" stroke-width="0.5"/>
<text transform="translate(331.4 105.3) rotate(90)" font-size="5" text-anchor="middle" fill="#000">61</text>
<rect x="275.8" y="109.4" width="41.9" height="5.5" fill="#ff7f0e"/>
<text x="269.6" y="113.9" font-size="6.2" text-anchor="end">ribonucleoprotein granule</text>
<path d="M270.6 112.2h2.4" stroke="#333" stroke-width="0.5"/>
<text transform="translate(318.3 111.7) rotate(90)" font-size="5" text-anchor="middle" fill="#000">46</text>
<rect x="275.8" y="115.8" width="41.1" height="5.5" fill="#ff7f0e"/>
<text x="269.6" y="120.3" font-size="6.2" text-anchor="end">cytoplasmic ribonucleoprotein granule</text>
<path d="M270.6 118.6h2.4" stroke="#333" stroke-width="0.5"/>
<text transform="translate(317.5 118.1) rotate(90)" font-size="5" text-anchor="middle" fill="#000">45</text>
<rect x="275.8" y="122.2" width="34.6" height="5.5" fill="#ff7f0e"/>
<text x="269.6" y="126.7" font-size="6.2" text-anchor="end">adherens junction</text>
<path d="M270.6 125h2.4" stroke="#333" stroke-width="0.5"/>
<text transform="translate(311 124.5) rotate(90)" font-size="5" text-anchor="middle" fill="#000">38</text>
<rect x="275.8" y="128.6" width="20.9" height="5.5" fill="#ff7f0e"/>
<text x="269.6" y="133.1" font-size="6.2" text-anchor="end">cytoplasmic stress granule</text>
<path d="M270.6 131.4h2.4" stroke="#333" stroke-width="0.5"/>
<text transform="translate(297.3 130.9) rotate(90)" font-size="5" text-anchor="middle" fill="#000">22</text>
<rect x="275.8" y="135" width="68.3" height="5.5" fill="#2ca02c"/>
<text x="269.6" y="139.5" font-size="6.2" text-anchor="end">molecular adaptor activity</text>
<path d="M270.6 137.8h2.4" stroke="#333" stroke-width="0.5"/>
<text transform="translate(344.7 137.2) rotate(90)" font-size="5" text-anchor="middle" fill="#000">74</text>
<rect x="275.8" y="141.4" width="51" height="5.5" fill="#2ca02c"/>
<text x="269.6" y="145.9" font-size="6.2" text-anchor="end">protein-macromolecule adaptor activity</text>
<path d="M270.6 144.1h2.4" stroke="#333" stroke-width="0.5"/>
<text transform="translate(327.4 143.6) rotate(90)" font-size="5" text-anchor="middle" fill="#000">56</text>
<rect x="275.8" y="147.8" width="49" height="5.5" fill="#2ca02c"/>
<text x="269.6" y="152.3" font-size="6.2" text-anchor="end">ubiquitin-like protein ligase binding</text>
<path d="M270.6 150.5h2.4" stroke="#333" stroke-width="0.5"/>
<text transform="translate(325.4 150) rotate(90)" font-size="5" text-anchor="middle" fill="#000">53</text>
<rect x="275.8" y="154.2" width="48.1" height="5.5" fill="#2ca02c"/>
<text x="269.6" y="158.7" font-size="6.2" text-anchor="end">ubiquitin protein ligase binding</text>
<path d="M270.6 156.9h2.4" stroke="#333" stroke-width="0.5"/>
<text transform="translate(324.5 156.4) rotate(90)" font-size="5" text-anchor="middle" fill="#000">52</text>
<rect x="275.8" y="160.6" width="22" height="5.5" fill="#2ca02c"/>
<text x="269.6" y="165.1" font-size="6.2" text-anchor="end">SMAD binding</text>
<path d="M270.6 163.3h2.4" stroke="#333" stroke-width="0.5"/>
<text transform="translate(298.4 162.8) rotate(90)" font-size="5" text-anchor="middle" fill="#000">24</text>
<path d="M273 167.4V37.4H350.6" stroke="#333" stroke-width="0.7" fill="none"/>
<path d="M276.5 37.4v-1.6" stroke="#333" stroke-width="0.5"/>
<text transform="translate(274.4 23.4) rotate(90)" font-size="5.8" fill="#000">0.00</text>
<path d="M299.9 37.4v-1.6" stroke="#333" stroke-width="0.5"/>
<text transform="translate(297.8 23.4) rotate(90)" font-size="5.8" fill="#000">0.02</text>
<path d="M323.6 37.4v-1.6" stroke="#333" stroke-width="0.5"/>
<text transform="translate(321.5 23.4) rotate(90)" font-size="5.8" fill="#000">0.04</text>
<path d="M347.6 37.4v-1.6" stroke="#333" stroke-width="0.5"/>
<text transform="translate(345.5 23.4) rotate(90)" font-size="5.8" fill="#000">0.06</text>
<text x="313.2" y="20.6" font-size="6.15" text-anchor="middle">Gene Ratio</text>
<text x="171.5" y="174.2" font-size="6.1">Domain</text>
<rect x="184.6" y="177.6" width="2.4" height="2.4" fill="#1f77b4"/>
<text x="189.3" y="180.9" font-size="6.1">biological process</text>
<rect x="243.4" y="177.6" width="2.4" height="2.4" fill="#ff7f0e"/>
<text x="248.1" y="180.9" font-size="6.1">cellular component</text>
<rect x="303.6" y="177.6" width="2.4" height="2.4" fill="#2ca02c"/>
<text x="308.3" y="180.9" font-size="6.1">molecular function</text>
</g>
<g id="panelC">
<defs><linearGradient id="cg" x1="0" y1="0" x2="0" y2="1"><stop offset="0" stop-color="#1a1aff"/><stop offset="0.5" stop-color="#a414b4"/><stop offset="1" stop-color="#ff1414"/></linearGradient></defs>
<text x="454.9" y="41.4" font-size="6.17" text-anchor="end">MAPK signaling pathway</text>
<path d="M456.4 40.5h1.9" stroke="#333" stroke-width="0.5"/>
<circle cx="522.8" cy="40.7" r="1.8" fill="#1414ff"/>
<text x="453.1" y="54.2" font-size="6.17" text-anchor="end">MicroRNAs in cancer</text>
<path d="M456.4 53.3h1.9" stroke="#333" stroke-width="0.5"/>
<circle cx="516.6" cy="53.3" r="1.5" fill="#ac14ac"/>
<text x="454.9" y="66.9" font-size="6.17" text-anchor="end">PI3K-Akt signaling pathway</text>
<path d="M456.4 66h1.9" stroke="#333" stroke-width="0.5"/>
<circle cx="514.8" cy="65.9" r="1.8" fill="#ff1212"/>
<text x="454.9" y="79.7" font-size="6.17" text-anchor="end">Hippo signaling pathway</text>
<path d="M456.4 78.8h1.9" stroke="#333" stroke-width="0.5"/>
<circle cx="485" cy="78.6" r="1.2" fill="#e01c8c"/>
<text x="452.7" y="92.4" font-size="6.17" text-anchor="end">Axon guidance</text>
<path d="M456.4 91.5h1.9" stroke="#333" stroke-width="0.5"/>
<circle cx="485" cy="91.2" r="1.2" fill="#ff2218"/>
<text x="454.9" y="105.2" font-size="6.17" text-anchor="end">Hepatitis B</text>
<path d="M456.4 104.3h1.9" stroke="#333" stroke-width="0.5"/>
<circle cx="483.2" cy="104" r="1.2" fill="#ff183c"/>
<text x="454.9" y="118" font-size="6.17" text-anchor="end">Neurotrophin signaling pathway</text>
<path d="M456.4 117.1h1.9" stroke="#333" stroke-width="0.5"/>
<circle cx="480.1" cy="116.7" r="1.1" fill="#a41ee0"/>
<text x="454.9" y="130.7" font-size="6.17" text-anchor="end">TGF-beta signaling pathway</text>
<path d="M456.4 129.8h1.9" stroke="#333" stroke-width="0.5"/>
<circle cx="478.6" cy="129.3" r="1.1" fill="#5420f4"/>
<text x="454.9" y="143.5" font-size="6.17" text-anchor="end">Adherens junction</text>
<path d="M456.4 142.6h1.9" stroke="#333" stroke-width="0.5"/>
<circle cx="467.5" cy="141.9" r="0.9" fill="#ff2222"/>
<text x="454.9" y="156.2" font-size="6.17" text-anchor="end">Renal cell carcinoma</text>
<path d="M456.4 155.3h1.9" stroke="#333" stroke-width="0.5"/>
<circle cx="461.3" cy="154.7" r="0.8" fill="#ff3030"/>
<path d="M458.3 32.3V162.2H525.8" stroke="#333" stroke-width="0.7" fill="none"/>
<path d="M474.3 162.2v1.7" stroke="#333" stroke-width="0.5"/>
<text x="474.3" y="170.6" font-size="5.8" text-anchor="middle">0.04</text>
<path d="M495.3 162.2v1.7" stroke="#333" stroke-width="0.5"/>
<text x="495.3" y="170.6" font-size="5.8" text-anchor="middle">0.06</text>
<path d="M516.3 162.2v1.7" stroke="#333" stroke-width="0.5"/>
<text x="516.3" y="170.6" font-size="5.8" text-anchor="middle">0.08</text>
<text x="495.7" y="176.6" font-size="6.1" text-anchor="middle">Gene Ratio</text>
<text x="523.7" y="65.9" font-size="6.3">-log10P</text>
<rect x="529" y="67.9" width="2.7" height="28" fill="url(#cg)"/>
<text x="533.2" y="73.8" font-size="4.8">9</text>
<text x="533.2" y="80.5" font-size="4.8">8</text>
<text x="533.2" y="87" font-size="4.8">7</text>
<text x="533.2" y="93.9" font-size="4.8">6</text>
<circle cx="530.1" cy="113.7" r="0.7" fill="#000"/>
<text x="533.1" y="115.4" font-size="4.7">20</text>
<circle cx="530.1" cy="119.4" r="0.9" fill="#000"/>
<text x="533.1" y="121.1" font-size="4.7">30</text>
<circle cx="530.1" cy="125.1" r="1.1" fill="#000"/>
<text x="533.1" y="126.8" font-size="4.7">40</text>
<circle cx="530.1" cy="131.1" r="1.3" fill="#000"/>
<text x="533.1" y="132.8" font-size="4.7">50</text>
</g>
<g id="panelD">
<path d="M53.5 207.8A50 50 0 0 1 56 207.7L56 211.8A45.9 45.9 0 0 0 53.7 211.9Z" fill="#fde7ad"/>
<path d="M51.3 207.9A50 50 0 0 1 53.8 207.7L54 211.8A45.9 45.9 0 0 0 51.7 212Z" fill="#fde2a8"/>
<path d="M49.1 208.2A50 50 0 0 1 51.6 207.9L52 212A45.9 45.9 0 0 0 49.7 212.2Z" fill="#fddda3"/>
<path d="M47 208.5A50 50 0 0 1 49.5 208.1L50 212.2A45.9 45.9 0 0 0 47.7 212.6Z" fill="#fdd89e"/>
<path d="M44.8 209A50 50 0 0 1 47.3 208.5L48 212.5A45.9 45.9 0 0 0 45.8 213Z" fill="#fdd398"/>
<path d="M42.7 209.5A50 50 0 0 1 45.2 208.9L46.1 212.9A45.9 45.9 0 0 0 43.8 213.4Z" fill="#fdce93"/>
<path d="M40.6 210.1A50 50 0 0 1 43.1 209.4L44.1 213.4A45.9 45.9 0 0 0 41.9 214Z" fill="#fdc98e"/>
<path d="M38.6 210.8A50 50 0 0 1 41 210L42.2 213.9A45.9 45.9 0 0 0 40 214.7Z" fill="#fdc489"/>
<path d="M36.5 211.6A50 50 0 0 1 38.9 210.7L40.3 214.6A45.9 45.9 0 0 0 38.1 215.4Z" fill="#fdbe84"/>
<path d="M34.6 212.5A50 50 0 0 1 36.9 211.5L38.4 215.3A45.9 45.9 0 0 0 36.3 216.2Z" fill="#fcb880"/>
<path d="M32.6 213.5A50 50 0 0 1 34.9 212.4L36.6 216.1A45.9 45.9 0 0 0 34.5 217.1Z" fill="#fcb27b"/>
<path d="M30.7 214.6A50 50 0 0 1 32.9 213.3L34.8 217A45.9 45.9 0 0 0 32.8 218.1Z" fill="#fcac77"/>
<path d="M28.8 215.7A50 50 0 0 1 31 214.4L33 217.9A45.9 45.9 0 0 0 31.1 219.2Z" fill="#fca672"/>
<path d="M27 216.9A50 50 0 0 1 29.1 215.5L31.3 219A45.9 45.9 0 0 0 29.4 220.3Z" fill="#fba06e"/>
<path d="M25.3 218.2A50 50 0 0 1 27.3 216.7L29.7 220.1A45.9 45.9 0 0 0 27.8 221.5Z" fill="#fb996a"/>
<path d="M23.6 219.6A50 50 0 0 1 25.6 218L28.1 221.3A45.9 45.9 0 0 0 26.3 222.7Z" fill="#fa9368"/>
<path d="M22 221.1A50 50 0 0 1 23.9 219.4L26.5 222.5A45.9 45.9 0 0 0 24.8 224.1Z" fill="#f98c66"/>
<path d="M20.4 222.6A50 50 0 0 1 22.2 220.8L25 223.9A45.9 45.9 0 0 0 23.3 225.5Z" fill="#f88564"/>
<path d="M18.9 224.2A50 50 0 0 1 20.6 222.3L23.5 225.2A45.9 45.9 0 0 0 21.9 226.9Z" fill="#f77e62"/>
<path d="M17.5 225.8A50 50 0 0 1 19.1 223.9L22.2 226.7A45.9 45.9 0 0 0 20.6 228.4Z" fill="#f67760"/>
<path d="M16.1 227.5A50 50 0 0 1 17.7 225.6L20.8 228.2A45.9 45.9 0 0 0 19.4 230Z" fill="#f5705e"/>
<path d="M14.8 229.3A50 50 0 0 1 16.3 227.3L19.6 229.8A45.9 45.9 0 0 0 18.2 231.6Z" fill="#f46a5c"/>
<path d="M13.6 231.1A50 50 0 0 1 15 229L18.4 231.4A45.9 45.9 0 0 0 17.1 233.3Z" fill="#f2645e"/>
<path d="M12.5 233A50 50 0 0 1 13.8 230.8L17.3 233A45.9 45.9 0 0 0 16.1 235Z" fill="#f15f60"/>
<path d="M11.5 234.9A50 50 0 0 1 12.7 232.7L16.2 234.8A45.9 45.9 0 0 0 15.1 236.8Z" fill="#ef5962"/>
<path d="M10.5 236.9A50 50 0 0 1 11.6 234.6L15.3 236.5A45.9 45.9 0 0 0 14.3 238.6Z" fill="#ee5464"/>
<path d="M9.7 238.9A50 50 0 0 1 10.7 236.6L14.4 238.3A45.9 45.9 0 0 0 13.5 240.4Z" fill="#ec4e66"/>
<path d="M8.9 240.9A50 50 0 0 1 9.8 238.6L13.6 240.1A45.9 45.9 0 0 0 12.8 242.3Z" fill="#ea4967"/>
<path d="M8.2 243A50 50 0 0 1 9 240.6L12.9 242A45.9 45.9 0 0 0 12.1 244.2Z" fill="#e84469"/>
<path d="M7.6 245.1A50 50 0 0 1 8.3 242.7L12.2 243.9A45.9 45.9 0 0 0 11.6 246.1Z" fill="#e6406c"/>
<path d="M7.1 247.2A50 50 0 0 1 7.7 244.8L11.7 245.8A45.9 45.9 0 0 0 11.1 248.1Z" fill="#e23e70"/>
<path d="M6.7 249.4A50 50 0 0 1 7.2 246.9L11.2 247.8A45.9 45.9 0 0 0 10.7 250Z" fill="#df3b73"/>
<path d="M6.4 251.5A50 50 0 0 1 6.8 249L10.8 249.7A45.9 45.9 0 0 0 10.5 252Z" fill="#db3876"/>
<path d="M6.2 253.7A50 50 0 0 1 6.4 251.2L10.5 251.7A45.9 45.9 0 0 0 10.2 254Z" fill="#d8367a"/>
<path d="M6 255.9A50 50 0 0 1 6.2 253.3L10.3 253.7A45.9 45.9 0 0 0 10.1 256Z" fill="#d4337d"/>
<path d="M6 258A50 50 0 0 1 6 255.5L10.1 255.7A45.9 45.9 0 0 0 10.1 258Z" fill="#d13080"/>
<path d="M6.1 260.2A50 50 0 0 1 6 257.7L10.1 257.7A45.9 45.9 0 0 0 10.2 260Z" fill="#cc2e83"/>
<path d="M6.2 262.4A50 50 0 0 1 6 259.9L10.1 259.7A45.9 45.9 0 0 0 10.3 262Z" fill="#c72d86"/>
<path d="M6.5 264.6A50 50 0 0 1 6.2 262.1L10.3 261.7A45.9 45.9 0 0 0 10.5 264Z" fill="#c12b89"/>
<path d="M6.8 266.7A50 50 0 0 1 6.4 264.2L10.5 263.7A45.9 45.9 0 0 0 10.9 266Z" fill="#bc2a8c"/>
<path d="M7.3 268.9A50 50 0 0 1 6.8 266.4L10.8 265.7A45.9 45.9 0 0 0 11.3 267.9Z" fill="#b7288f"/>
<path d="M7.8 271A50 50 0 0 1 7.2 268.5L11.2 267.6A45.9 45.9 0 0 0 11.7 269.9Z" fill="#b12792"/>
<path d="M8.4 273.1A50 50 0 0 1 7.7 270.6L11.7 269.6A45.9 45.9 0 0 0 12.3 271.8Z" fill="#ac2595"/>
<path d="M9.1 275.1A50 50 0 0 1 8.3 272.7L12.2 271.5A45.9 45.9 0 0 0 13 273.7Z" fill="#a62497"/>
<path d="M9.9 277.2A50 50 0 0 1 9 274.8L12.9 273.4A45.9 45.9 0 0 0 13.7 275.6Z" fill="#a02398"/>
<path d="M10.8 279.1A50 50 0 0 1 9.8 276.8L13.6 275.3A45.9 45.9 0 0 0 14.5 277.4Z" fill="#992298"/>
<path d="M11.8 281.1A50 50 0 0 1 10.7 278.8L14.4 277.1A45.9 45.9 0 0 0 15.4 279.2Z" fill="#932198"/>
<path d="M12.9 283A50 50 0 0 1 11.6 280.8L15.3 278.9A45.9 45.9 0 0 0 16.4 280.9Z" fill="#8d2099"/>
<path d="M14 284.9A50 50 0 0 1 12.7 282.7L16.2 280.7A45.9 45.9 0 0 0 17.5 282.6Z" fill="#862099"/>
<path d="M15.2 286.7A50 50 0 0 1 13.8 284.6L17.3 282.4A45.9 45.9 0 0 0 18.6 284.3Z" fill="#801f9a"/>
<path d="M16.5 288.4A50 50 0 0 1 15 286.4L18.4 284A45.9 45.9 0 0 0 19.8 285.9Z" fill="#791e9a"/>
<path d="M17.9 290.1A50 50 0 0 1 16.3 288.1L19.6 285.6A45.9 45.9 0 0 0 21 287.4Z" fill="#731c98"/>
<path d="M19.4 291.7A50 50 0 0 1 17.7 289.8L20.8 287.2A45.9 45.9 0 0 0 22.4 288.9Z" fill="#6c1b96"/>
<path d="M20.9 293.3A50 50 0 0 1 19.1 291.5L22.2 288.7A45.9 45.9 0 0 0 23.8 290.4Z" fill="#651a94"/>
<path d="M22.5 294.8A50 50 0 0 1 20.6 293.1L23.5 290.2A45.9 45.9 0 0 0 25.2 291.8Z" fill="#5f1892"/>
<path d="M24.1 296.2A50 50 0 0 1 22.2 294.6L25 291.5A45.9 45.9 0 0 0 26.7 293.1Z" fill="#581790"/>
<path d="M25.8 297.6A50 50 0 0 1 23.9 296L26.5 292.9A45.9 45.9 0 0 0 28.3 294.3Z" fill="#51168e"/>
<path d="M27.6 298.9A50 50 0 0 1 25.6 297.4L28.1 294.1A45.9 45.9 0 0 0 29.9 295.5Z" fill="#4b148c"/>
<path d="M29.4 300.1A50 50 0 0 1 27.3 298.7L29.7 295.3A45.9 45.9 0 0 0 31.6 296.6Z" fill="#441384"/>
<path d="M31.3 301.2A50 50 0 0 1 29.1 299.9L31.3 296.4A45.9 45.9 0 0 0 33.3 297.6Z" fill="#3e127c"/>
<path d="M33.2 302.2A50 50 0 0 1 31 301L33 297.5A45.9 45.9 0 0 0 35.1 298.6Z" fill="#381174"/>
<path d="M35.2 303.2A50 50 0 0 1 32.9 302.1L34.8 298.4A45.9 45.9 0 0 0 36.9 299.4Z" fill="#32106c"/>
<path d="M37.2 304A50 50 0 0 1 34.9 303L36.6 299.3A45.9 45.9 0 0 0 38.7 300.2Z" fill="#2c0f63"/>
<path d="M39.2 304.8A50 50 0 0 1 36.9 303.9L38.4 300.1A45.9 45.9 0 0 0 40.6 300.9Z" fill="#260d5b"/>
<path d="M41.3 305.5A50 50 0 0 1 38.9 304.7L40.3 300.8A45.9 45.9 0 0 0 42.5 301.6Z" fill="#200c52"/>
<path d="M43.4 306.1A50 50 0 0 1 41 305.4L42.2 301.5A45.9 45.9 0 0 0 44.4 302.1Z" fill="#1b0b49"/>
<path d="M45.5 306.6A50 50 0 0 1 43.1 306L44.1 302A45.9 45.9 0 0 0 46.4 302.6Z" fill="#17093e"/>
<path d="M47.7 307A50 50 0 0 1 45.2 306.5L46.1 302.5A45.9 45.9 0 0 0 48.3 303Z" fill="#130834"/>
<path d="M49.8 307.3A50 50 0 0 1 47.3 306.9L48 302.9A45.9 45.9 0 0 0 50.3 303.2Z" fill="#0f0629"/>
<path d="M52 307.5A50 50 0 0 1 49.5 307.3L50 303.2A45.9 45.9 0 0 0 52.3 303.5Z" fill="#0a041e"/>
<path d="M54.2 307.7A50 50 0 0 1 51.6 307.5L52 303.4A45.9 45.9 0 0 0 54.3 303.6Z" fill="#060314"/>
<path d="M56 307.7A50 50 0 0 1 53.8 307.7L54 303.6A45.9 45.9 0 0 0 56 303.6Z" fill="#020109"/>
<path d="M56.4 207.7A50 50 0 0 1 94.3 225.6L92.8 226.8A48 48 0 0 0 56.4 209.7Z" fill="#0b4a97"/>
<path d="M56.4 210.5A47.2 47.2 0 0 1 92.2 227.4L91.1 228.3A45.8 45.8 0 0 0 56.4 211.9Z" fill="#fef0d9"/>
<path d="M94.6 225.9A50 50 0 0 1 105.6 264.2L103.6 264A48 48 0 0 0 93 227.2Z" fill="#9d5c20"/>
<path d="M92.4 227.7A47.2 47.2 0 0 1 102.8 263.9L101.4 263.7A45.8 45.8 0 0 0 91.3 228.6Z" fill="#fef0d9"/>
<path d="M105.5 264.7A50 50 0 0 1 100.6 280.4L98.8 279.5A48 48 0 0 0 103.5 264.4Z" fill="#1c9cbb"/>
<path d="M102.7 264.3A47.2 47.2 0 0 1 98.1 279.1L96.8 278.5A45.8 45.8 0 0 0 101.4 264.1Z" fill="#fde3b8"/>
<path d="M100.4 280.8A50 50 0 0 1 73.1 304.7L72.4 302.8A48 48 0 0 0 98.6 279.9Z" fill="#d58fa0"/>
<path d="M97.9 279.5A47.2 47.2 0 0 1 72.1 302.1L71.7 300.7A45.8 45.8 0 0 0 96.6 278.8Z" fill="#fef0d9"/>
<path d="M72.7 304.8A50 50 0 0 1 59.5 307.6L59.3 305.6A48 48 0 0 0 72 302.9Z" fill="#b4002c"/>
<path d="M71.8 302.2A47.2 47.2 0 0 1 59.3 304.8L59.2 303.4A45.8 45.8 0 0 0 71.3 300.9Z" fill="#fdd38f"/>
<path d="M59.1 307.6A50 50 0 0 1 56 307.7L56 305.7A48 48 0 0 0 58.9 305.6Z" fill="#a9f6fb"/>
<path d="M58.9 304.8A47.2 47.2 0 0 1 56 304.9L56 303.5A45.8 45.8 0 0 0 58.8 303.4Z" fill="#fdc98a"/>
<path d="M56.2 212.3A45.4 45.4 0 0 1 86.4 224Q56 257.7 24.6 290.5A45.4 45.4 0 0 0 56 303.1Q56 257.7 56.2 212.3Z" fill="#0b4a97"/>
<path d="M90.9 228.7A45.4 45.4 0 0 1 101.4 257.7Q56 257.7 10.9 262.6A45.4 45.4 0 0 0 24.5 290.4Q56 257.7 90.9 228.7Z" fill="#9d5c20"/>
<path d="M101 263.8A45.4 45.4 0 0 1 98.5 273.6Q56 257.7 10.9 252.4A45.4 45.4 0 0 0 10.8 262.4Q56 257.7 101 263.8Z" fill="#1c9cbb"/>
<path d="M96.4 278.5A45.4 45.4 0 0 1 80.1 296.2Q56 257.7 20.1 229.9A45.4 45.4 0 0 0 10.9 252.2Q56 257.7 96.4 278.5Z" fill="#d58fa0"/>
<path d="M71.3 300.4A45.4 45.4 0 0 1 64.7 302.3Q56 257.7 24.9 224.6A45.4 45.4 0 0 0 20.2 229.7Q56 257.7 71.3 300.4Z" fill="#b4002c"/>
<path d="M59 303A45.4 45.4 0 0 1 56.3 303.1Q56 257.7 26.7 223A45.4 45.4 0 0 0 24.9 224.6Q56 257.7 59 303Z" fill="#a9f6fb"/>
<path d="M60.1 302.9A45.4 45.4 0 0 1 59.2 303Q56 257.7 56 212.3A45.4 45.4 0 0 0 55.5 212.3Q56 257.7 60.1 302.9Z" fill="#b4002c"/>
<path d="M72.4 300A45.4 45.4 0 0 1 71.5 300.4Q56 257.7 55.6 212.3A45.4 45.4 0 0 0 55.1 212.3Q56 257.7 72.4 300Z" fill="#d58fa0"/>
<path d="M101.1 262.7A45.4 45.4 0 0 1 101 263.6Q56 257.7 55.2 212.3A45.4 45.4 0 0 0 54.7 212.3Q56 257.7 101.1 262.7Z" fill="#9d5c20"/>
<path d="M101.2 262.2A45.4 45.4 0 0 1 101.1 263.2Q56 257.7 54.8 212.3A45.4 45.4 0 0 0 54.3 212.3Q56 257.7 101.2 262.2Z" fill="#9d5c20"/>
<path d="M72.8 299.9A45.4 45.4 0 0 1 71.9 300.2Q56 257.7 54.4 212.3A45.4 45.4 0 0 0 53.9 212.4Q56 257.7 72.8 299.9Z" fill="#d58fa0"/>
<path d="M90.1 227.8A45.4 45.4 0 0 1 90.8 228.5Q56 257.7 54 212.3A45.4 45.4 0 0 0 53.5 212.4Q56 257.7 90.1 227.8Z" fill="#0b4a97"/>
<path d="M96.9 277.4A45.4 45.4 0 0 1 96.5 278.3Q56 257.7 53.6 212.4A45.4 45.4 0 0 0 53 212.4Q56 257.7 96.9 277.4Z" fill="#1c9cbb"/>
<path d="M101.2 261.8A45.4 45.4 0 0 1 101.1 262.8Q56 257.7 53.1 212.4A45.4 45.4 0 0 0 52.6 212.4Q56 257.7 101.2 261.8Z" fill="#9d5c20"/>
<path d="M73.2 299.7A45.4 45.4 0 0 1 72.3 300.1Q56 257.7 52.7 212.4A45.4 45.4 0 0 0 52.2 212.5Q56 257.7 73.2 299.7Z" fill="#d58fa0"/>
<path d="M73.6 299.6A45.4 45.4 0 0 1 72.7 299.9Q56 257.7 52.3 212.4A45.4 45.4 0 0 0 51.8 212.5Q56 257.7 73.6 299.6Z" fill="#d58fa0"/>
<path d="M60.6 302.9A45.4 45.4 0 0 1 59.6 303Q56 257.7 51.9 212.5A45.4 45.4 0 0 0 51.4 212.5Q56 257.7 60.6 302.9Z" fill="#b4002c"/>
<path d="M89.9 227.5A45.4 45.4 0 0 1 90.5 228.2Q56 257.7 51.5 212.5A45.4 45.4 0 0 0 51 212.6Q56 257.7 89.9 227.5Z" fill="#0b4a97"/>
<path d="M73.9 299.4A45.4 45.4 0 0 1 73.1 299.8Q56 257.7 51.1 212.6A45.4 45.4 0 0 0 50.6 212.6Q56 257.7 73.9 299.4Z" fill="#d58fa0"/>
<path d="M97.1 277A45.4 45.4 0 0 1 96.6 277.9Q56 257.7 50.7 212.6A45.4 45.4 0 0 0 50.2 212.7Q56 257.7 97.1 277Z" fill="#1c9cbb"/>
<path d="M61 302.8A45.4 45.4 0 0 1 60 302.9Q56 257.7 50.3 212.7A45.4 45.4 0 0 0 49.8 212.7Q56 257.7 61 302.8Z" fill="#b4002c"/>
<path d="M101.2 261.4A45.4 45.4 0 0 1 101.2 262.4Q56 257.7 49.9 212.7A45.4 45.4 0 0 0 49.4 212.8Q56 257.7 101.2 261.4Z" fill="#9d5c20"/>
<path d="M97.3 276.7A45.4 45.4 0 0 1 96.8 277.5Q56 257.7 49.5 212.8A45.4 45.4 0 0 0 49 212.8Q56 257.7 97.3 276.7Z" fill="#1c9cbb"/>
<path d="M89.6 227.1A45.4 45.4 0 0 1 90.2 227.9Q56 257.7 49.1 212.8A45.4 45.4 0 0 0 48.6 212.9Q56 257.7 89.6 227.1Z" fill="#0b4a97"/>
<path d="M101.3 261A45.4 45.4 0 0 1 101.2 261.9Q56 257.7 48.7 212.9A45.4 45.4 0 0 0 48.2 213Q56 257.7 101.3 261Z" fill="#9d5c20"/>
<path d="M89.3 226.8A45.4 45.4 0 0 1 90 227.6Q56 257.7 48.3 213A45.4 45.4 0 0 0 47.8 213Q56 257.7 89.3 226.8Z" fill="#0b4a97"/>
<path d="M74.3 299.2A45.4 45.4 0 0 1 73.5 299.6Q56 257.7 47.9 213A45.4 45.4 0 0 0 47.4 213.1Q56 257.7 74.3 299.2Z" fill="#d58fa0"/>
<path d="M74.7 299.1A45.4 45.4 0 0 1 73.8 299.5Q56 257.7 47.5 213.1A45.4 45.4 0 0 0 47 213.2Q56 257.7 74.7 299.1Z" fill="#d58fa0"/>
<path d="M97.4 276.3A45.4 45.4 0 0 1 97 277.2Q56 257.7 47.1 213.2A45.4 45.4 0 0 0 46.6 213.3Q56 257.7 97.4 276.3Z" fill="#1c9cbb"/>
<path d="M101.3 260.5A45.4 45.4 0 0 1 101.2 261.5Q56 257.7 46.7 213.3A45.4 45.4 0 0 0 46.2 213.4Q56 257.7 101.3 260.5Z" fill="#9d5c20"/>
<path d="M89 226.5A45.4 45.4 0 0 1 89.7 227.2Q56 257.7 46.3 213.3A45.4 45.4 0 0 0 45.8 213.5Q56 257.7 89 226.5Z" fill="#0b4a97"/>
<path d="M88.7 226.2A45.4 45.4 0 0 1 89.4 226.9Q56 257.7 45.9 213.4A45.4 45.4 0 0 0 45.4 213.5Q56 257.7 88.7 226.2Z" fill="#0b4a97"/>
<path d="M97.6 275.9A45.4 45.4 0 0 1 97.2 276.8Q56 257.7 45.5 213.5A45.4 45.4 0 0 0 45 213.6Q56 257.7 97.6 275.9Z" fill="#1c9cbb"/>
<path d="M75.1 298.9A45.4 45.4 0 0 1 74.2 299.3Q56 257.7 45.1 213.6A45.4 45.4 0 0 0 44.6 213.7Q56 257.7 75.1 298.9Z" fill="#d58fa0"/>
<path d="M75.5 298.7A45.4 45.4 0 0 1 74.6 299.1Q56 257.7 44.7 213.7A45.4 45.4 0 0 0 44.2 213.8Q56 257.7 75.5 298.7Z" fill="#d58fa0"/>
<path d="M101.3 260.1A45.4 45.4 0 0 1 101.3 261.1Q56 257.7 44.3 213.8A45.4 45.4 0 0 0 43.8 214Q56 257.7 101.3 260.1Z" fill="#9d5c20"/>
<path d="M75.8 298.5A45.4 45.4 0 0 1 75 298.9Q56 257.7 43.9 213.9A45.4 45.4 0 0 0 43.5 214.1Q56 257.7 75.8 298.5Z" fill="#d58fa0"/>
<path d="M97.8 275.5A45.4 45.4 0 0 1 97.4 276.4Q56 257.7 43.6 214A45.4 45.4 0 0 0 43.1 214.2Q56 257.7 97.8 275.5Z" fill="#1c9cbb"/>
<path d="M61.4 302.8A45.4 45.4 0 0 1 60.4 302.9Q56 257.7 43.2 214.2A45.4 45.4 0 0 0 42.7 214.3Q56 257.7 61.4 302.8Z" fill="#b4002c"/>
<path d="M88.4 225.9A45.4 45.4 0 0 1 89.1 226.6Q56 257.7 42.8 214.3A45.4 45.4 0 0 0 42.3 214.4Q56 257.7 88.4 225.9Z" fill="#0b4a97"/>
<path d="M76.2 298.4A45.4 45.4 0 0 1 75.3 298.8Q56 257.7 42.4 214.4A45.4 45.4 0 0 0 41.9 214.5Q56 257.7 76.2 298.4Z" fill="#d58fa0"/>
<path d="M76.6 298.2A45.4 45.4 0 0 1 75.7 298.6Q56 257.7 42 214.5A45.4 45.4 0 0 0 41.5 214.7Q56 257.7 76.6 298.2Z" fill="#d58fa0"/>
<path d="M76.9 298A45.4 45.4 0 0 1 76.1 298.4Q56 257.7 41.6 214.6A45.4 45.4 0 0 0 41.1 214.8Q56 257.7 76.9 298Z" fill="#d58fa0"/>
<path d="M101.4 259.7A45.4 45.4 0 0 1 101.3 260.7Q56 257.7 41.2 214.8A45.4 45.4 0 0 0 40.8 214.9Q56 257.7 101.4 259.7Z" fill="#9d5c20"/>
<path d="M97.9 275.1A45.4 45.4 0 0 1 97.6 276Q56 257.7 40.8 214.9A45.4 45.4 0 0 0 40.4 215.1Q56 257.7 97.9 275.1Z" fill="#1c9cbb"/>
<path d="M88.1 225.6A45.4 45.4 0 0 1 88.8 226.3Q56 257.7 40.5 215A45.4 45.4 0 0 0 40 215.2Q56 257.7 88.1 225.6Z" fill="#0b4a97"/>
<path d="M61.8 302.7A45.4 45.4 0 0 1 60.9 302.8Q56 257.7 40.1 215.2A45.4 45.4 0 0 0 39.6 215.4Q56 257.7 61.8 302.7Z" fill="#b4002c"/>
<path d="M101.4 259.3A45.4 45.4 0 0 1 101.3 260.2Q56 257.7 39.7 215.3A45.4 45.4 0 0 0 39.2 215.5Q56 257.7 101.4 259.3Z" fill="#9d5c20"/>
<path d="M62.3 302.7A45.4 45.4 0 0 1 61.3 302.8Q56 257.7 39.3 215.5A45.4 45.4 0 0 0 38.9 215.7Q56 257.7 62.3 302.7Z" fill="#b4002c"/>
<path d="M62.7 302.6A45.4 45.4 0 0 1 61.7 302.7Q56 257.7 38.9 215.6A45.4 45.4 0 0 0 38.5 215.8Q56 257.7 62.7 302.6Z" fill="#b4002c"/>
<path d="M87.8 225.3A45.4 45.4 0 0 1 88.5 226Q56 257.7 38.6 215.8A45.4 45.4 0 0 0 38.1 216Q56 257.7 87.8 225.3Z" fill="#0b4a97"/>
<path d="M87.5 225A45.4 45.4 0 0 1 88.2 225.7Q56 257.7 38.2 215.9A45.4 45.4 0 0 0 37.7 216.1Q56 257.7 87.5 225Z" fill="#0b4a97"/>
<path d="M98.1 274.7A45.4 45.4 0 0 1 97.7 275.6Q56 257.7 37.8 216.1A45.4 45.4 0 0 0 37.4 216.3Q56 257.7 98.1 274.7Z" fill="#1c9cbb"/>
<path d="M87.2 224.7A45.4 45.4 0 0 1 87.9 225.4Q56 257.7 37.5 216.3A45.4 45.4 0 0 0 37 216.5Q56 257.7 87.2 224.7Z" fill="#0b4a97"/>
<path d="M77.3 297.8A45.4 45.4 0 0 1 76.5 298.2Q56 257.7 37.1 216.4A45.4 45.4 0 0 0 36.6 216.6Q56 257.7 77.3 297.8Z" fill="#d58fa0"/>
<path d="M86.9 224.4A45.4 45.4 0 0 1 87.6 225.1Q56 257.7 36.7 216.6A45.4 45.4 0 0 0 36.3 216.8Q56 257.7 86.9 224.4Z" fill="#0b4a97"/>
<path d="M77.7 297.6A45.4 45.4 0 0 1 76.8 298Q56 257.7 36.3 216.8A45.4 45.4 0 0 0 35.9 217Q56 257.7 77.7 297.6Z" fill="#d58fa0"/>
<path d="M98.3 274.3A45.4 45.4 0 0 1 97.9 275.2Q56 257.7 36 217A45.4 45.4 0 0 0 35.5 217.2Q56 257.7 98.3 274.3Z" fill="#1c9cbb"/>
<path d="M78 297.4A45.4 45.4 0 0 1 77.2 297.9Q56 257.7 35.6 217.1A45.4 45.4 0 0 0 35.2 217.4Q56 257.7 78 297.4Z" fill="#d58fa0"/>
<path d="M78.4 297.2A45.4 45.4 0 0 1 77.6 297.7Q56 257.7 35.3 217.3A45.4 45.4 0 0 0 34.8 217.6Q56 257.7 78.4 297.2Z" fill="#d58fa0"/>
<path d="M101.4 258.8A45.4 45.4 0 0 1 101.4 259.8Q56 257.7 34.9 217.5A45.4 45.4 0 0 0 34.4 217.7Q56 257.7 101.4 258.8Z" fill="#9d5c20"/>
<path d="M101.4 258.4A45.4 45.4 0 0 1 101.4 259.4Q56 257.7 34.5 217.7A45.4 45.4 0 0 0 34.1 217.9Q56 257.7 101.4 258.4Z" fill="#9d5c20"/>
<path d="M63.1 302.5A45.4 45.4 0 0 1 62.1 302.7Q56 257.7 34.2 217.9A45.4 45.4 0 0 0 33.7 218.1Q56 257.7 63.1 302.5Z" fill="#b4002c"/>
<path d="M86.6 224.2A45.4 45.4 0 0 1 87.3 224.8Q56 257.7 33.8 218.1A45.4 45.4 0 0 0 33.4 218.3Q56 257.7 86.6 224.2Z" fill="#0b4a97"/>
<path d="M98.4 273.9A45.4 45.4 0 0 1 98.1 274.8Q56 257.7 33.5 218.3A45.4 45.4 0 0 0 33 218.5Q56 257.7 98.4 273.9Z" fill="#1c9cbb"/>
<path d="M78.7 297A45.4 45.4 0 0 1 77.9 297.5Q56 257.7 33.1 218.5A45.4 45.4 0 0 0 32.7 218.7Q56 257.7 78.7 297Z" fill="#d58fa0"/>
<path d="M79.1 296.8A45.4 45.4 0 0 1 78.3 297.3Q56 257.7 32.8 218.7A45.4 45.4 0 0 0 32.3 219Q56 257.7 79.1 296.8Z" fill="#d58fa0"/>
<path d="M79.5 296.6A45.4 45.4 0 0 1 78.6 297.1Q56 257.7 32.4 218.9A45.4 45.4 0 0 0 32 219.2Q56 257.7 79.5 296.6Z" fill="#d58fa0"/>
<path d="M98.5 273.7A45.4 45.4 0 0 1 98.2 274.4Q56 257.7 32.1 219.1A45.4 45.4 0 0 0 31.6 219.4Q56 257.7 98.5 273.7Z" fill="#1c9cbb"/>
<path d="M86.4 224A45.4 45.4 0 0 1 87 224.5Q56 257.7 31.7 219.3A45.4 45.4 0 0 0 31.3 219.6Q56 257.7 86.4 224Z" fill="#0b4a97"/>
<path d="M101.4 258A45.4 45.4 0 0 1 101.4 259Q56 257.7 31.4 219.6A45.4 45.4 0 0 0 31 219.8Q56 257.7 101.4 258Z" fill="#9d5c20"/>
<path d="M98.5 273.7A45.4 45.4 0 0 1 98.4 274Q56 257.7 31 219.8A45.4 45.4 0 0 0 30.6 220.1Q56 257.7 98.5 273.7Z" fill="#1c9cbb"/>
<path d="M63.5 302.5A45.4 45.4 0 0 1 62.6 302.6Q56 257.7 30.7 220A45.4 45.4 0 0 0 30.3 220.3Q56 257.7 63.5 302.5Z" fill="#b4002c"/>
<path d="M86.4 224A45.4 45.4 0 0 1 86.7 224.2Q56 257.7 30.4 220.2A45.4 45.4 0 0 0 30 220.5Q56 257.7 86.4 224Z" fill="#0b4a97"/>
<path d="M63.9 302.4A45.4 45.4 0 0 1 63 302.6Q56 257.7 30 220.5A45.4 45.4 0 0 0 29.6 220.7Q56 257.7 63.9 302.4Z" fill="#b4002c"/>
<path d="M79.8 296.4A45.4 45.4 0 0 1 79 296.8Q56 257.7 29.7 220.7A45.4 45.4 0 0 0 29.3 221Q56 257.7 79.8 296.4Z" fill="#d58fa0"/>
<path d="M64.4 302.3A45.4 45.4 0 0 1 63.4 302.5Q56 257.7 29.4 220.9A45.4 45.4 0 0 0 29 221.2Q56 257.7 64.4 302.3Z" fill="#b4002c"/>
<path d="M101.4 257.8A45.4 45.4 0 0 1 101.4 258.5Q56 257.7 29 221.2A45.4 45.4 0 0 0 28.6 221.5Q56 257.7 101.4 257.8Z" fill="#9d5c20"/>
<path d="M101.4 257.8A45.4 45.4 0 0 1 101.4 258.1Q56 257.7 28.7 221.4A45.4 45.4 0 0 0 28.3 221.7Q56 257.7 101.4 257.8Z" fill="#9d5c20"/>
<path d="M64.6 302.3A45.4 45.4 0 0 1 63.8 302.4Q56 257.7 28.4 221.7A45.4 45.4 0 0 0 28 222Q56 257.7 64.6 302.3Z" fill="#b4002c"/>
<path d="M56.2 303.1A45.4 45.4 0 0 1 56 303.1Q56 257.7 28.1 221.9A45.4 45.4 0 0 0 27.7 222.2Q56 257.7 56.2 303.1Z" fill="#a9f6fb"/>
<path d="M80 296.2A45.4 45.4 0 0 1 79.4 296.6Q56 257.7 27.8 222.2A45.4 45.4 0 0 0 27.4 222.5Q56 257.7 80 296.2Z" fill="#d58fa0"/>
<path d="M64.6 302.3A45.4 45.4 0 0 1 64.2 302.3Q56 257.7 27.4 222.4A45.4 45.4 0 0 0 27 222.7Q56 257.7 64.6 302.3Z" fill="#b4002c"/>
<path d="M80 296.2A45.4 45.4 0 0 1 79.7 296.4Q56 257.7 27.1 222.7A45.4 45.4 0 0 0 26.7 223Q56 257.7 80 296.2Z" fill="#d58fa0"/>
<rect x="110.2" y="214.4" width="3.2" height="9" fill="#fff4e5"/>
<rect x="113.1" y="214.4" width="3.2" height="9" fill="#feefd8"/>
<rect x="116" y="214.4" width="3.2" height="9" fill="#fee9cb"/>
<rect x="118.9" y="214.4" width="3.2" height="9" fill="#fee3bd"/>
<rect x="121.8" y="214.4" width="3.2" height="9" fill="#fddbad"/>
<rect x="124.7" y="214.4" width="3.2" height="9" fill="#fdd49e"/>
<rect x="127.6" y="214.4" width="3.2" height="9" fill="#fdcb94"/>
<rect x="130.5" y="214.4" width="3.2" height="9" fill="#fdc18a"/>
<rect x="133.4" y="214.4" width="3.2" height="9" fill="#fdb67f"/>
<rect x="136.3" y="214.4" width="3.2" height="9" fill="#fda570"/>
<rect x="139.2" y="214.4" width="3.2" height="9" fill="#fc9461"/>
<rect x="142.2" y="214.4" width="3.2" height="9" fill="#fa8556"/>
<rect x="145.1" y="214.4" width="3.2" height="9" fill="#f5764f"/>
<rect x="148" y="214.4" width="3.2" height="9" fill="#f06849"/>
<rect x="150.9" y="214.4" width="3.2" height="9" fill="#e8563c"/>
<rect x="153.8" y="214.4" width="3.2" height="9" fill="#df422d"/>
<rect x="156.7" y="214.4" width="3.2" height="9" fill="#d62f1e"/>
<rect x="159.6" y="214.4" width="3.2" height="9" fill="#c91e13"/>
<rect x="162.5" y="214.4" width="3.2" height="9" fill="#bc0d08"/>
<rect x="165.4" y="214.4" width="3.2" height="9" fill="#ad0000"/>
<rect x="168.3" y="214.4" width="3.2" height="9" fill="#9b0000"/>
<rect x="171.2" y="214.4" width="2.9" height="9" fill="#880000"/>
<path d="M110.2 224.4H174.1M110.6 224v2.3M120.1 224v2.3M129.8 224v2.3M139.3 224v2.3M149.1 224v2.3M158.6 224v2.3M168.4 224v2.3M173.8 224v2.3" stroke="#444" stroke-width="0.6" fill="none"/>
<text x="120" y="232.1" font-size="6.2" text-anchor="middle">0.02</text>
<text x="168.7" y="232.1" font-size="6.2" text-anchor="middle">0.12</text>
<text x="141.7" y="213.4" font-size="6.6" text-anchor="middle">pvalue</text>
<text x="31.5" y="318.2" font-size="6.0">Pathway</text>
<circle cx="36.5" cy="322.3" r="2.85" fill="#0b4a97"/>
<text x="41.1" y="323.9" font-size="6.13">Ras protein signal transducrion</text>
<circle cx="36.5" cy="329.4" r="2.85" fill="#9d5c20"/>
<text x="41.1" y="331" font-size="6.13">Wnt signaling pathway</text>
<circle cx="36.5" cy="336" r="2.85" fill="#1c9cbb"/>
<text x="41.1" y="337.6" font-size="6.13">BMP signaling pathway</text>
<circle cx="36.5" cy="342.9" r="2.85" fill="#d58fa0"/>
<text x="41.1" y="344.5" font-size="6.13">positive regulation of MAPK cascade</text>
<circle cx="36.5" cy="349.8" r="2.85" fill="#b4002c"/>
<text x="41.1" y="351.4" font-size="6.13">Notch signaling pathway</text>
<circle cx="36.5" cy="356.4" r="2.85" fill="#a9f6fb"/>
<text x="41.1" y="358" font-size="6.13">insulin-like growth factor receptor</text>
<text x="41.1" y="365.1" font-size="6.13">signaling pathway</text>
</g>
<g id="panelE">
<path d="M228.3 208.9A50.3 50.3 0 0 1 230.8 208.8L230.8 212.9A46.2 46.2 0 0 0 228.5 213Z" fill="#fde7ad"/>
<path d="M226.1 209A50.3 50.3 0 0 1 228.6 208.8L228.8 212.9A46.2 46.2 0 0 0 226.5 213.1Z" fill="#fde2a8"/>
<path d="M223.9 209.3A50.3 50.3 0 0 1 226.4 209L226.8 213.1A46.2 46.2 0 0 0 224.5 213.3Z" fill="#fddda3"/>
<path d="M221.7 209.6A50.3 50.3 0 0 1 224.2 209.2L224.8 213.3A46.2 46.2 0 0 0 222.5 213.7Z" fill="#fdd89e"/>
<path d="M219.6 210.1A50.3 50.3 0 0 1 222.1 209.6L222.8 213.6A46.2 46.2 0 0 0 220.5 214.1Z" fill="#fdd398"/>
<path d="M217.4 210.6A50.3 50.3 0 0 1 219.9 210L220.8 214A46.2 46.2 0 0 0 218.5 214.6Z" fill="#fdce93"/>
<path d="M215.3 211.2A50.3 50.3 0 0 1 217.8 210.5L218.8 214.5A46.2 46.2 0 0 0 216.6 215.1Z" fill="#fdc98e"/>
<path d="M213.3 212A50.3 50.3 0 0 1 215.7 211.1L216.9 215A46.2 46.2 0 0 0 214.7 215.8Z" fill="#fdc489"/>
<path d="M211.2 212.8A50.3 50.3 0 0 1 213.6 211.8L215 215.7A46.2 46.2 0 0 0 212.8 216.5Z" fill="#fdbe84"/>
<path d="M209.2 213.7A50.3 50.3 0 0 1 211.6 212.6L213.1 216.4A46.2 46.2 0 0 0 211 217.4Z" fill="#fcb880"/>
<path d="M207.3 214.6A50.3 50.3 0 0 1 209.5 213.5L211.3 217.2A46.2 46.2 0 0 0 209.2 218.3Z" fill="#fcb27b"/>
<path d="M205.3 215.7A50.3 50.3 0 0 1 207.6 214.5L209.5 218.1A46.2 46.2 0 0 0 207.4 219.3Z" fill="#fcac77"/>
<path d="M203.5 216.9A50.3 50.3 0 0 1 205.6 215.5L207.7 219.1A46.2 46.2 0 0 0 205.7 220.3Z" fill="#fca672"/>
<path d="M201.7 218.1A50.3 50.3 0 0 1 203.8 216.7L206 220.1A46.2 46.2 0 0 0 204 221.4Z" fill="#fba06e"/>
<path d="M199.9 219.4A50.3 50.3 0 0 1 201.9 217.9L204.3 221.3A46.2 46.2 0 0 0 202.4 222.6Z" fill="#fb996a"/>
<path d="M198.2 220.8A50.3 50.3 0 0 1 200.2 219.2L202.7 222.4A46.2 46.2 0 0 0 200.9 223.9Z" fill="#fa9368"/>
<path d="M196.6 222.3A50.3 50.3 0 0 1 198.5 220.6L201.1 223.7A46.2 46.2 0 0 0 199.4 225.3Z" fill="#f98c66"/>
<path d="M195 223.8A50.3 50.3 0 0 1 196.8 222L199.6 225A46.2 46.2 0 0 0 197.9 226.7Z" fill="#f88564"/>
<path d="M193.5 225.4A50.3 50.3 0 0 1 195.2 223.5L198.1 226.4A46.2 46.2 0 0 0 196.5 228.1Z" fill="#f77e62"/>
<path d="M192 227A50.3 50.3 0 0 1 193.7 225.1L196.7 227.9A46.2 46.2 0 0 0 195.2 229.7Z" fill="#f67760"/>
<path d="M190.7 228.8A50.3 50.3 0 0 1 192.3 226.8L195.4 229.4A46.2 46.2 0 0 0 194 231.2Z" fill="#f5705e"/>
<path d="M189.4 230.5A50.3 50.3 0 0 1 190.9 228.5L194.1 231A46.2 46.2 0 0 0 192.8 232.9Z" fill="#f46a5c"/>
<path d="M188.2 232.4A50.3 50.3 0 0 1 189.6 230.2L193 232.6A46.2 46.2 0 0 0 191.7 234.5Z" fill="#f2645e"/>
<path d="M187.1 234.3A50.3 50.3 0 0 1 188.4 232.1L191.8 234.3A46.2 46.2 0 0 0 190.6 236.3Z" fill="#f15f60"/>
<path d="M186 236.2A50.3 50.3 0 0 1 187.2 234L190.8 236A46.2 46.2 0 0 0 189.7 238.1Z" fill="#ef5962"/>
<path d="M185.1 238.2A50.3 50.3 0 0 1 186.2 235.9L189.8 237.8A46.2 46.2 0 0 0 188.8 239.9Z" fill="#ee5464"/>
<path d="M184.2 240.2A50.3 50.3 0 0 1 185.2 237.8L188.9 239.6A46.2 46.2 0 0 0 188 241.7Z" fill="#ec4e66"/>
<path d="M183.4 242.2A50.3 50.3 0 0 1 184.3 239.9L188.1 241.4A46.2 46.2 0 0 0 187.3 243.6Z" fill="#ea4967"/>
<path d="M182.7 244.3A50.3 50.3 0 0 1 183.5 241.9L187.4 243.3A46.2 46.2 0 0 0 186.6 245.5Z" fill="#e84469"/>
<path d="M182.1 246.4A50.3 50.3 0 0 1 182.8 244L186.7 245.2A46.2 46.2 0 0 0 186.1 247.5Z" fill="#e6406c"/>
<path d="M181.6 248.6A50.3 50.3 0 0 1 182.2 246.1L186.2 247.1A46.2 46.2 0 0 0 185.6 249.4Z" fill="#e23e70"/>
<path d="M181.2 250.7A50.3 50.3 0 0 1 181.7 248.2L185.7 249.1A46.2 46.2 0 0 0 185.2 251.4Z" fill="#df3b73"/>
<path d="M180.9 252.9A50.3 50.3 0 0 1 181.3 250.4L185.3 251.1A46.2 46.2 0 0 0 185 253.4Z" fill="#db3876"/>
<path d="M180.7 255.1A50.3 50.3 0 0 1 180.9 252.5L185 253.1A46.2 46.2 0 0 0 184.7 255.4Z" fill="#d8367a"/>
<path d="M180.5 257.3A50.3 50.3 0 0 1 180.7 254.7L184.8 255.1A46.2 46.2 0 0 0 184.6 257.4Z" fill="#d4337d"/>
<path d="M180.5 259.5A50.3 50.3 0 0 1 180.5 256.9L184.6 257.1A46.2 46.2 0 0 0 184.6 259.4Z" fill="#d13080"/>
<path d="M180.6 261.6A50.3 50.3 0 0 1 180.5 259.1L184.6 259.1A46.2 46.2 0 0 0 184.7 261.4Z" fill="#cc2e83"/>
<path d="M180.7 263.8A50.3 50.3 0 0 1 180.5 261.3L184.6 261.1A46.2 46.2 0 0 0 184.8 263.4Z" fill="#c72d86"/>
<path d="M181 266A50.3 50.3 0 0 1 180.7 263.5L184.8 263.1A46.2 46.2 0 0 0 185 265.4Z" fill="#c12b89"/>
<path d="M181.3 268.2A50.3 50.3 0 0 1 180.9 265.7L185 265.1A46.2 46.2 0 0 0 185.4 267.4Z" fill="#bc2a8c"/>
<path d="M181.8 270.3A50.3 50.3 0 0 1 181.3 267.8L185.3 267.1A46.2 46.2 0 0 0 185.8 269.4Z" fill="#b7288f"/>
<path d="M182.3 272.5A50.3 50.3 0 0 1 181.7 270L185.7 269.1A46.2 46.2 0 0 0 186.3 271.4Z" fill="#b12792"/>
<path d="M182.9 274.6A50.3 50.3 0 0 1 182.2 272.1L186.2 271.1A46.2 46.2 0 0 0 186.8 273.3Z" fill="#ac2595"/>
<path d="M183.7 276.6A50.3 50.3 0 0 1 182.8 274.2L186.7 273A46.2 46.2 0 0 0 187.5 275.2Z" fill="#a62497"/>
<path d="M184.5 278.7A50.3 50.3 0 0 1 183.5 276.3L187.4 274.9A46.2 46.2 0 0 0 188.2 277.1Z" fill="#a02398"/>
<path d="M185.4 280.7A50.3 50.3 0 0 1 184.3 278.3L188.1 276.8A46.2 46.2 0 0 0 189.1 278.9Z" fill="#992298"/>
<path d="M186.3 282.6A50.3 50.3 0 0 1 185.2 280.4L188.9 278.6A46.2 46.2 0 0 0 190 280.7Z" fill="#932198"/>
<path d="M187.4 284.6A50.3 50.3 0 0 1 186.2 282.3L189.8 280.4A46.2 46.2 0 0 0 191 282.5Z" fill="#8d2099"/>
<path d="M188.6 286.4A50.3 50.3 0 0 1 187.2 284.3L190.8 282.2A46.2 46.2 0 0 0 192 284.2Z" fill="#862099"/>
<path d="M189.8 288.2A50.3 50.3 0 0 1 188.4 286.1L191.8 283.9A46.2 46.2 0 0 0 193.1 285.9Z" fill="#801f9a"/>
<path d="M191.1 290A50.3 50.3 0 0 1 189.6 288L193 285.6A46.2 46.2 0 0 0 194.3 287.5Z" fill="#791e9a"/>
<path d="M192.5 291.7A50.3 50.3 0 0 1 190.9 289.7L194.1 287.2A46.2 46.2 0 0 0 195.6 289Z" fill="#731c98"/>
<path d="M194 293.3A50.3 50.3 0 0 1 192.3 291.4L195.4 288.8A46.2 46.2 0 0 0 197 290.5Z" fill="#6c1b96"/>
<path d="M195.5 294.9A50.3 50.3 0 0 1 193.7 293.1L196.7 290.3A46.2 46.2 0 0 0 198.4 292Z" fill="#651a94"/>
<path d="M197.1 296.4A50.3 50.3 0 0 1 195.2 294.7L198.1 291.8A46.2 46.2 0 0 0 199.8 293.4Z" fill="#5f1892"/>
<path d="M198.7 297.9A50.3 50.3 0 0 1 196.8 296.2L199.6 293.2A46.2 46.2 0 0 0 201.4 294.7Z" fill="#581790"/>
<path d="M200.5 299.2A50.3 50.3 0 0 1 198.5 297.6L201.1 294.5A46.2 46.2 0 0 0 202.9 295.9Z" fill="#51168e"/>
<path d="M202.2 300.5A50.3 50.3 0 0 1 200.2 299L202.7 295.8A46.2 46.2 0 0 0 204.6 297.1Z" fill="#4b148c"/>
<path d="M204.1 301.7A50.3 50.3 0 0 1 201.9 300.3L204.3 296.9A46.2 46.2 0 0 0 206.2 298.2Z" fill="#441384"/>
<path d="M206 302.8A50.3 50.3 0 0 1 203.8 301.5L206 298.1A46.2 46.2 0 0 0 208 299.3Z" fill="#3e127c"/>
<path d="M207.9 303.9A50.3 50.3 0 0 1 205.7 302.7L207.7 299.1A46.2 46.2 0 0 0 209.8 300.2Z" fill="#381174"/>
<path d="M209.9 304.8A50.3 50.3 0 0 1 207.6 303.7L209.5 300.1A46.2 46.2 0 0 0 211.6 301.1Z" fill="#32106c"/>
<path d="M211.9 305.7A50.3 50.3 0 0 1 209.5 304.7L211.3 301A46.2 46.2 0 0 0 213.4 301.9Z" fill="#2c0f63"/>
<path d="M213.9 306.5A50.3 50.3 0 0 1 211.6 305.6L213.1 301.8A46.2 46.2 0 0 0 215.3 302.6Z" fill="#260d5b"/>
<path d="M216 307.2A50.3 50.3 0 0 1 213.6 306.4L215 302.5A46.2 46.2 0 0 0 217.2 303.3Z" fill="#200c52"/>
<path d="M218.1 307.8A50.3 50.3 0 0 1 215.7 307.1L216.9 303.2A46.2 46.2 0 0 0 219.2 303.8Z" fill="#1b0b49"/>
<path d="M220.3 308.3A50.3 50.3 0 0 1 217.8 307.7L218.8 303.7A46.2 46.2 0 0 0 221.1 304.3Z" fill="#17093e"/>
<path d="M222.4 308.7A50.3 50.3 0 0 1 219.9 308.2L220.8 304.2A46.2 46.2 0 0 0 223.1 304.7Z" fill="#130834"/>
<path d="M224.6 309A50.3 50.3 0 0 1 222.1 308.6L222.8 304.6A46.2 46.2 0 0 0 225.1 304.9Z" fill="#0f0629"/>
<path d="M226.8 309.2A50.3 50.3 0 0 1 224.2 309L224.8 304.9A46.2 46.2 0 0 0 227.1 305.2Z" fill="#0a041e"/>
<path d="M229 309.4A50.3 50.3 0 0 1 226.4 309.2L226.8 305.1A46.2 46.2 0 0 0 229.1 305.3Z" fill="#060314"/>
<path d="M230.8 309.4A50.3 50.3 0 0 1 228.6 309.4L228.8 305.3A46.2 46.2 0 0 0 230.8 305.3Z" fill="#020109"/>
<path d="M231.2 208.8A50.3 50.3 0 0 1 280 248.6L278 249.1A48.3 48.3 0 0 0 231.2 210.8Z" fill="#0b4a97"/>
<path d="M231.2 211.6A47.5 47.5 0 0 1 277.3 249.2L275.9 249.5A46.1 46.1 0 0 0 231.2 213Z" fill="#fff7ec"/>
<path d="M280.1 249.1A50.3 50.3 0 0 1 280.8 253.8L278.8 254.1A48.3 48.3 0 0 0 278.1 249.5Z" fill="#c9300c"/>
<path d="M277.3 249.6A47.5 47.5 0 0 1 278 254.1L276.6 254.3A46.1 46.1 0 0 0 276 249.9Z" fill="#b20000"/>
<path d="M280.9 254.3A50.3 50.3 0 0 1 274.4 284.2L272.6 283.2A48.3 48.3 0 0 0 278.9 254.5Z" fill="#1fa27c"/>
<path d="M278.1 254.5A47.5 47.5 0 0 1 271.9 282.9L270.7 282.2A46.1 46.1 0 0 0 276.7 254.7Z" fill="#fee3bd"/>
<path d="M274.1 284.6A50.3 50.3 0 0 1 260.4 299.8L259.2 298.2A48.3 48.3 0 0 0 272.4 283.6Z" fill="#7f63a9"/>
<path d="M271.7 283.2A47.5 47.5 0 0 1 258.7 297.5L257.9 296.4A46.1 46.1 0 0 0 270.5 282.5Z" fill="#fdc68c"/>
<path d="M260 300.1A50.3 50.3 0 0 1 256.7 302.2L255.7 300.5A48.3 48.3 0 0 0 258.8 298.4Z" fill="#f4937b"/>
<path d="M258.4 297.8A47.5 47.5 0 0 1 255.3 299.8L254.5 298.6A46.1 46.1 0 0 0 257.6 296.6Z" fill="#fc8c59"/>
<path d="M256.3 302.4A50.3 50.3 0 0 1 240.4 308.5L240 306.5A48.3 48.3 0 0 0 255.3 300.7Z" fill="#b2445f"/>
<path d="M254.9 300A47.5 47.5 0 0 1 239.9 305.7L239.6 304.4A46.1 46.1 0 0 0 254.2 298.8Z" fill="#d62f1e"/>
<path d="M240 308.6A50.3 50.3 0 0 1 230.8 309.4L230.8 307.4A48.3 48.3 0 0 0 239.6 306.6Z" fill="#a9f6fb"/>
<path d="M239.5 305.8A47.5 47.5 0 0 1 230.8 306.6L230.8 305.2A46.1 46.1 0 0 0 239.2 304.4Z" fill="#e34a33"/>
<path d="M231 213.4A45.7 45.7 0 0 1 269.6 234.9Q230.8 259.1 192.2 283.5A45.7 45.7 0 0 0 230.8 304.8Q230.8 259.1 231 213.4Z" fill="#0b4a97"/>
<path d="M276.3 254.5A45.7 45.7 0 0 1 270.8 281.3Q230.8 259.1 186.1 249.8A45.7 45.7 0 0 0 192 283.3Q230.8 259.1 276.3 254.5Z" fill="#1fa27c"/>
<path d="M239.3 304A45.7 45.7 0 0 1 231.6 304.8Q230.8 259.1 230.2 213.4A45.7 45.7 0 0 0 227.6 213.5Q230.8 259.1 239.3 304Z" fill="#a9f6fb"/>
<path d="M275 247.5A45.7 45.7 0 0 1 275.5 249.6Q230.8 259.1 230.8 213.4A45.7 45.7 0 0 0 230 213.4Q230.8 259.1 275 247.5Z" fill="#0b4a97"/>
<path d="M259.4 294.7A45.7 45.7 0 0 1 257.7 296.1Q230.8 259.1 227.1 213.6A45.7 45.7 0 0 0 226.3 213.6Q230.8 259.1 259.4 294.7Z" fill="#7f63a9"/>
<path d="M274.8 246.6A45.7 45.7 0 0 1 275.3 248.7Q230.8 259.1 226.2 213.6A45.7 45.7 0 0 0 225.3 213.7Q230.8 259.1 274.8 246.6Z" fill="#0b4a97"/>
<path d="M276 252.1A45.7 45.7 0 0 1 276.2 254.3Q230.8 259.1 225.3 213.7A45.7 45.7 0 0 0 224.4 213.8Q230.8 259.1 276 252.1Z" fill="#c9300c"/>
<path d="M260.2 294.1A45.7 45.7 0 0 1 258.4 295.5Q230.8 259.1 224.4 213.9A45.7 45.7 0 0 0 223.5 214Q230.8 259.1 260.2 294.1Z" fill="#7f63a9"/>
<path d="M241.6 303.5A45.7 45.7 0 0 1 239.5 304Q230.8 259.1 223.5 214A45.7 45.7 0 0 0 222.6 214.1Q230.8 259.1 241.6 303.5Z" fill="#b2445f"/>
<path d="M242.5 303.3A45.7 45.7 0 0 1 240.4 303.8Q230.8 259.1 222.6 214.1A45.7 45.7 0 0 0 221.7 214.3Q230.8 259.1 242.5 303.3Z" fill="#b2445f"/>
<path d="M260.9 293.5A45.7 45.7 0 0 1 259.2 294.9Q230.8 259.1 221.7 214.3A45.7 45.7 0 0 0 220.8 214.5Q230.8 259.1 260.9 293.5Z" fill="#7f63a9"/>
<path d="M261.6 292.9A45.7 45.7 0 0 1 259.9 294.3Q230.8 259.1 220.8 214.5A45.7 45.7 0 0 0 220 214.7Q230.8 259.1 261.6 292.9Z" fill="#7f63a9"/>
<path d="M256.3 297A45.7 45.7 0 0 1 254.3 298.3Q230.8 259.1 219.9 214.7A45.7 45.7 0 0 0 219.1 214.9Q230.8 259.1 256.3 297Z" fill="#f4937b"/>
<path d="M262.3 292.2A45.7 45.7 0 0 1 260.7 293.7Q230.8 259.1 219 215A45.7 45.7 0 0 0 218.2 215.2Q230.8 259.1 262.3 292.2Z" fill="#7f63a9"/>
<path d="M263 291.5A45.7 45.7 0 0 1 261.4 293.1Q230.8 259.1 218.1 215.2A45.7 45.7 0 0 0 217.3 215.4Q230.8 259.1 263 291.5Z" fill="#7f63a9"/>
<path d="M243.4 303A45.7 45.7 0 0 1 241.4 303.6Q230.8 259.1 217.2 215.5A45.7 45.7 0 0 0 216.4 215.7Q230.8 259.1 243.4 303Z" fill="#b2445f"/>
<path d="M263.7 290.9A45.7 45.7 0 0 1 262.1 292.4Q230.8 259.1 216.4 215.7A45.7 45.7 0 0 0 215.6 216Q230.8 259.1 263.7 290.9Z" fill="#7f63a9"/>
<path d="M274.5 245.7A45.7 45.7 0 0 1 275.1 247.8Q230.8 259.1 215.5 216A45.7 45.7 0 0 0 214.7 216.3Q230.8 259.1 274.5 245.7Z" fill="#0b4a97"/>
<path d="M274.2 244.8A45.7 45.7 0 0 1 274.8 246.9Q230.8 259.1 214.6 216.4A45.7 45.7 0 0 0 213.9 216.7Q230.8 259.1 274.2 244.8Z" fill="#0b4a97"/>
<path d="M275.8 251.2A45.7 45.7 0 0 1 276.1 253.4Q230.8 259.1 213.8 216.7A45.7 45.7 0 0 0 213 217Q230.8 259.1 275.8 251.2Z" fill="#c9300c"/>
<path d="M231.5 304.8A45.7 45.7 0 0 1 230.8 304.8Q230.8 259.1 212.9 217A45.7 45.7 0 0 0 212.2 217.4Q230.8 259.1 231.5 304.8Z" fill="#a9f6fb"/>
<path d="M273.9 243.9A45.7 45.7 0 0 1 274.6 246Q230.8 259.1 212.1 217.4A45.7 45.7 0 0 0 211.3 217.7Q230.8 259.1 273.9 243.9Z" fill="#0b4a97"/>
<path d="M275.6 250.3A45.7 45.7 0 0 1 276 252.4Q230.8 259.1 211.3 217.8A45.7 45.7 0 0 0 210.5 218.1Q230.8 259.1 275.6 250.3Z" fill="#c9300c"/>
<path d="M273.6 243A45.7 45.7 0 0 1 274.3 245.1Q230.8 259.1 210.5 218.2A45.7 45.7 0 0 0 209.7 218.6Q230.8 259.1 273.6 243Z" fill="#0b4a97"/>
<path d="M270.7 281.3A45.7 45.7 0 0 1 270.4 281.9Q230.8 259.1 209.6 218.6A45.7 45.7 0 0 0 208.9 219Q230.8 259.1 270.7 281.3Z" fill="#1fa27c"/>
<path d="M244.3 302.7A45.7 45.7 0 0 1 242.3 303.3Q230.8 259.1 208.8 219A45.7 45.7 0 0 0 208.1 219.4Q230.8 259.1 244.3 302.7Z" fill="#b2445f"/>
<path d="M245.2 302.5A45.7 45.7 0 0 1 243.2 303.1Q230.8 259.1 208 219.5A45.7 45.7 0 0 0 207.3 219.9Q230.8 259.1 245.2 302.5Z" fill="#b2445f"/>
<path d="M264.3 290.2A45.7 45.7 0 0 1 262.8 291.8Q230.8 259.1 207.3 219.9A45.7 45.7 0 0 0 206.5 220.4Q230.8 259.1 264.3 290.2Z" fill="#7f63a9"/>
<path d="M265 289.5A45.7 45.7 0 0 1 263.5 291.1Q230.8 259.1 206.5 220.4A45.7 45.7 0 0 0 205.8 220.9Q230.8 259.1 265 289.5Z" fill="#7f63a9"/>
<path d="M246.1 302.2A45.7 45.7 0 0 1 244.1 302.8Q230.8 259.1 205.7 220.9A45.7 45.7 0 0 0 205 221.4Q230.8 259.1 246.1 302.2Z" fill="#b2445f"/>
<path d="M273.2 242.2A45.7 45.7 0 0 1 274 244.2Q230.8 259.1 204.9 221.4A45.7 45.7 0 0 0 204.3 221.9Q230.8 259.1 273.2 242.2Z" fill="#0b4a97"/>
<path d="M247 301.8A45.7 45.7 0 0 1 245 302.5Q230.8 259.1 204.2 221.9A45.7 45.7 0 0 0 203.5 222.4Q230.8 259.1 247 301.8Z" fill="#b2445f"/>
<path d="M275.5 249.7A45.7 45.7 0 0 1 275.9 251.5Q230.8 259.1 203.5 222.5A45.7 45.7 0 0 0 202.8 223Q230.8 259.1 275.5 249.7Z" fill="#c9300c"/>
<path d="M265.6 288.7A45.7 45.7 0 0 1 264.1 290.4Q230.8 259.1 202.7 223A45.7 45.7 0 0 0 202.1 223.6Q230.8 259.1 265.6 288.7Z" fill="#7f63a9"/>
<path d="M272.9 241.3A45.7 45.7 0 0 1 273.7 243.3Q230.8 259.1 202 223.6A45.7 45.7 0 0 0 201.4 224.1Q230.8 259.1 272.9 241.3Z" fill="#0b4a97"/>
<path d="M247.9 301.5A45.7 45.7 0 0 1 245.9 302.2Q230.8 259.1 201.3 224.2A45.7 45.7 0 0 0 200.7 224.7Q230.8 259.1 247.9 301.5Z" fill="#b2445f"/>
<path d="M257.1 296.5A45.7 45.7 0 0 1 255.2 297.7Q230.8 259.1 200.6 224.8A45.7 45.7 0 0 0 200 225.3Q230.8 259.1 257.1 296.5Z" fill="#f4937b"/>
<path d="M272.5 240.4A45.7 45.7 0 0 1 273.3 242.4Q230.8 259.1 199.9 225.4A45.7 45.7 0 0 0 199.3 226Q230.8 259.1 272.5 240.4Z" fill="#0b4a97"/>
<path d="M275.5 249.7A45.7 45.7 0 0 1 275.7 250.5Q230.8 259.1 199.3 226A45.7 45.7 0 0 0 198.7 226.6Q230.8 259.1 275.5 249.7Z" fill="#c9300c"/>
<path d="M266.2 288A45.7 45.7 0 0 1 264.8 289.7Q230.8 259.1 198.6 226.7A45.7 45.7 0 0 0 198 227.3Q230.8 259.1 266.2 288Z" fill="#7f63a9"/>
<path d="M272.1 239.6A45.7 45.7 0 0 1 273 241.5Q230.8 259.1 198 227.3A45.7 45.7 0 0 0 197.4 227.9Q230.8 259.1 272.1 239.6Z" fill="#0b4a97"/>
<path d="M271.7 238.7A45.7 45.7 0 0 1 272.6 240.7Q230.8 259.1 197.3 228A45.7 45.7 0 0 0 196.8 228.6Q230.8 259.1 271.7 238.7Z" fill="#0b4a97"/>
<path d="M248.7 301.1A45.7 45.7 0 0 1 246.7 301.9Q230.8 259.1 196.7 228.6A45.7 45.7 0 0 0 196.2 229.3Q230.8 259.1 248.7 301.1Z" fill="#b2445f"/>
<path d="M266.8 287.3A45.7 45.7 0 0 1 265.4 289Q230.8 259.1 196.1 229.3A45.7 45.7 0 0 0 195.6 230Q230.8 259.1 266.8 287.3Z" fill="#7f63a9"/>
<path d="M271.3 237.9A45.7 45.7 0 0 1 272.2 239.8Q230.8 259.1 195.5 230A45.7 45.7 0 0 0 195 230.7Q230.8 259.1 271.3 237.9Z" fill="#0b4a97"/>
<path d="M267.4 286.5A45.7 45.7 0 0 1 266 288.2Q230.8 259.1 195 230.7A45.7 45.7 0 0 0 194.4 231.4Q230.8 259.1 267.4 286.5Z" fill="#7f63a9"/>
<path d="M267.9 285.7A45.7 45.7 0 0 1 266.6 287.5Q230.8 259.1 194.4 231.5A45.7 45.7 0 0 0 193.9 232.1Q230.8 259.1 267.9 285.7Z" fill="#7f63a9"/>
<path d="M249.6 300.8A45.7 45.7 0 0 1 247.6 301.6Q230.8 259.1 193.9 232.2A45.7 45.7 0 0 0 193.4 232.9Q230.8 259.1 249.6 300.8Z" fill="#b2445f"/>
<path d="M268.5 284.9A45.7 45.7 0 0 1 267.2 286.7Q230.8 259.1 193.3 232.9A45.7 45.7 0 0 0 192.9 233.6Q230.8 259.1 268.5 284.9Z" fill="#7f63a9"/>
<path d="M269 284.2A45.7 45.7 0 0 1 267.8 286Q230.8 259.1 192.8 233.7A45.7 45.7 0 0 0 192.3 234.4Q230.8 259.1 269 284.2Z" fill="#7f63a9"/>
<path d="M270.8 237.1A45.7 45.7 0 0 1 271.8 239Q230.8 259.1 192.3 234.5A45.7 45.7 0 0 0 191.9 235.2Q230.8 259.1 270.8 237.1Z" fill="#0b4a97"/>
<path d="M270.4 236.3A45.7 45.7 0 0 1 271.4 238.1Q230.8 259.1 191.8 235.2A45.7 45.7 0 0 0 191.4 236Q230.8 259.1 270.4 236.3Z" fill="#0b4a97"/>
<path d="M269.9 235.4A45.7 45.7 0 0 1 271 237.3Q230.8 259.1 191.4 236A45.7 45.7 0 0 0 190.9 236.8Q230.8 259.1 269.9 235.4Z" fill="#0b4a97"/>
<path d="M250.5 300.4A45.7 45.7 0 0 1 248.5 301.2Q230.8 259.1 190.9 236.8A45.7 45.7 0 0 0 190.5 237.6Q230.8 259.1 250.5 300.4Z" fill="#b2445f"/>
<path d="M269.6 235A45.7 45.7 0 0 1 270.5 236.5Q230.8 259.1 190.5 237.6A45.7 45.7 0 0 0 190.1 238.4Q230.8 259.1 269.6 235Z" fill="#0b4a97"/>
<path d="M251.3 299.9A45.7 45.7 0 0 1 249.3 300.9Q230.8 259.1 190 238.4A45.7 45.7 0 0 0 189.7 239.2Q230.8 259.1 251.3 299.9Z" fill="#b2445f"/>
<path d="M269.5 283.3A45.7 45.7 0 0 1 268.3 285.2Q230.8 259.1 189.6 239.3A45.7 45.7 0 0 0 189.3 240Q230.8 259.1 269.5 283.3Z" fill="#7f63a9"/>
<path d="M252.1 299.5A45.7 45.7 0 0 1 250.2 300.5Q230.8 259.1 189.2 240.1A45.7 45.7 0 0 0 188.9 240.8Q230.8 259.1 252.1 299.5Z" fill="#b2445f"/>
<path d="M269.6 235A45.7 45.7 0 0 1 270 235.7Q230.8 259.1 188.9 240.9A45.7 45.7 0 0 0 188.5 241.7Q230.8 259.1 269.6 235Z" fill="#0b4a97"/>
<path d="M270 282.5A45.7 45.7 0 0 1 268.9 284.4Q230.8 259.1 188.5 241.8A45.7 45.7 0 0 0 188.2 242.5Q230.8 259.1 270 282.5Z" fill="#7f63a9"/>
<path d="M270.3 282A45.7 45.7 0 0 1 269.4 283.6Q230.8 259.1 188.2 242.6A45.7 45.7 0 0 0 187.9 243.4Q230.8 259.1 270.3 282Z" fill="#7f63a9"/>
<path d="M253 299.1A45.7 45.7 0 0 1 251 300.1Q230.8 259.1 187.9 243.5A45.7 45.7 0 0 0 187.6 244.3Q230.8 259.1 253 299.1Z" fill="#b2445f"/>
<path d="M253.8 298.6A45.7 45.7 0 0 1 251.9 299.6Q230.8 259.1 187.6 244.3A45.7 45.7 0 0 0 187.3 245.1Q230.8 259.1 253.8 298.6Z" fill="#b2445f"/>
<path d="M254.3 298.3A45.7 45.7 0 0 1 252.7 299.2Q230.8 259.1 187.3 245.2A45.7 45.7 0 0 0 187 246Q230.8 259.1 254.3 298.3Z" fill="#b2445f"/>
<path d="M257.6 296.1A45.7 45.7 0 0 1 256 297.2Q230.8 259.1 187 246.1A45.7 45.7 0 0 0 186.8 246.9Q230.8 259.1 257.6 296.1Z" fill="#f4937b"/>
<path d="M254.3 298.3A45.7 45.7 0 0 1 253.5 298.7Q230.8 259.1 186.7 246.9A45.7 45.7 0 0 0 186.5 247.8Q230.8 259.1 254.3 298.3Z" fill="#b2445f"/>
<path d="M257.6 296.1A45.7 45.7 0 0 1 256.8 296.6Q230.8 259.1 186.5 247.8A45.7 45.7 0 0 0 186.3 248.6Q230.8 259.1 257.6 296.1Z" fill="#f4937b"/>
<path d="M270.3 282A45.7 45.7 0 0 1 269.9 282.8Q230.8 259.1 186.3 248.7A45.7 45.7 0 0 0 186.1 249.5Q230.8 259.1 270.3 282Z" fill="#7f63a9"/>
<path d="M239.3 304A45.7 45.7 0 0 1 230.8 304.8Q230.8 259.1 227.8 213.5A45.7 45.7 0 0 1 230.5 213.4Q230.8 259.1 239.3 304Z" fill="#a9f6fb"/>
<rect x="285.3" y="215" width="3" height="8.4" fill="#fff4e6"/>
<rect x="288" y="215" width="3" height="8.4" fill="#feefda"/>
<rect x="290.8" y="215" width="3" height="8.4" fill="#feeace"/>
<rect x="293.5" y="215" width="3" height="8.4" fill="#fee4c0"/>
<rect x="296.2" y="215" width="3" height="8.4" fill="#fddeb2"/>
<rect x="299" y="215" width="3" height="8.4" fill="#fdd7a4"/>
<rect x="301.7" y="215" width="3" height="8.4" fill="#fdcf99"/>
<rect x="304.4" y="215" width="3" height="8.4" fill="#fdc690"/>
<rect x="307.2" y="215" width="3" height="8.4" fill="#fdbd86"/>
<rect x="309.9" y="215" width="3" height="8.4" fill="#fdb07a"/>
<rect x="312.6" y="215" width="3" height="8.4" fill="#fca16c"/>
<rect x="315.4" y="215" width="3" height="8.4" fill="#fc915e"/>
<rect x="318.1" y="215" width="3" height="8.4" fill="#f98355"/>
<rect x="320.8" y="215" width="3" height="8.4" fill="#f5754f"/>
<rect x="323.5" y="215" width="3" height="8.4" fill="#f06849"/>
<rect x="326.3" y="215" width="3" height="8.4" fill="#e9573d"/>
<rect x="329" y="215" width="3" height="8.4" fill="#e0452f"/>
<rect x="331.7" y="215" width="3" height="8.4" fill="#d83321"/>
<rect x="334.5" y="215" width="3" height="8.4" fill="#cd2316"/>
<rect x="337.2" y="215" width="3" height="8.4" fill="#c1130c"/>
<rect x="339.9" y="215" width="3" height="8.4" fill="#b40302"/>
<rect x="342.7" y="215" width="2.7" height="8.4" fill="#a40000"/>
<path d="M285.3 224.4H345.4M285.6 224v2.3M297.4 224v2.3M309.4 224v2.3M321.6 224v2.3M333.6 224v2.3M345.1 224v2.3" stroke="#444" stroke-width="0.6" fill="none"/>
<text x="297.4" y="232.1" font-size="6.2" text-anchor="middle">0.01</text>
<text x="333.6" y="232.1" font-size="6.2" text-anchor="middle">0.04</text>
<text x="315.4" y="214" font-size="6.6" text-anchor="middle">pvalue</text>
<text x="206.5" y="318.2" font-size="6.0">Pathway</text>
<circle cx="209" cy="322.3" r="2.85" fill="#0b4a97"/>
<text x="212.8" y="323.9" font-size="6.13">T cell differentiation</text>
<circle cx="209" cy="328.4" r="2.85" fill="#c9300c"/>
<text x="212.8" y="330" font-size="6.13">positive regulation of gamma-delta</text>
<text x="212.8" y="336.9" font-size="6.13">T cell differentiation</text>
<circle cx="209" cy="343.4" r="2.85" fill="#1fa27c"/>
<text x="212.8" y="345" font-size="6.13">B cell differentiation</text>
<circle cx="209" cy="350" r="2.85" fill="#7f63a9"/>
<text x="212.8" y="351.6" font-size="6.13">T cell differentiation involved in</text>
<text x="212.8" y="359" font-size="6.13">immune response</text>
<circle cx="209" cy="364.5" r="2.85" fill="#f4937b"/>
<text x="212.8" y="366.1" font-size="6.13">NK T cell differentiation</text>
<circle cx="209" cy="371.2" r="2.85" fill="#b2445f"/>
<text x="212.8" y="372.8" font-size="6.13">T-helper cell differentiation</text>
<circle cx="209" cy="378" r="2.85" fill="#a9f6fb"/>
<text x="212.8" y="379.6" font-size="6.13">T-helper 17 cell differentiation</text>
</g>
<g id="panelF">
<path d="M409.7 208.2A50.5 50.5 0 0 1 412.3 208.1L412.3 212.2A46.4 46.4 0 0 0 410 212.3Z" fill="#fde7ad"/>
<path d="M407.5 208.3A50.5 50.5 0 0 1 410.1 208.1L410.3 212.2A46.4 46.4 0 0 0 407.9 212.4Z" fill="#fde2a8"/>
<path d="M405.4 208.6A50.5 50.5 0 0 1 407.9 208.3L408.3 212.4A46.4 46.4 0 0 0 405.9 212.6Z" fill="#fddda3"/>
<path d="M403.2 208.9A50.5 50.5 0 0 1 405.7 208.5L406.2 212.6A46.4 46.4 0 0 0 403.9 213Z" fill="#fdd89e"/>
<path d="M401 209.4A50.5 50.5 0 0 1 403.5 208.9L404.2 212.9A46.4 46.4 0 0 0 401.9 213.4Z" fill="#fdd398"/>
<path d="M398.9 209.9A50.5 50.5 0 0 1 401.4 209.3L402.3 213.3A46.4 46.4 0 0 0 400 213.9Z" fill="#fdce93"/>
<path d="M396.8 210.5A50.5 50.5 0 0 1 399.2 209.8L400.3 213.8A46.4 46.4 0 0 0 398 214.4Z" fill="#fdc98e"/>
<path d="M394.7 211.3A50.5 50.5 0 0 1 397.1 210.4L398.3 214.3A46.4 46.4 0 0 0 396.1 215.1Z" fill="#fdc489"/>
<path d="M392.6 212.1A50.5 50.5 0 0 1 395 211.1L396.4 215A46.4 46.4 0 0 0 394.2 215.9Z" fill="#fdbe84"/>
<path d="M390.6 213A50.5 50.5 0 0 1 393 211.9L394.5 215.7A46.4 46.4 0 0 0 392.4 216.7Z" fill="#fcb880"/>
<path d="M388.7 214A50.5 50.5 0 0 1 391 212.8L392.7 216.5A46.4 46.4 0 0 0 390.6 217.6Z" fill="#fcb27b"/>
<path d="M386.7 215A50.5 50.5 0 0 1 389 213.8L390.9 217.4A46.4 46.4 0 0 0 388.8 218.6Z" fill="#fcac77"/>
<path d="M384.9 216.2A50.5 50.5 0 0 1 387.1 214.9L389.1 218.4A46.4 46.4 0 0 0 387.1 219.6Z" fill="#fca672"/>
<path d="M383 217.4A50.5 50.5 0 0 1 385.2 216L387.4 219.5A46.4 46.4 0 0 0 385.4 220.8Z" fill="#fba06e"/>
<path d="M381.3 218.8A50.5 50.5 0 0 1 383.3 217.2L385.7 220.6A46.4 46.4 0 0 0 383.8 222Z" fill="#fb996a"/>
<path d="M379.6 220.1A50.5 50.5 0 0 1 381.6 218.5L384.1 221.8A46.4 46.4 0 0 0 382.2 223.3Z" fill="#fa9368"/>
<path d="M377.9 221.6A50.5 50.5 0 0 1 379.8 219.9L382.5 223.1A46.4 46.4 0 0 0 380.7 224.6Z" fill="#f98c66"/>
<path d="M376.3 223.1A50.5 50.5 0 0 1 378.2 221.4L381 224.4A46.4 46.4 0 0 0 379.3 226Z" fill="#f88564"/>
<path d="M374.8 224.7A50.5 50.5 0 0 1 376.6 222.9L379.5 225.8A46.4 46.4 0 0 0 377.9 227.5Z" fill="#f77e62"/>
<path d="M373.4 226.4A50.5 50.5 0 0 1 375.1 224.5L378.1 227.3A46.4 46.4 0 0 0 376.5 229Z" fill="#f67760"/>
<path d="M372 228.1A50.5 50.5 0 0 1 373.6 226.1L376.8 228.8A46.4 46.4 0 0 0 375.3 230.6Z" fill="#f5705e"/>
<path d="M370.7 229.9A50.5 50.5 0 0 1 372.2 227.9L375.5 230.4A46.4 46.4 0 0 0 374.1 232.3Z" fill="#f46a5c"/>
<path d="M369.5 231.8A50.5 50.5 0 0 1 370.9 229.6L374.3 232A46.4 46.4 0 0 0 373 233.9Z" fill="#f2645e"/>
<path d="M368.4 233.7A50.5 50.5 0 0 1 369.7 231.5L373.2 233.7A46.4 46.4 0 0 0 372 235.7Z" fill="#f15f60"/>
<path d="M367.3 235.6A50.5 50.5 0 0 1 368.6 233.4L372.1 235.4A46.4 46.4 0 0 0 371 237.5Z" fill="#ef5962"/>
<path d="M366.4 237.6A50.5 50.5 0 0 1 367.5 235.3L371.1 237.2A46.4 46.4 0 0 0 370.1 239.3Z" fill="#ee5464"/>
<path d="M365.5 239.6A50.5 50.5 0 0 1 366.5 237.3L370.2 239A46.4 46.4 0 0 0 369.3 241.1Z" fill="#ec4e66"/>
<path d="M364.7 241.7A50.5 50.5 0 0 1 365.6 239.3L369.4 240.8A46.4 46.4 0 0 0 368.6 243Z" fill="#ea4967"/>
<path d="M364 243.8A50.5 50.5 0 0 1 364.8 241.3L368.7 242.7A46.4 46.4 0 0 0 368 245Z" fill="#e84469"/>
<path d="M363.4 245.9A50.5 50.5 0 0 1 364.1 243.4L368 244.6A46.4 46.4 0 0 0 367.4 246.9Z" fill="#e6406c"/>
<path d="M362.9 248A50.5 50.5 0 0 1 363.5 245.5L367.5 246.6A46.4 46.4 0 0 0 366.9 248.9Z" fill="#e23e70"/>
<path d="M362.5 250.2A50.5 50.5 0 0 1 363 247.7L367 248.6A46.4 46.4 0 0 0 366.5 250.9Z" fill="#df3b73"/>
<path d="M362.2 252.4A50.5 50.5 0 0 1 362.6 249.8L366.6 250.5A46.4 46.4 0 0 0 366.3 252.9Z" fill="#db3876"/>
<path d="M362 254.5A50.5 50.5 0 0 1 362.2 252L366.3 252.5A46.4 46.4 0 0 0 366 254.9Z" fill="#d8367a"/>
<path d="M361.8 256.7A50.5 50.5 0 0 1 362 254.2L366.1 254.6A46.4 46.4 0 0 0 365.9 256.9Z" fill="#d4337d"/>
<path d="M361.8 259A50.5 50.5 0 0 1 361.8 256.4L365.9 256.6A46.4 46.4 0 0 0 365.9 258.9Z" fill="#d13080"/>
<path d="M361.9 261.2A50.5 50.5 0 0 1 361.8 258.6L365.9 258.6A46.4 46.4 0 0 0 366 260.9Z" fill="#cc2e83"/>
<path d="M362 263.4A50.5 50.5 0 0 1 361.8 260.8L365.9 260.6A46.4 46.4 0 0 0 366.1 263Z" fill="#c72d86"/>
<path d="M362.3 265.5A50.5 50.5 0 0 1 362 263L366.1 262.6A46.4 46.4 0 0 0 366.3 265Z" fill="#c12b89"/>
<path d="M362.6 267.7A50.5 50.5 0 0 1 362.2 265.2L366.3 264.7A46.4 46.4 0 0 0 366.7 267Z" fill="#bc2a8c"/>
<path d="M363.1 269.9A50.5 50.5 0 0 1 362.6 267.4L366.6 266.7A46.4 46.4 0 0 0 367.1 269Z" fill="#b7288f"/>
<path d="M363.6 272A50.5 50.5 0 0 1 363 269.5L367 268.6A46.4 46.4 0 0 0 367.6 270.9Z" fill="#b12792"/>
<path d="M364.2 274.1A50.5 50.5 0 0 1 363.5 271.7L367.5 270.6A46.4 46.4 0 0 0 368.1 272.9Z" fill="#ac2595"/>
<path d="M365 276.2A50.5 50.5 0 0 1 364.1 273.8L368 272.6A46.4 46.4 0 0 0 368.8 274.8Z" fill="#a62497"/>
<path d="M365.8 278.3A50.5 50.5 0 0 1 364.8 275.9L368.7 274.5A46.4 46.4 0 0 0 369.6 276.7Z" fill="#a02398"/>
<path d="M366.7 280.3A50.5 50.5 0 0 1 365.6 277.9L369.4 276.4A46.4 46.4 0 0 0 370.4 278.5Z" fill="#992298"/>
<path d="M367.7 282.2A50.5 50.5 0 0 1 366.5 279.9L370.2 278.2A46.4 46.4 0 0 0 371.3 280.3Z" fill="#932198"/>
<path d="M368.7 284.2A50.5 50.5 0 0 1 367.5 281.9L371.1 280A46.4 46.4 0 0 0 372.3 282.1Z" fill="#8d2099"/>
<path d="M369.9 286A50.5 50.5 0 0 1 368.6 283.9L372.1 281.8A46.4 46.4 0 0 0 373.3 283.8Z" fill="#862099"/>
<path d="M371.1 287.9A50.5 50.5 0 0 1 369.7 285.7L373.2 283.5A46.4 46.4 0 0 0 374.5 285.5Z" fill="#801f9a"/>
<path d="M372.5 289.6A50.5 50.5 0 0 1 370.9 287.6L374.3 285.2A46.4 46.4 0 0 0 375.7 287.1Z" fill="#791e9a"/>
<path d="M373.8 291.3A50.5 50.5 0 0 1 372.2 289.3L375.5 286.8A46.4 46.4 0 0 0 377 288.7Z" fill="#731c98"/>
<path d="M375.3 293A50.5 50.5 0 0 1 373.6 291.1L376.8 288.4A46.4 46.4 0 0 0 378.3 290.2Z" fill="#6c1b96"/>
<path d="M376.8 294.6A50.5 50.5 0 0 1 375.1 292.7L378.1 289.9A46.4 46.4 0 0 0 379.7 291.6Z" fill="#651a94"/>
<path d="M378.4 296.1A50.5 50.5 0 0 1 376.6 294.3L379.5 291.4A46.4 46.4 0 0 0 381.2 293Z" fill="#5f1892"/>
<path d="M380.1 297.5A50.5 50.5 0 0 1 378.2 295.8L381 292.8A46.4 46.4 0 0 0 382.7 294.4Z" fill="#581790"/>
<path d="M381.8 298.9A50.5 50.5 0 0 1 379.8 297.3L382.5 294.1A46.4 46.4 0 0 0 384.3 295.6Z" fill="#51168e"/>
<path d="M383.6 300.2A50.5 50.5 0 0 1 381.6 298.7L384.1 295.4A46.4 46.4 0 0 0 386 296.8Z" fill="#4b148c"/>
<path d="M385.5 301.4A50.5 50.5 0 0 1 383.3 300L385.7 296.6A46.4 46.4 0 0 0 387.6 297.9Z" fill="#441384"/>
<path d="M387.4 302.5A50.5 50.5 0 0 1 385.2 301.2L387.4 297.7A46.4 46.4 0 0 0 389.4 298.9Z" fill="#3e127c"/>
<path d="M389.3 303.6A50.5 50.5 0 0 1 387.1 302.3L389.1 298.8A46.4 46.4 0 0 0 391.2 299.9Z" fill="#381174"/>
<path d="M391.3 304.5A50.5 50.5 0 0 1 389 303.4L390.9 299.8A46.4 46.4 0 0 0 393 300.8Z" fill="#32106c"/>
<path d="M393.3 305.4A50.5 50.5 0 0 1 391 304.4L392.7 300.7A46.4 46.4 0 0 0 394.8 301.6Z" fill="#2c0f63"/>
<path d="M395.4 306.2A50.5 50.5 0 0 1 393 305.3L394.5 301.5A46.4 46.4 0 0 0 396.7 302.3Z" fill="#260d5b"/>
<path d="M397.5 306.9A50.5 50.5 0 0 1 395 306.1L396.4 302.2A46.4 46.4 0 0 0 398.7 302.9Z" fill="#200c52"/>
<path d="M399.6 307.5A50.5 50.5 0 0 1 397.1 306.8L398.3 302.9A46.4 46.4 0 0 0 400.6 303.5Z" fill="#1b0b49"/>
<path d="M401.7 308A50.5 50.5 0 0 1 399.2 307.4L400.3 303.4A46.4 46.4 0 0 0 402.6 304Z" fill="#17093e"/>
<path d="M403.9 308.4A50.5 50.5 0 0 1 401.4 307.9L402.3 303.9A46.4 46.4 0 0 0 404.6 304.4Z" fill="#130834"/>
<path d="M406.1 308.7A50.5 50.5 0 0 1 403.5 308.3L404.2 304.3A46.4 46.4 0 0 0 406.6 304.6Z" fill="#0f0629"/>
<path d="M408.2 308.9A50.5 50.5 0 0 1 405.7 308.7L406.2 304.6A46.4 46.4 0 0 0 408.6 304.9Z" fill="#0a041e"/>
<path d="M410.4 309.1A50.5 50.5 0 0 1 407.9 308.9L408.3 304.8A46.4 46.4 0 0 0 410.6 305Z" fill="#060314"/>
<path d="M412.3 309.1A50.5 50.5 0 0 1 410.1 309.1L410.3 305A46.4 46.4 0 0 0 412.3 305Z" fill="#020109"/>
<path d="M412.7 208.1A50.5 50.5 0 0 1 425.4 209.8L424.9 211.8A48.5 48.5 0 0 0 412.7 210.1Z" fill="#0b4a97"/>
<path d="M412.7 210.9A47.7 47.7 0 0 1 424.6 212.5L424.3 213.9A46.3 46.3 0 0 0 412.7 212.3Z" fill="#fee8c8"/>
<path d="M425.8 209.9A50.5 50.5 0 0 1 451.3 226.5L449.7 227.8A48.5 48.5 0 0 0 425.3 211.9Z" fill="#e9000c"/>
<path d="M425 212.6A47.7 47.7 0 0 1 449.1 228.3L448 229.1A46.3 46.3 0 0 0 424.7 214Z" fill="#fdd49e"/>
<path d="M451.5 226.8A50.5 50.5 0 0 1 459 239.4L457.1 240.1A48.5 48.5 0 0 0 450 228.1Z" fill="#3bb044"/>
<path d="M449.4 228.6A47.7 47.7 0 0 1 456.4 240.4L455.1 241A46.3 46.3 0 0 0 448.3 229.5Z" fill="#fee3bd"/>
<path d="M459.2 239.8A50.5 50.5 0 0 1 461.8 248.5L459.8 248.9A48.5 48.5 0 0 0 457.3 240.5Z" fill="#1c9cbb"/>
<path d="M456.6 240.8A47.7 47.7 0 0 1 459 249.1L457.7 249.4A46.3 46.3 0 0 0 455.3 241.3Z" fill="#fdd49e"/>
<path d="M461.9 249A50.5 50.5 0 0 1 462.7 256L460.7 256.1A48.5 48.5 0 0 0 459.9 249.3Z" fill="#9a6bb6"/>
<path d="M459.1 249.5A47.7 47.7 0 0 1 459.9 256.1L458.5 256.2A46.3 46.3 0 0 0 457.7 249.8Z" fill="#fdba83"/>
<path d="M462.8 256.4A50.5 50.5 0 0 1 460.8 272.5L458.9 272A48.5 48.5 0 0 0 460.8 256.5Z" fill="#f9b59b"/>
<path d="M460 256.5A47.7 47.7 0 0 1 458.2 271.7L456.8 271.4A46.3 46.3 0 0 0 458.6 256.6Z" fill="#fc8c59"/>
<path d="M460.7 272.9A50.5 50.5 0 0 1 426.2 307.1L425.7 305.2A48.5 48.5 0 0 0 458.8 272.4Z" fill="#b00030"/>
<path d="M458 272.1A47.7 47.7 0 0 1 425.4 304.5L425.1 303.1A46.3 46.3 0 0 0 456.7 271.7Z" fill="#ef6447"/>
<path d="M425.8 307.3A50.5 50.5 0 0 1 419.3 308.6L419 306.6A48.5 48.5 0 0 0 425.3 305.3Z" fill="#b3bbc2"/>
<path d="M425 304.6A47.7 47.7 0 0 1 418.9 305.8L418.7 304.4A46.3 46.3 0 0 0 424.7 303.2Z" fill="#fdd49e"/>
<path d="M418.9 308.7A50.5 50.5 0 0 1 412.3 309.1L412.3 307.1A48.5 48.5 0 0 0 418.6 306.7Z" fill="#a9f6fb"/>
<path d="M418.5 305.9A47.7 47.7 0 0 1 412.3 306.3L412.3 304.9A46.3 46.3 0 0 0 418.3 304.5Z" fill="#fee8c8"/>
<path d="M412.5 212.7A45.9 45.9 0 0 1 413.9 212.7Q412.3 258.6 409.3 304.4A45.9 45.9 0 0 0 412.3 304.5Q412.3 258.6 412.5 212.7Z" fill="#0b4a97"/>
<path d="M424.4 214.3A45.9 45.9 0 0 1 432.4 217.3Q412.3 258.6 393.8 300.6A45.9 45.9 0 0 0 409.1 304.4Q412.3 258.6 424.4 214.3Z" fill="#e9000c"/>
<path d="M447.8 229.6A45.9 45.9 0 0 1 451.4 234.6Q412.3 258.6 383.6 294.4A45.9 45.9 0 0 0 393.6 300.5Q412.3 258.6 447.8 229.6Z" fill="#3bb044"/>
<path d="M457.3 249.6A45.9 45.9 0 0 1 458 254.2Q412.3 258.6 377.3 288.3A45.9 45.9 0 0 0 383.4 294.3Q412.3 258.6 457.3 249.6Z" fill="#9a6bb6"/>
<path d="M458.1 256.4A45.9 45.9 0 0 1 457.2 268.1Q412.3 258.6 373.5 283.1A45.9 45.9 0 0 0 377.1 288.1Q412.3 258.6 458.1 256.4Z" fill="#f9b59b"/>
<path d="M456.4 271.4A45.9 45.9 0 0 1 431 300.5Q412.3 258.6 371 238.7A45.9 45.9 0 0 0 373.4 282.9Q412.3 258.6 456.4 271.4Z" fill="#b00030"/>
<path d="M424.8 302.8A45.9 45.9 0 0 1 418.7 304.1Q412.3 258.6 373.7 233.8A45.9 45.9 0 0 0 371 238.5Q412.3 258.6 424.8 302.8Z" fill="#b3bbc2"/>
<path d="M418.5 304.1A45.9 45.9 0 0 1 412.3 304.5Q412.3 258.6 378.6 227.4A45.9 45.9 0 0 0 373.8 233.6Q412.3 258.6 418.5 304.1Z" fill="#a9f6fb"/>
<path d="M453.6 238.6A45.9 45.9 0 0 1 454.7 241.1Q412.3 258.6 412.3 212.7A45.9 45.9 0 0 0 411.6 212.7Q412.3 258.6 453.6 238.6Z" fill="#3bb044"/>
<path d="M427.3 302A45.9 45.9 0 0 1 425 302.7Q412.3 258.6 411.6 212.7A45.9 45.9 0 0 0 410.9 212.7Q412.3 258.6 427.3 302Z" fill="#b00030"/>
<path d="M446 227.4A45.9 45.9 0 0 1 447.7 229.4Q412.3 258.6 410.8 212.7A45.9 45.9 0 0 0 410.1 212.8Q412.3 258.6 446 227.4Z" fill="#e9000c"/>
<path d="M445.2 226.6A45.9 45.9 0 0 1 447 228.5Q412.3 258.6 410.1 212.8A45.9 45.9 0 0 0 409.4 212.8Q412.3 258.6 445.2 226.6Z" fill="#e9000c"/>
<path d="M421.6 213.7A45.9 45.9 0 0 1 424.2 214.3Q412.3 258.6 409.3 212.8A45.9 45.9 0 0 0 408.7 212.8Q412.3 258.6 421.6 213.7Z" fill="#0b4a97"/>
<path d="M428.3 301.6A45.9 45.9 0 0 1 426 302.4Q412.3 258.6 408.6 212.8A45.9 45.9 0 0 0 407.9 212.9Q412.3 258.6 428.3 301.6Z" fill="#b00030"/>
<path d="M444.4 225.8A45.9 45.9 0 0 1 446.2 227.7Q412.3 258.6 407.9 212.9A45.9 45.9 0 0 0 407.2 213Q412.3 258.6 444.4 225.8Z" fill="#e9000c"/>
<path d="M429.3 301.2A45.9 45.9 0 0 1 427 302.1Q412.3 258.6 407.1 213A45.9 45.9 0 0 0 406.5 213.1Q412.3 258.6 429.3 301.2Z" fill="#b00030"/>
<path d="M443.5 225A45.9 45.9 0 0 1 445.4 226.8Q412.3 258.6 406.4 213.1A45.9 45.9 0 0 0 405.7 213.2Q412.3 258.6 443.5 225Z" fill="#e9000c"/>
<path d="M420.5 213.4A45.9 45.9 0 0 1 423.1 214Q412.3 258.6 405.7 213.2A45.9 45.9 0 0 0 405 213.3Q412.3 258.6 420.5 213.4Z" fill="#0b4a97"/>
<path d="M442.7 224.2A45.9 45.9 0 0 1 444.6 226Q412.3 258.6 404.9 213.3A45.9 45.9 0 0 0 404.3 213.4Q412.3 258.6 442.7 224.2Z" fill="#e9000c"/>
<path d="M453 237.5A45.9 45.9 0 0 1 454.3 240Q412.3 258.6 404.2 213.4A45.9 45.9 0 0 0 403.5 213.5Q412.3 258.6 453 237.5Z" fill="#3bb044"/>
<path d="M452.5 236.4A45.9 45.9 0 0 1 453.8 238.9Q412.3 258.6 403.5 213.6A45.9 45.9 0 0 0 402.8 213.7Q412.3 258.6 452.5 236.4Z" fill="#3bb044"/>
<path d="M456.7 247A45.9 45.9 0 0 1 457.3 249.4Q412.3 258.6 402.8 213.7A45.9 45.9 0 0 0 402.1 213.8Q412.3 258.6 456.7 247Z" fill="#1c9cbb"/>
<path d="M441.8 223.4A45.9 45.9 0 0 1 443.8 225.2Q412.3 258.6 402 213.9A45.9 45.9 0 0 0 401.4 214Q412.3 258.6 441.8 223.4Z" fill="#e9000c"/>
<path d="M440.9 222.7A45.9 45.9 0 0 1 442.9 224.4Q412.3 258.6 401.3 214A45.9 45.9 0 0 0 400.7 214.2Q412.3 258.6 440.9 222.7Z" fill="#e9000c"/>
<path d="M440 222A45.9 45.9 0 0 1 442.1 223.7Q412.3 258.6 400.6 214.2A45.9 45.9 0 0 0 400 214.4Q412.3 258.6 440 222Z" fill="#e9000c"/>
<path d="M419.3 213.2A45.9 45.9 0 0 1 421.9 213.7Q412.3 258.6 399.9 214.4A45.9 45.9 0 0 0 399.2 214.6Q412.3 258.6 419.3 213.2Z" fill="#0b4a97"/>
<path d="M439.1 221.3A45.9 45.9 0 0 1 441.2 222.9Q412.3 258.6 399.2 214.6A45.9 45.9 0 0 0 398.5 214.8Q412.3 258.6 439.1 221.3Z" fill="#e9000c"/>
<path d="M418.2 213.1A45.9 45.9 0 0 1 420.8 213.5Q412.3 258.6 398.5 214.8A45.9 45.9 0 0 0 397.8 215Q412.3 258.6 418.2 213.1Z" fill="#0b4a97"/>
<path d="M417 212.9A45.9 45.9 0 0 1 419.7 213.3Q412.3 258.6 397.8 215.1A45.9 45.9 0 0 0 397.1 215.3Q412.3 258.6 417 212.9Z" fill="#0b4a97"/>
<path d="M438.1 220.6A45.9 45.9 0 0 1 440.3 222.2Q412.3 258.6 397.1 215.3A45.9 45.9 0 0 0 396.4 215.5Q412.3 258.6 438.1 220.6Z" fill="#e9000c"/>
<path d="M456.4 246A45.9 45.9 0 0 1 457 248.4Q412.3 258.6 396.4 215.5A45.9 45.9 0 0 0 395.8 215.8Q412.3 258.6 456.4 246Z" fill="#1c9cbb"/>
<path d="M430.3 300.8A45.9 45.9 0 0 1 428 301.7Q412.3 258.6 395.7 215.8A45.9 45.9 0 0 0 395.1 216.1Q412.3 258.6 430.3 300.8Z" fill="#b00030"/>
<path d="M457 268.9A45.9 45.9 0 0 1 456.4 271.3Q412.3 258.6 395 216.1A45.9 45.9 0 0 0 394.4 216.3Q412.3 258.6 457 268.9Z" fill="#f9b59b"/>
<path d="M451.9 235.3A45.9 45.9 0 0 1 453.2 237.8Q412.3 258.6 394.3 216.4A45.9 45.9 0 0 0 393.7 216.6Q412.3 258.6 451.9 235.3Z" fill="#3bb044"/>
<path d="M456.1 244.9A45.9 45.9 0 0 1 456.8 247.3Q412.3 258.6 393.7 216.7A45.9 45.9 0 0 0 393 216.9Q412.3 258.6 456.1 244.9Z" fill="#1c9cbb"/>
<path d="M415.9 212.8A45.9 45.9 0 0 1 418.5 213.1Q412.3 258.6 393 217A45.9 45.9 0 0 0 392.4 217.3Q412.3 258.6 415.9 212.8Z" fill="#0b4a97"/>
<path d="M458 254.3A45.9 45.9 0 0 1 458.1 256.2Q412.3 258.6 392.3 217.3A45.9 45.9 0 0 0 391.7 217.6Q412.3 258.6 458 254.3Z" fill="#9a6bb6"/>
<path d="M451.5 234.7A45.9 45.9 0 0 1 452.7 236.7Q412.3 258.6 391.7 217.6A45.9 45.9 0 0 0 391 217.9Q412.3 258.6 451.5 234.7Z" fill="#3bb044"/>
<path d="M437.1 220A45.9 45.9 0 0 1 439.3 221.5Q412.3 258.6 391 217.9A45.9 45.9 0 0 0 390.4 218.3Q412.3 258.6 437.1 220Z" fill="#e9000c"/>
<path d="M436.2 219.4A45.9 45.9 0 0 1 438.4 220.8Q412.3 258.6 390.3 218.3A45.9 45.9 0 0 0 389.7 218.6Q412.3 258.6 436.2 219.4Z" fill="#e9000c"/>
<path d="M455.8 243.9A45.9 45.9 0 0 1 456.5 246.3Q412.3 258.6 389.7 218.7A45.9 45.9 0 0 0 389.1 219Q412.3 258.6 455.8 243.9Z" fill="#1c9cbb"/>
<path d="M457.2 268.2A45.9 45.9 0 0 1 456.7 270.2Q412.3 258.6 389.1 219A45.9 45.9 0 0 0 388.5 219.4Q412.3 258.6 457.2 268.2Z" fill="#f9b59b"/>
<path d="M435.2 218.8A45.9 45.9 0 0 1 437.4 220.2Q412.3 258.6 388.4 219.4A45.9 45.9 0 0 0 387.8 219.8Q412.3 258.6 435.2 218.8Z" fill="#e9000c"/>
<path d="M434.2 218.2A45.9 45.9 0 0 1 436.5 219.6Q412.3 258.6 387.8 219.8A45.9 45.9 0 0 0 387.2 220.2Q412.3 258.6 434.2 218.2Z" fill="#e9000c"/>
<path d="M455.4 242.8A45.9 45.9 0 0 1 456.2 245.2Q412.3 258.6 387.2 220.2A45.9 45.9 0 0 0 386.6 220.6Q412.3 258.6 455.4 242.8Z" fill="#1c9cbb"/>
<path d="M433.1 217.7A45.9 45.9 0 0 1 435.5 219Q412.3 258.6 386.6 220.6A45.9 45.9 0 0 0 386 221Q412.3 258.6 433.1 217.7Z" fill="#e9000c"/>
<path d="M457.2 268.2A45.9 45.9 0 0 1 457 269.2Q412.3 258.6 386 221A45.9 45.9 0 0 0 385.4 221.4Q412.3 258.6 457.2 268.2Z" fill="#f9b59b"/>
<path d="M414.7 212.8A45.9 45.9 0 0 1 417.4 213Q412.3 258.6 385.4 221.4A45.9 45.9 0 0 0 384.8 221.8Q412.3 258.6 414.7 212.8Z" fill="#0b4a97"/>
<path d="M430.9 300.6A45.9 45.9 0 0 1 429 301.4Q412.3 258.6 384.8 221.9A45.9 45.9 0 0 0 384.2 222.3Q412.3 258.6 430.9 300.6Z" fill="#b00030"/>
<path d="M414 212.7A45.9 45.9 0 0 1 416.2 212.9Q412.3 258.6 384.2 222.3A45.9 45.9 0 0 0 383.6 222.7Q412.3 258.6 414 212.7Z" fill="#0b4a97"/>
<path d="M430.9 300.6A45.9 45.9 0 0 1 430 301Q412.3 258.6 383.6 222.8A45.9 45.9 0 0 0 383.1 223.2Q412.3 258.6 430.9 300.6Z" fill="#b00030"/>
<path d="M458 254.3A45.9 45.9 0 0 1 458.1 255.2Q412.3 258.6 383 223.3A45.9 45.9 0 0 0 382.5 223.7Q412.3 258.6 458 254.3Z" fill="#9a6bb6"/>
<path d="M451.5 234.7A45.9 45.9 0 0 1 452.1 235.7Q412.3 258.6 382.5 223.7A45.9 45.9 0 0 0 381.9 224.2Q412.3 258.6 451.5 234.7Z" fill="#3bb044"/>
<path d="M455 241.8A45.9 45.9 0 0 1 455.9 244.2Q412.3 258.6 381.9 224.2A45.9 45.9 0 0 0 381.4 224.7Q412.3 258.6 455 241.8Z" fill="#1c9cbb"/>
<path d="M432.5 217.4A45.9 45.9 0 0 1 434.5 218.4Q412.3 258.6 381.3 224.7A45.9 45.9 0 0 0 380.9 225.2Q412.3 258.6 432.5 217.4Z" fill="#e9000c"/>
<path d="M414 212.7A45.9 45.9 0 0 1 415.1 212.8Q412.3 258.6 380.8 225.2A45.9 45.9 0 0 0 380.3 225.7Q412.3 258.6 414 212.7Z" fill="#0b4a97"/>
<path d="M454.8 241.2A45.9 45.9 0 0 1 455.5 243.1Q412.3 258.6 380.3 225.7A45.9 45.9 0 0 0 379.8 226.2Q412.3 258.6 454.8 241.2Z" fill="#1c9cbb"/>
<path d="M454.8 241.2A45.9 45.9 0 0 1 455.1 242.1Q412.3 258.6 379.7 226.2A45.9 45.9 0 0 0 379.3 226.7Q412.3 258.6 454.8 241.2Z" fill="#1c9cbb"/>
<path d="M432.5 217.4A45.9 45.9 0 0 1 433.5 217.9Q412.3 258.6 379.2 226.8A45.9 45.9 0 0 0 378.8 227.3Q412.3 258.6 432.5 217.4Z" fill="#e9000c"/>
<rect x="466.5" y="214.4" width="3" height="8.2" fill="#fff4e6"/>
<rect x="469.2" y="214.4" width="3" height="8.2" fill="#feefda"/>
<rect x="471.9" y="214.4" width="3" height="8.2" fill="#feeace"/>
<rect x="474.7" y="214.4" width="3" height="8.2" fill="#fee4c0"/>
<rect x="477.4" y="214.4" width="3" height="8.2" fill="#fddeb2"/>
<rect x="480.1" y="214.4" width="3" height="8.2" fill="#fdd7a4"/>
<rect x="482.8" y="214.4" width="3" height="8.2" fill="#fdcf99"/>
<rect x="485.5" y="214.4" width="3" height="8.2" fill="#fdc690"/>
<rect x="488.2" y="214.4" width="3" height="8.2" fill="#fdbd86"/>
<rect x="491" y="214.4" width="3" height="8.2" fill="#fdb07a"/>
<rect x="493.7" y="214.4" width="3" height="8.2" fill="#fca16c"/>
<rect x="496.4" y="214.4" width="3" height="8.2" fill="#fc915e"/>
<rect x="499.1" y="214.4" width="3" height="8.2" fill="#f98355"/>
<rect x="501.8" y="214.4" width="3" height="8.2" fill="#f5754f"/>
<rect x="504.6" y="214.4" width="3" height="8.2" fill="#f06849"/>
<rect x="507.3" y="214.4" width="3" height="8.2" fill="#e9573d"/>
<rect x="510" y="214.4" width="3" height="8.2" fill="#e0452f"/>
<rect x="512.7" y="214.4" width="3" height="8.2" fill="#d83321"/>
<rect x="515.4" y="214.4" width="3" height="8.2" fill="#cd2316"/>
<rect x="518.1" y="214.4" width="3" height="8.2" fill="#c1130c"/>
<rect x="520.9" y="214.4" width="3" height="8.2" fill="#b40302"/>
<rect x="523.6" y="214.4" width="2.7" height="8.2" fill="#a40000"/>
<path d="M466.5 223.9H526.3M467.4 223.5v2.3M471.1 223.5v2.3M480.8 223.5v2.3M490.8 223.5v2.3M500.9 223.5v2.3M510.7 223.5v2.3M520.9 223.5v2.3M526 223.5v2.3" stroke="#000" stroke-width="0.95" fill="none"/>
<text x="481.9" y="231.3" font-size="6.2" text-anchor="middle">0.02</text>
<text x="519.7" y="231.3" font-size="6.2" text-anchor="middle">0.04</text>
<text x="498" y="213.4" font-size="6.6" text-anchor="middle">pvalue</text>
<text x="393.6" y="318.4" font-size="6.0">Pathway</text>
<circle cx="394.5" cy="322.6" r="2.85" fill="#0b4a97"/>
<text x="397.6" y="324.2" font-size="6.18">intracellular lipid transport</text>
<circle cx="394.5" cy="328.8" r="2.85" fill="#e9000c"/>
<text x="397.6" y="330.4" font-size="6.18">positive regulation of lipid metabolic process</text>
<circle cx="394.5" cy="335.6" r="2.85" fill="#3bb044"/>
<text x="397.6" y="337.2" font-size="6.18">regulation of glucose import</text>
<circle cx="394.5" cy="342.7" r="2.85" fill="#1c9cbb"/>
<text x="397.6" y="344.3" font-size="6.18">lipid droplet organization</text>
<circle cx="394.5" cy="349.8" r="2.85" fill="#9a6bb6"/>
<text x="397.6" y="351.4" font-size="6.18">GTP metabolic process</text>
<circle cx="394.5" cy="356" r="2.85" fill="#f9b59b"/>
<text x="397.6" y="357.6" font-size="6.18">lipid storage</text>
<circle cx="394.5" cy="362.8" r="2.85" fill="#b00030"/>
<text x="397.6" y="364.4" font-size="6.18">glycerophospholipid metabolic process</text>
<circle cx="394.5" cy="369.3" r="2.85" fill="#b3bbc2"/>
<text x="397.6" y="370.9" font-size="6.18">sphingomyelin metabolic process</text>
<circle cx="394.5" cy="376.1" r="2.85" fill="#a9f6fb"/>
<text x="397.6" y="377.7" font-size="6.18">lipoprotein transport</text>
</g>
<g id="panelG">
<path d="M110.1 415.5L120.1 445.8M110.1 415.5L103.4 438.8M110.1 415.5L89.9 443.4M110.1 415.5L96.9 451.5M110.1 415.5L133.4 465.5M110.1 415.5L106 466.9M110.1 415.5L97.2 440.9M110.1 415.5L90.7 438.5M110.1 415.5L111.8 444.9M110.1 415.5L123.1 449M110.1 415.5L78.2 467.7M89.8 418.3L89.9 443.4M89.8 418.3L72.1 454.5M89.8 418.3L78.7 446.4M89.8 418.3L120.1 445.8M89.8 418.3L111.8 444.9M89.8 418.3L97.2 440.9M89.8 418.3L112.8 442.4M89.8 418.3L96.9 451.5M89.8 418.3L78.2 467.7M89.8 418.3L103.8 458.2M89.8 418.3L95 444.2M89.8 418.3L125 452.9M73.9 424.1L90.7 438.5M73.9 424.1L85.1 453.6M73.9 424.1L97.2 440.9M73.9 424.1L95 444.2M73.9 424.1L103.4 438.8M73.9 424.1L93.3 469.7M73.9 424.1L90.2 466.1M73.9 424.1L106 442.4M73.9 424.1L78.2 467.7M73.9 424.1L75.8 457M73.9 424.1L120.1 445.8M125.8 423.7L127.2 456.7M125.8 423.7L103.4 438.8M125.8 423.7L114.7 460.9M125.8 423.7L106.7 451.9M125.8 423.7L131.1 458.9M125.8 423.7L127.4 468.2M125.8 423.7L112.8 442.4M125.8 423.7L103.8 458.2M125.8 423.7L106 442.4M125.8 423.7L133.7 472.3M125.8 423.7L119.9 473.8M58.8 435.1L75.8 457M58.8 435.1L73.9 449.4M58.8 435.1L103.4 438.8M58.8 435.1L90.7 438.5M58.8 435.1L83.6 472.8M58.8 435.1L67.3 467.7M58.8 435.1L78.7 446.4M58.8 435.1L95 444.2M58.8 435.1L106 442.4M58.8 435.1L86 443.4M58.8 435.1L68 460.2M58.8 435.1L97.2 440.9M140.2 435.2L131.1 458.9M140.2 435.2L123.1 449M140.2 435.2L115.5 465.5M140.2 435.2L114.7 460.9M140.2 435.2L127.4 468.2M140.2 435.2L119.9 473.8M140.2 435.2L133.7 472.3M140.2 435.2L106 466.9M140.2 435.2L86 443.4M140.2 435.2L133.4 465.5M140.2 435.2L103.4 438.8M140.2 435.2L103.8 458.2M140.2 435.2L93.3 469.7M140.2 435.2L121.3 497.9M48.4 449.9L67.3 467.7M48.4 449.9L73.9 449.4M48.4 449.9L78.7 446.4M48.4 449.9L93.3 469.7M48.4 449.9L69.9 473.8M48.4 449.9L97.2 440.9M48.4 449.9L82.2 487.4M48.4 449.9L75.8 457M48.4 449.9L83.6 472.8M48.4 449.9L103.8 458.2M48.4 449.9L72.1 454.5M48.4 449.9L106 442.4M48.4 449.9L106 466.9M150.3 450.2L125 452.9M150.3 450.2L115.5 465.5M150.3 450.2L133.7 472.3M150.3 450.2L127.4 468.2M150.3 450.2L123.1 449M150.3 450.2L128.6 487.4M150.3 450.2L106 442.4M150.3 450.2L108.9 483.7M150.3 450.2L97.2 440.9M150.3 450.2L114.7 460.9M150.3 450.2L120.1 445.8M150.3 450.2L103.4 438.8M44.3 467.9L67.3 467.7M44.3 467.9L74.3 490.6M44.3 467.9L80.1 495M44.3 467.9L78.2 467.7M44.3 467.9L92.1 490.6M44.3 467.9L68 470.1M44.3 467.9L75.8 457M44.3 467.9L68.5 488M44.3 467.9L82.2 487.4M44.3 467.9L72.1 454.5M155.3 465.7L131.1 458.9M155.3 465.7L133.7 472.3M155.3 465.7L120.1 445.8M155.3 465.7L123.1 449M155.3 465.7L133.4 465.5M155.3 465.7L127.4 468.2M155.3 465.7L106.7 451.9M155.3 465.7L124.5 485.2M155.3 465.7L97.5 471.2M155.3 465.7L114.7 455.5M155.3 465.7L115.5 465.5M155.3 465.7L103.8 458.2M46.5 486.1L70.9 485.8M46.5 486.1L72.1 454.5M46.5 486.1L73.9 480.4M46.5 486.1L68 460.2M46.5 486.1L88.9 457M46.5 486.1L78.7 446.4M46.5 486.1L73.9 449.4M46.5 486.1L92.1 490.6M46.5 486.1L68 470.1M46.5 486.1L77.2 495.7M46.5 486.1L78.2 467.7M46.5 486.1L97.5 471.2M46.5 486.1L110.7 503M153.2 487L128.2 492.5M153.2 487L130.1 477.9M153.2 487L106 466.9M153.2 487L127.4 468.2M153.2 487L125 452.9M153.2 487L119.9 473.8M153.2 487L97.7 482.6M153.2 487L93.9 495.7M153.2 487L103.8 458.2M153.2 487L133.7 472.3M153.2 487L131.1 482.1M153.2 487L121.3 497.9M153.2 487L90.2 466.1M53 502.4L70.9 485.8M53 502.4L77.2 495.7M53 502.4L93.9 495.7M53 502.4L77.5 465M53 502.4L83.6 472.8M53 502.4L92.1 490.6M53 502.4L90.2 502.6M53 502.4L74.3 490.6M53 502.4L78.2 467.7M53 502.4L68.5 479.2M53 502.4L93.3 469.7M53 502.4L69.9 473.8M146 503L128.6 487.4M146 503L131.1 482.1M146 503L124.5 485.2M146 503L128.2 492.5M146 503L115 490.1M146 503L119.9 473.8M146 503L131.1 458.9M146 503L106.4 502.6M146 503L98.7 504M146 503L133.4 465.5M146 503L106.4 505.9M65 516.4L93.9 495.7M65 516.4L73.9 480.4M65 516.4L106.4 502.6M65 516.4L67.3 467.7M65 516.4L80.1 495M65 516.4L68.5 488M65 516.4L104.2 473.8M65 516.4L69.9 473.8M65 516.4L84.8 501.2M65 516.4L72.1 454.5M65 516.4L82.2 487.4M65 516.4L108.9 483.7M133.6 517L117.4 501.2M133.6 517L130.1 477.9M133.6 517L112.3 496M133.6 517L84.8 501.2M133.6 517L92.1 490.6M133.6 517L131.1 458.9M133.6 517L128.6 487.4M133.6 517L131.1 482.1M133.6 517L80.1 495M133.6 517L133.4 465.5M133.6 517L98.7 504M81.2 524.4L82.2 487.4M81.2 524.4L92.1 490.6M81.2 524.4L89.2 499.3M81.2 524.4L98.2 496.4M81.2 524.4L93.9 495.7M81.2 524.4L121.3 497.9M81.2 524.4L106.4 505.9M81.2 524.4L108.9 483.7M81.2 524.4L69.9 473.8M81.2 524.4L73.9 480.4M81.2 524.4L97.5 471.2M81.2 524.4L119.9 473.8M118 524.4L110.7 503M118 524.4L89.2 499.3M118 524.4L84.8 501.2M118 524.4L107.4 486.9M118 524.4L98.2 496.4M118 524.4L128.6 487.4M118 524.4L77.2 495.7M118 524.4L130.1 477.9M118 524.4L106.4 502.6M118 524.4L106.4 505.9M118 524.4L70.9 485.8M118 524.4L80.1 495M118 524.4L92.1 490.6M118 524.4L108.9 483.7M99.5 529.2L90.2 502.6M99.5 529.2L107.4 486.9M99.5 529.2L84.8 501.2M99.5 529.2L92.1 490.6M99.5 529.2L108.9 483.7M99.5 529.2L124.5 485.2M99.5 529.2L112.3 496M99.5 529.2L97.7 482.6M99.5 529.2L98.7 504M99.5 529.2L106.4 505.9M99.5 404.1L110.1 415.5M99.5 404.1L89.8 418.3M99.5 404.1L73.9 424.1M99.5 404.1L125.8 423.7M99.5 404.1L140.2 435.2M32.5 435.1L58.8 435.1M32.5 435.1L73.9 424.1M32.5 435.1L48.4 449.9M32.5 435.1L44.3 467.9M172 438.2L140.2 435.2M172 438.2L150.3 450.2M172 438.2L155.3 465.7M172 438.2L153.2 487M22.9 476.8L46.5 486.1M22.9 476.8L44.3 467.9M22.9 476.8L48.4 449.9M167.6 481.4L153.2 487M167.6 481.4L155.3 465.7M167.6 481.4L146 503M32 506.6L53 502.4M32 506.6L46.5 486.1M32 506.6L65 516.4M64.6 529.4L65 516.4M64.6 529.4L81.2 524.4M64.6 529.4L53 502.4M145 526.6L118 524.4M145 526.6L133.6 517M145 526.6L146 503M98.3 539.4L99.5 529.2M98.3 539.4L81.2 524.4M98.3 539.4L118 524.4M98.3 539.4L65 516.4" stroke="#d0d0d0" stroke-width="0.38" fill="none"/>
<circle cx="90.7" cy="438.5" r="2.3" fill="#d40a0a"/>
<circle cx="97.2" cy="440.9" r="2.3" fill="#d40a0a"/>
<circle cx="103.4" cy="438.8" r="2.3" fill="#d40a0a"/>
<circle cx="106" cy="442.4" r="2.3" fill="#d40a0a"/>
<circle cx="112.8" cy="442.4" r="2.3" fill="#2f9e16"/>
<circle cx="111.8" cy="444.9" r="2.3" fill="#2f9e16"/>
<circle cx="86" cy="443.4" r="2.3" fill="#d40a0a"/>
<circle cx="89.9" cy="443.4" r="2.3" fill="#2f9e16"/>
<circle cx="95" cy="444.2" r="2.3" fill="#d40a0a"/>
<circle cx="78.7" cy="446.4" r="2.3" fill="#d40a0a"/>
<circle cx="120.1" cy="445.8" r="2.3" fill="#2f9e16"/>
<circle cx="73.9" cy="449.4" r="2.3" fill="#d40a0a"/>
<circle cx="123.1" cy="449" r="2.3" fill="#d40a0a"/>
<circle cx="96.9" cy="451.5" r="2.3" fill="#d40a0a"/>
<circle cx="106.7" cy="451.9" r="2.3" fill="#d40a0a"/>
<circle cx="125" cy="452.9" r="2.3" fill="#2f9e16"/>
<circle cx="85.1" cy="453.6" r="2.3" fill="#2f9e16"/>
<circle cx="72.1" cy="454.5" r="2.3" fill="#2f9e16"/>
<circle cx="75.8" cy="457" r="2.3" fill="#d40a0a"/>
<circle cx="88.9" cy="457" r="2.3" fill="#2f9e16"/>
<circle cx="114.7" cy="455.5" r="2.3" fill="#2f9e16"/>
<circle cx="127.2" cy="456.7" r="2.3" fill="#2f9e16"/>
<circle cx="103.8" cy="458.2" r="2.3" fill="#d40a0a"/>
<circle cx="131.1" cy="458.9" r="2.3" fill="#2f9e16"/>
<circle cx="68" cy="460.2" r="2.3" fill="#d40a0a"/>
<circle cx="114.7" cy="460.9" r="2.3" fill="#2f9e16"/>
<circle cx="77.5" cy="465" r="2.3" fill="#2f9e16"/>
<circle cx="78.2" cy="467.7" r="2.3" fill="#2f9e16"/>
<circle cx="90.2" cy="466.1" r="2.3" fill="#2f9e16"/>
<circle cx="106" cy="466.9" r="2.3" fill="#d40a0a"/>
<circle cx="115.5" cy="465.5" r="2.3" fill="#d40a0a"/>
<circle cx="133.4" cy="465.5" r="2.3" fill="#2f9e16"/>
<circle cx="67.3" cy="467.7" r="2.3" fill="#2f9e16"/>
<circle cx="68" cy="470.1" r="2.3" fill="#2f9e16"/>
<circle cx="118.8" cy="468.7" r="2.3" fill="#2f9e16"/>
<circle cx="127.4" cy="468.2" r="2.3" fill="#2f9e16"/>
<circle cx="93.3" cy="469.7" r="2.3" fill="#d40a0a"/>
<circle cx="97.5" cy="471.2" r="2.3" fill="#d40a0a"/>
<circle cx="83.6" cy="472.8" r="2.3" fill="#2f9e16"/>
<circle cx="69.9" cy="473.8" r="2.3" fill="#2f9e16"/>
<circle cx="104.2" cy="473.8" r="2.3" fill="#2f9e16"/>
<circle cx="119.9" cy="473.8" r="2.3" fill="#2f9e16"/>
<circle cx="133.7" cy="472.3" r="2.3" fill="#2f9e16"/>
<circle cx="68.5" cy="479.2" r="2.3" fill="#d40a0a"/>
<circle cx="73.9" cy="480.4" r="2.3" fill="#d40a0a"/>
<circle cx="130.1" cy="477.9" r="2.3" fill="#d40a0a"/>
<circle cx="97.7" cy="482.6" r="2.3" fill="#d40a0a"/>
<circle cx="131.1" cy="482.1" r="2.3" fill="#d40a0a"/>
<circle cx="108.9" cy="483.7" r="2.3" fill="#2f9e16"/>
<circle cx="70.9" cy="485.8" r="2.3" fill="#d40a0a"/>
<circle cx="68.5" cy="488" r="2.3" fill="#2f9e16"/>
<circle cx="107.4" cy="486.9" r="2.3" fill="#d40a0a"/>
<circle cx="82.2" cy="487.4" r="2.3" fill="#d40a0a"/>
<circle cx="124.5" cy="485.2" r="2.3" fill="#d40a0a"/>
<circle cx="128.6" cy="487.4" r="2.3" fill="#d40a0a"/>
<circle cx="74.3" cy="490.6" r="2.3" fill="#2f9e16"/>
<circle cx="92.1" cy="490.6" r="2.3" fill="#d40a0a"/>
<circle cx="115" cy="490.1" r="2.3" fill="#d40a0a"/>
<circle cx="128.2" cy="492.5" r="2.3" fill="#2f9e16"/>
<circle cx="77.2" cy="495.7" r="2.3" fill="#d40a0a"/>
<circle cx="80.1" cy="495" r="2.3" fill="#2f9e16"/>
<circle cx="93.9" cy="495.7" r="2.3" fill="#d40a0a"/>
<circle cx="98.2" cy="496.4" r="2.3" fill="#d40a0a"/>
<circle cx="112.3" cy="496" r="2.3" fill="#d40a0a"/>
<circle cx="121.3" cy="497.9" r="2.3" fill="#d40a0a"/>
<circle cx="89.2" cy="499.3" r="2.3" fill="#d40a0a"/>
<circle cx="84.8" cy="501.2" r="2.3" fill="#2f9e16"/>
<circle cx="90.2" cy="502.6" r="2.3" fill="#2f9e16"/>
<circle cx="117.4" cy="501.2" r="2.3" fill="#2f9e16"/>
<circle cx="98.7" cy="504" r="2.3" fill="#d40a0a"/>
<circle cx="106.4" cy="502.6" r="2.3" fill="#2f9e16"/>
<circle cx="110.7" cy="503" r="2.3" fill="#d40a0a"/>
<circle cx="106.4" cy="505.9" r="2.3" fill="#2f9e16"/>
<path d="M110.1 413.9l2.5 1.6l-2.5 1.6l-2.5 -1.6z" fill="#86cbf4"/>
<path d="M89.8 416.7l2.5 1.6l-2.5 1.6l-2.5 -1.6z" fill="#86cbf4"/>
<path d="M73.9 422.5l2.5 1.6l-2.5 1.6l-2.5 -1.6z" fill="#86cbf4"/>
<path d="M125.8 422.1l2.5 1.6l-2.5 1.6l-2.5 -1.6z" fill="#86cbf4"/>
<path d="M58.8 433.5l2.5 1.6l-2.5 1.6l-2.5 -1.6z" fill="#86cbf4"/>
<path d="M140.2 433.6l2.5 1.6l-2.5 1.6l-2.5 -1.6z" fill="#86cbf4"/>
<path d="M48.4 448.3l2.5 1.6l-2.5 1.6l-2.5 -1.6z" fill="#86cbf4"/>
<path d="M150.3 448.6l2.5 1.6l-2.5 1.6l-2.5 -1.6z" fill="#86cbf4"/>
<path d="M44.3 466.3l2.5 1.6l-2.5 1.6l-2.5 -1.6z" fill="#86cbf4"/>
<path d="M155.3 464.1l2.5 1.6l-2.5 1.6l-2.5 -1.6z" fill="#86cbf4"/>
<path d="M46.5 484.5l2.5 1.6l-2.5 1.6l-2.5 -1.6z" fill="#86cbf4"/>
<path d="M153.2 485.4l2.5 1.6l-2.5 1.6l-2.5 -1.6z" fill="#86cbf4"/>
<path d="M53 500.8l2.5 1.6l-2.5 1.6l-2.5 -1.6z" fill="#86cbf4"/>
<path d="M146 501.4l2.5 1.6l-2.5 1.6l-2.5 -1.6z" fill="#86cbf4"/>
<path d="M65 514.8l2.5 1.6l-2.5 1.6l-2.5 -1.6z" fill="#86cbf4"/>
<path d="M133.6 515.4l2.5 1.6l-2.5 1.6l-2.5 -1.6z" fill="#86cbf4"/>
<path d="M81.2 522.8l2.5 1.6l-2.5 1.6l-2.5 -1.6z" fill="#86cbf4"/>
<path d="M118 522.8l2.5 1.6l-2.5 1.6l-2.5 -1.6z" fill="#86cbf4"/>
<path d="M99.5 527.6l2.5 1.6l-2.5 1.6l-2.5 -1.6z" fill="#86cbf4"/>
<rect x="97.2" y="401.8" width="4.6" height="4.6" fill="#2a981a"/>
<rect x="30.2" y="432.8" width="4.6" height="4.6" fill="#2a981a"/>
<rect x="169.7" y="435.9" width="4.6" height="4.6" fill="#cc0c0c"/>
<rect x="20.6" y="474.5" width="4.6" height="4.6" fill="#2a981a"/>
<rect x="165.3" y="479.1" width="4.6" height="4.6" fill="#2a981a"/>
<rect x="29.7" y="504.3" width="4.6" height="4.6" fill="#cc0c0c"/>
<rect x="62.3" y="527.1" width="4.6" height="4.6" fill="#cc0c0c"/>
<rect x="142.7" y="524.3" width="4.6" height="4.6" fill="#2a981a"/>
<rect x="96" y="537.1" width="4.6" height="4.6" fill="#cc0c0c"/>
<text x="114.8" y="417.1" font-size="4.95" text-anchor="middle">hsa-miR-424-5p</text>
<text x="91.5" y="419.9" font-size="4.95" text-anchor="middle">hsa-miR-497-5p</text>
<text x="76" y="425.7" font-size="4.95" text-anchor="middle">hsa-miR-103a-3p</text>
<text x="131.7" y="425.3" font-size="4.95" text-anchor="middle">hsa-miR-130b-3p</text>
<text x="63" y="436.7" font-size="4.95" text-anchor="middle">hsa-miR-107</text>
<text x="145.2" y="436.8" font-size="4.95" text-anchor="middle">hsa-miR-15b-5p</text>
<text x="53.6" y="451.5" font-size="4.95" text-anchor="middle">hsa-miR-221-3p</text>
<text x="155.3" y="451.8" font-size="4.95" text-anchor="middle">hsa-miR-139-5p</text>
<text x="49.2" y="469.5" font-size="4.95" text-anchor="middle">hsa-miR-361-5p</text>
<text x="160" y="467.3" font-size="4.95" text-anchor="middle">hsa-miR-129-5p</text>
<text x="48.3" y="487.7" font-size="4.95" text-anchor="middle">hsa-miR-744-5p</text>
<text x="156.7" y="488.6" font-size="4.95" text-anchor="middle">hsa-miR-22-3p</text>
<text x="58.1" y="504" font-size="4.95" text-anchor="middle">hsa-miR-513c-5p</text>
<text x="150.8" y="504.6" font-size="4.95" text-anchor="middle">hsa-let-7b-5p</text>
<text x="66.1" y="518" font-size="4.95" text-anchor="middle">hsa-miR-324-3p</text>
<text x="138.5" y="518.6" font-size="4.95" text-anchor="middle">hsa-miR-195-5p</text>
<text x="80.2" y="526" font-size="4.95" text-anchor="middle">hsa-miR-193b-3p</text>
<text x="120" y="526" font-size="4.95" text-anchor="middle">hsa-miR-16-5p</text>
<text x="102.2" y="530.8" font-size="4.95" text-anchor="middle">hsa-miR-15a-5p</text>
<text x="101.6" y="405.7" font-size="4.8" text-anchor="middle">FMR1</text>
<text x="29.7" y="436.7" font-size="4.8" text-anchor="middle">HNRNPA2B1</text>
<text x="174.2" y="439.8" font-size="4.8" text-anchor="middle">RBM15</text>
<text x="25.6" y="478.4" font-size="4.8" text-anchor="middle">HNRNPC</text>
<text x="170.2" y="483" font-size="4.8" text-anchor="middle">XRN1</text>
<text x="32.5" y="508.2" font-size="4.8" text-anchor="middle">YTHDF3</text>
<text x="66.3" y="531" font-size="4.8" text-anchor="middle">ALKBH5</text>
<text x="148" y="528.2" font-size="4.8" text-anchor="middle">EIF3H</text>
<text x="99.8" y="541" font-size="4.8" text-anchor="middle">YTHDC1</text>
</g>
<g id="panelH">
<path d="M282.9 411L223.3 450.3M282.9 411L348.4 445M282.9 411L284.4 463.4M282.9 411L228.2 507.9M282.9 411L348.4 505.5M223.3 450.3L348.4 445M223.3 450.3L284.4 463.4M223.3 450.3L348.4 505.5M223.3 450.3L228.2 507.9M348.4 445L284.4 463.4M348.4 445L228.2 507.9M348.4 445L348.4 505.5M284.4 463.4L348.4 505.5M284.4 463.4L284.4 537.5M284.4 463.4L228.2 507.9M228.2 507.9L348.4 505.5M228.2 507.9L323.6 530.3M228.2 507.9L284.4 537.5M348.4 505.5L323.6 530.3M348.4 505.5L284.4 537.5M323.6 530.3L284.4 537.5M223.3 452.6L348.4 447.6M223.3 453L348.4 508.5M286.5 412L346.5 503" stroke="#858585" stroke-width="1.3" fill="none"/>
<rect x="278.4" y="406.5" width="9" height="9" rx="1.3" fill="#e0491c"/>
<rect x="218.8" y="445.8" width="9" height="9" rx="1.3" fill="#e01212"/>
<rect x="343.9" y="440.5" width="9" height="9" rx="1.3" fill="#e0491c"/>
<rect x="279.9" y="458.9" width="9" height="9" rx="1.3" fill="#2fb251"/>
<rect x="223.7" y="503.4" width="9" height="9" rx="1.3" fill="#23a123"/>
<rect x="343.9" y="501" width="9" height="9" rx="1.3" fill="#e01212"/>
<rect x="319.1" y="525.8" width="9" height="9" rx="1.3" fill="#3aa61f"/>
<rect x="279.9" y="533" width="9" height="9" rx="1.3" fill="#23b156"/>
<text x="282.9" y="413" font-size="5.9" text-anchor="middle">ALKBH5</text>
<text x="223.3" y="452.3" font-size="5.9" text-anchor="middle">YTHDC1</text>
<text x="348.4" y="447" font-size="5.9" text-anchor="middle">RBM15</text>
<text x="284.4" y="465.4" font-size="5.9" text-anchor="middle">HNRNPA2B1</text>
<text x="228.2" y="509.9" font-size="5.9" text-anchor="middle">HNRNPC</text>
<text x="348.4" y="507.5" font-size="5.9" text-anchor="middle">YTHDF3</text>
<text x="323.6" y="532.3" font-size="5.9" text-anchor="middle">XRN1</text>
<text x="284.4" y="539.5" font-size="5.9" text-anchor="middle">FMR1</text>
</g>
<text x="6" y="12" font-size="9.5">A</text>
<text x="151.8" y="12" font-size="9.5">B</text>
<text x="370.5" y="12" font-size="9.5">C</text>
<text x="5.8" y="203.7" font-size="9.5">D</text>
<text x="182.6" y="203.7" font-size="9.5">E</text>
<text x="373.2" y="203.4" font-size="9.5">F</text>
<text x="4.6" y="407" font-size="9.5">G</text>
<text x="207.9" y="407.2" font-size="9.5">H</text>
</svg>
</body></html>
